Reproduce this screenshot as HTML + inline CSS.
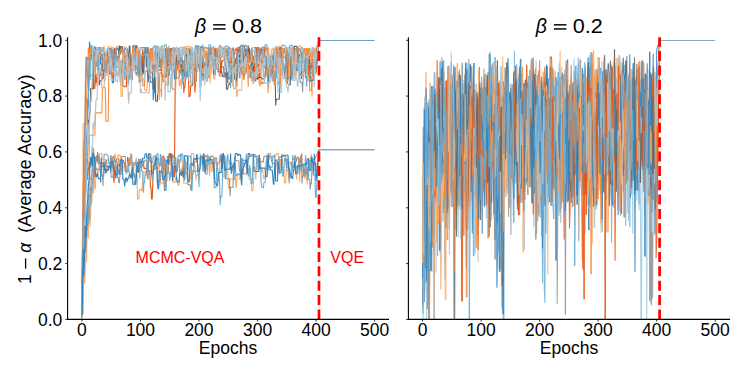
<!DOCTYPE html>
<html><head><meta charset="utf-8"><style>
html,body{margin:0;padding:0;background:#fff;}
svg{display:block;font-family:"Liberation Sans",sans-serif;}
</style></head><body>
<svg width="747" height="376" viewBox="0 0 747 376">
<rect width="747" height="376" fill="#fff"/>
<defs>
<filter id="bl" x="0" y="0" width="1" height="1"><feGaussianBlur stdDeviation="0.4"/></filter>
<clipPath id="cl"><rect x="67.6" y="37.2" width="321.4" height="282.2"/></clipPath>
<clipPath id="cr"><rect x="408.4" y="37.2" width="321.6" height="282.2"/></clipPath>
</defs>
<g clip-path="url(#cl)"><g fill="none" stroke-width="1.1" stroke-linejoin="round" stroke-opacity="1.0" filter="url(#bl)">
<polyline points="81.9,311.9 82.5,276.4 83.1,264.7 83.7,199.0 84.2,180.0 84.8,180.0 85.4,180.0 86.0,180.0 86.6,180.0 87.2,180.0 87.8,167.6 88.3,167.6 88.9,167.6 89.5,176.1 90.1,179.1 90.7,179.1 91.3,179.1 91.9,179.1 92.4,179.1 93.0,179.1 93.6,179.1 94.2,179.1 94.8,156.6 95.4,157.9 96.0,157.9 96.5,157.9 97.1,161.0 97.7,152.6 98.3,162.9 98.9,162.9 99.5,162.9 100.1,162.9 100.6,162.9 101.2,162.9 101.8,162.9 102.4,162.9 103.0,162.9 103.6,173.0 104.1,173.0 104.7,173.0 105.3,173.0 105.9,166.4 106.5,166.4 107.1,166.4 107.7,166.4 108.2,170.6 108.8,167.2 109.4,167.2 110.0,167.2 110.6,160.4 111.2,159.8 111.8,159.8 112.3,159.8 112.9,159.8 113.5,177.0 114.1,182.6 114.7,166.7 115.3,164.0 115.9,164.0 116.4,158.8 117.0,158.8 117.6,158.8 118.2,158.8 118.8,158.8 119.4,173.9 120.0,169.7 120.5,169.7 121.1,160.6 121.7,160.6 122.3,160.6 122.9,160.6 123.5,160.6 124.1,163.3 124.6,163.3 125.2,170.9 125.8,170.9 126.4,170.9 127.0,170.9 127.6,157.3 128.2,159.3 128.7,166.2 129.3,165.3 129.9,157.8 130.5,157.8 131.1,165.0 131.7,165.0 132.3,165.0 132.8,165.0 133.4,165.0 134.0,165.0 134.6,165.0 135.2,165.0 135.8,160.8 136.4,163.7 136.9,163.7 137.5,163.7 138.1,163.7 138.7,172.5 139.3,165.3 139.9,166.5 140.5,166.5 141.0,167.3 141.6,161.1 142.2,161.1 142.8,161.1 143.4,161.3 144.0,168.4 144.5,168.4 145.1,168.4 145.7,168.4 146.3,168.4 146.9,173.0 147.5,161.9 148.1,170.9 148.6,170.9 149.2,170.9 149.8,170.9 150.4,187.3 151.0,187.3 151.6,198.9 152.2,198.9 152.7,186.2 153.3,170.0 153.9,169.3 154.5,169.3 155.1,169.3 155.7,158.8 156.3,158.8 156.8,158.8 157.4,158.8 158.0,158.8 158.6,165.0 159.2,165.0 159.8,165.0 160.4,165.0 160.9,163.0 161.5,158.1 162.1,158.1 162.7,156.2 163.3,156.2 163.9,156.2 164.5,190.5 165.0,190.5 165.6,190.5 166.2,173.5 166.8,173.5 167.4,173.5 168.0,173.5 168.6,163.6 169.1,153.8 169.7,153.8 170.3,153.8 170.9,164.2 171.5,164.2 172.1,164.2 172.7,169.6 173.2,176.7 173.8,176.7 174.4,176.7 175.0,107.3 175.6,56.0 176.2,56.0 176.8,56.0 177.3,56.0 177.9,56.0 178.5,56.0 179.1,72.8 179.7,71.7 180.3,71.6 180.8,65.0 181.4,65.0 182.0,65.0 182.6,68.4 183.2,68.4 183.8,92.7 184.4,87.1 184.9,87.1 185.5,77.0 186.1,77.0 186.7,77.0 187.3,59.7 187.9,76.5 188.5,76.5 189.0,96.7 189.6,96.7 190.2,94.5 190.8,85.4 191.4,85.4 192.0,85.4 192.6,85.4 193.1,63.3 193.7,63.3 194.3,73.2 194.9,73.2 195.5,49.5 196.1,48.7 196.7,48.7 197.2,48.7 197.8,48.2 198.4,48.2 199.0,52.2 199.6,52.2 200.2,50.1 200.8,66.2 201.3,47.4 201.9,47.4 202.5,47.4 203.1,50.5 203.7,69.5 204.3,62.7 204.9,62.7 205.4,62.7 206.0,64.0 206.6,64.0 207.2,65.1 207.8,68.6 208.4,68.6 209.0,50.9 209.5,76.0 210.1,57.6 210.7,57.6 211.3,57.6 211.9,57.6 212.5,62.4 213.1,62.4 213.6,62.4 214.2,62.4 214.8,62.4 215.4,56.3 216.0,56.3 216.6,68.6 217.2,56.0 217.7,56.0 218.3,56.0 218.9,59.6 219.5,55.1 220.1,55.1 220.7,74.0 221.2,66.9 221.8,66.9 222.4,66.9 223.0,66.9 223.6,66.9 224.2,77.4 224.8,73.0 225.3,73.0 225.9,73.0 226.5,73.0 227.1,73.0 227.7,83.0 228.3,72.1 228.9,72.1 229.4,72.1 230.0,50.9 230.6,66.8 231.2,67.7 231.8,67.7 232.4,50.3 233.0,50.3 233.5,47.9 234.1,58.6 234.7,58.6 235.3,64.6 235.9,64.6 236.5,64.6 237.1,47.8 237.6,47.8 238.2,47.8 238.8,47.8 239.4,47.8 240.0,47.8 240.6,60.2 241.2,60.2 241.7,60.4 242.3,58.8 242.9,47.4 243.5,58.5 244.1,62.7 244.7,63.6 245.3,63.6 245.8,63.6 246.4,67.0 247.0,73.1 247.6,73.1 248.2,56.9 248.8,56.9 249.4,56.9 249.9,56.9 250.5,56.9 251.1,56.9 251.7,50.1 252.3,66.0 252.9,66.0 253.5,56.3 254.0,56.3 254.6,56.3 255.2,47.5 255.8,47.5 256.4,47.5 257.0,55.4 257.6,55.4 258.1,48.5 258.7,48.1 259.3,48.1 259.9,66.9 260.5,49.4 261.1,49.4 261.6,49.4 262.2,47.3 262.8,47.3 263.4,47.3 264.0,47.3 264.6,67.7 265.2,47.5 265.7,50.8 266.3,48.1 266.9,48.1 267.5,48.1 268.1,48.1 268.7,53.7 269.3,58.5 269.8,58.5 270.4,58.5 271.0,58.5 271.6,58.5 272.2,58.7 272.8,58.7 273.4,76.4 273.9,80.0 274.5,80.0 275.1,80.0 275.7,70.5 276.3,60.4 276.9,47.8 277.5,47.8 278.0,66.0 278.6,72.6 279.2,49.5 279.8,49.5 280.4,49.5 281.0,47.4 281.6,57.3 282.1,57.3 282.7,57.3 283.3,57.3 283.9,49.3 284.5,52.2 285.1,52.2 285.7,52.2 286.2,52.2 286.8,54.0 287.4,83.5 288.0,58.4 288.6,58.4 289.2,58.4 289.8,58.4 290.3,62.4 290.9,62.4 291.5,58.5 292.1,58.5 292.7,56.7 293.3,56.5 293.9,48.4 294.4,48.4 295.0,50.3 295.6,50.3 296.2,50.3 296.8,47.4 297.4,48.6 297.9,48.6 298.5,54.2 299.1,54.2 299.7,54.2 300.3,55.3 300.9,58.0 301.5,58.0 302.0,62.9 302.6,62.9 303.2,62.0 303.8,59.7 304.4,48.7 305.0,48.7 305.6,48.7 306.1,66.2 306.7,66.2 307.3,72.8 307.9,49.4 308.5,76.4 309.1,76.4 309.7,76.4 310.2,76.4 310.8,78.1 311.4,78.1 312.0,80.3 312.6,80.3 313.2,51.6 313.8,51.6 314.3,51.6 314.9,50.4 315.5,50.4 316.1,73.2 319.0,40.3" stroke="#e6550d"/>
<polyline points="81.9,305.4 82.5,305.4 83.1,124.0 83.7,124.0 84.2,124.0 84.8,124.0 85.4,124.0 86.0,124.0 86.6,124.0 87.2,101.7 87.8,101.7 88.3,101.7 88.9,101.7 89.5,101.7 90.1,101.7 90.7,101.7 91.3,101.7 91.9,85.0 92.4,85.0 93.0,85.0 93.6,85.0 94.2,85.0 94.8,85.0 95.4,85.0 96.0,85.0 96.5,85.0 97.1,85.0 97.7,85.0 98.3,85.0 98.9,85.0 99.5,73.8 100.1,73.8 100.6,73.8 101.2,73.8 101.8,73.8 102.4,73.8 103.0,73.8 103.6,73.8 104.1,46.1 104.7,72.1 105.3,74.5 105.9,74.5 106.5,60.5 107.1,60.5 107.7,57.1 108.2,46.9 108.8,46.9 109.4,46.9 110.0,46.9 110.6,46.9 111.2,47.3 111.8,47.3 112.3,47.3 112.9,47.3 113.5,47.3 114.1,62.1 114.7,62.1 115.3,66.3 115.9,62.4 116.4,46.7 117.0,46.7 117.6,46.7 118.2,46.7 118.8,45.8 119.4,57.2 120.0,81.8 120.5,81.8 121.1,96.4 121.7,96.4 122.3,96.4 122.9,59.8 123.5,59.8 124.1,59.8 124.6,59.8 125.2,59.8 125.8,59.8 126.4,59.8 127.0,58.5 127.6,58.5 128.2,58.5 128.7,58.5 129.3,58.5 129.9,58.5 130.5,58.5 131.1,61.7 131.7,61.7 132.3,58.3 132.8,66.1 133.4,66.1 134.0,51.8 134.6,49.9 135.2,45.8 135.8,50.0 136.4,64.1 136.9,58.5 137.5,63.3 138.1,63.3 138.7,63.3 139.3,63.3 139.9,69.7 140.5,69.7 141.0,69.7 141.6,69.7 142.2,69.7 142.8,66.8 143.4,66.8 144.0,60.2 144.5,89.6 145.1,89.6 145.7,90.9 146.3,90.9 146.9,90.9 147.5,77.2 148.1,59.2 148.6,59.2 149.2,59.2 149.8,59.2 150.4,78.6 151.0,78.6 151.6,77.3 152.2,77.3 152.7,77.3 153.3,68.3 153.9,68.0 154.5,65.2 155.1,65.2 155.7,65.2 156.3,70.5 156.8,70.5 157.4,70.5 158.0,61.2 158.6,61.2 159.2,67.0 159.8,49.8 160.4,49.8 160.9,49.8 161.5,51.9 162.1,51.9 162.7,61.4 163.3,61.4 163.9,61.4 164.5,50.1 165.0,55.0 165.6,56.8 166.2,56.8 166.8,56.8 167.4,56.8 168.0,61.0 168.6,46.1 169.1,46.1 169.7,51.6 170.3,51.6 170.9,54.4 171.5,71.1 172.1,71.1 172.7,71.1 173.2,71.1 173.8,72.9 174.4,60.6 175.0,56.4 175.6,56.4 176.2,56.4 176.8,68.3 177.3,68.3 177.9,68.3 178.5,68.6 179.1,85.6 179.7,85.6 180.3,79.4 180.8,79.4 181.4,88.6 182.0,74.3 182.6,74.3 183.2,80.8 183.8,82.0 184.4,82.0 184.9,46.5 185.5,46.6 186.1,46.5 186.7,46.5 187.3,46.5 187.9,46.5 188.5,46.5 189.0,46.5 189.6,46.9 190.2,46.9 190.8,46.9 191.4,59.7 192.0,59.7 192.6,72.8 193.1,72.8 193.7,72.8 194.3,72.8 194.9,72.8 195.5,72.8 196.1,55.0 196.7,55.0 197.2,55.0 197.8,53.4 198.4,53.4 199.0,53.4 199.6,53.4 200.2,73.2 200.8,73.2 201.3,52.8 201.9,52.8 202.5,51.5 203.1,51.5 203.7,51.5 204.3,54.0 204.9,54.0 205.4,54.0 206.0,54.0 206.6,57.9 207.2,57.9 207.8,50.0 208.4,50.0 209.0,50.0 209.5,73.5 210.1,83.1 210.7,57.4 211.3,57.4 211.9,57.4 212.5,65.7 213.1,62.5 213.6,79.0 214.2,79.0 214.8,79.0 215.4,67.2 216.0,50.8 216.6,56.3 217.2,56.3 217.7,59.0 218.3,72.7 218.9,46.8 219.5,54.6 220.1,53.4 220.7,46.5 221.2,46.5 221.8,46.5 222.4,50.9 223.0,50.9 223.6,50.9 224.2,50.9 224.8,50.9 225.3,50.9 225.9,53.9 226.5,53.9 227.1,53.9 227.7,58.5 228.3,58.5 228.9,54.7 229.4,55.8 230.0,61.6 230.6,73.5 231.2,73.5 231.8,56.1 232.4,85.8 233.0,61.0 233.5,61.0 234.1,64.7 234.7,64.7 235.3,58.0 235.9,76.5 236.5,96.2 237.1,96.2 237.6,90.1 238.2,90.1 238.8,90.1 239.4,90.1 240.0,90.1 240.6,90.1 241.2,90.1 241.7,90.1 242.3,66.0 242.9,66.0 243.5,73.0 244.1,73.0 244.7,72.7 245.3,72.7 245.8,72.7 246.4,72.7 247.0,72.7 247.6,72.7 248.2,53.5 248.8,49.5 249.4,49.5 249.9,49.5 250.5,49.5 251.1,56.8 251.7,56.8 252.3,68.1 252.9,67.1 253.5,62.0 254.0,62.0 254.6,62.0 255.2,60.9 255.8,60.9 256.4,76.2 257.0,76.2 257.6,60.0 258.1,60.0 258.7,60.0 259.3,68.3 259.9,86.6 260.5,80.4 261.1,84.4 261.6,53.1 262.2,57.8 262.8,63.4 263.4,68.0 264.0,60.7 264.6,64.5 265.2,64.5 265.7,64.5 266.3,64.5 266.9,60.1 267.5,60.1 268.1,48.0 268.7,48.0 269.3,60.2 269.8,60.2 270.4,55.3 271.0,55.3 271.6,49.0 272.2,49.0 272.8,47.9 273.4,52.8 273.9,65.2 274.5,67.7 275.1,67.7 275.7,73.1 276.3,73.1 276.9,73.1 277.5,73.1 278.0,73.1 278.6,45.7 279.2,46.6 279.8,46.9 280.4,46.4 281.0,50.1 281.6,50.1 282.1,48.2 282.7,48.2 283.3,50.2 283.9,50.2 284.5,50.2 285.1,50.2 285.7,50.2 286.2,54.5 286.8,57.7 287.4,58.1 288.0,58.1 288.6,54.8 289.2,54.6 289.8,54.6 290.3,54.6 290.9,54.6 291.5,54.6 292.1,54.6 292.7,57.1 293.3,55.7 293.9,56.6 294.4,66.4 295.0,77.4 295.6,77.4 296.2,77.4 296.8,58.3 297.4,58.3 297.9,54.4 298.5,46.1 299.1,46.1 299.7,46.1 300.3,46.1 300.9,46.9 301.5,46.9 302.0,51.3 302.6,51.3 303.2,49.0 303.8,53.8 304.4,53.8 305.0,53.8 305.6,48.9 306.1,48.9 306.7,48.9 307.3,80.9 307.9,80.9 308.5,80.9 309.1,74.4 309.7,74.4 310.2,69.1 310.8,67.7 311.4,77.1 312.0,96.6 312.6,76.9 313.2,76.9 313.8,59.3 314.3,59.3 314.9,55.1 315.5,50.3 316.1,50.3 319.0,40.3" stroke="#fdae6b"/>
<polyline points="81.9,313.8 82.5,313.8 83.1,313.8 83.7,235.7 84.2,235.7 84.8,235.7 85.4,165.9 86.0,165.9 86.6,165.9 87.2,165.9 87.8,165.9 88.3,165.9 88.9,165.9 89.5,135.2 90.1,135.2 90.7,135.2 91.3,135.2 91.9,135.2 92.4,135.2 93.0,135.2 93.6,135.2 94.2,135.2 94.8,135.2 95.4,112.9 96.0,112.9 96.5,112.9 97.1,112.9 97.7,112.9 98.3,112.9 98.9,112.9 99.5,112.9 100.1,112.9 100.6,112.9 101.2,112.9 101.8,112.9 102.4,87.7 103.0,87.7 103.6,87.7 104.1,87.7 104.7,87.7 105.3,87.7 105.9,121.2 106.5,121.2 107.1,121.2 107.7,121.2 108.2,121.2 108.8,73.8 109.4,73.8 110.0,73.8 110.6,73.8 111.2,49.3 111.8,49.3 112.3,50.7 112.9,52.6 113.5,52.6 114.1,52.6 114.7,64.7 115.3,64.7 115.9,64.7 116.4,57.1 117.0,57.1 117.6,57.1 118.2,57.1 118.8,57.1 119.4,57.1 120.0,76.0 120.5,76.0 121.1,62.2 121.7,62.2 122.3,62.2 122.9,58.6 123.5,58.6 124.1,58.6 124.6,48.9 125.2,48.9 125.8,48.9 126.4,48.9 127.0,48.9 127.6,66.7 128.2,66.7 128.7,66.7 129.3,66.7 129.9,67.4 130.5,67.4 131.1,67.4 131.7,67.4 132.3,67.4 132.8,49.3 133.4,49.3 134.0,49.3 134.6,49.3 135.2,58.1 135.8,66.5 136.4,64.7 136.9,64.7 137.5,73.6 138.1,73.6 138.7,65.0 139.3,65.0 139.9,55.8 140.5,55.8 141.0,55.8 141.6,57.7 142.2,52.9 142.8,52.9 143.4,52.9 144.0,52.9 144.5,52.9 145.1,52.9 145.7,52.9 146.3,52.9 146.9,52.9 147.5,74.3 148.1,74.3 148.6,75.4 149.2,75.4 149.8,63.5 150.4,50.0 151.0,50.0 151.6,63.5 152.2,63.6 152.7,60.6 153.3,60.6 153.9,60.6 154.5,61.1 155.1,61.1 155.7,61.1 156.3,61.1 156.8,61.1 157.4,61.1 158.0,61.1 158.6,84.1 159.2,99.4 159.8,72.9 160.4,72.9 160.9,72.9 161.5,72.9 162.1,72.9 162.7,81.6 163.3,81.6 163.9,81.6 164.5,57.5 165.0,57.5 165.6,57.5 166.2,57.5 166.8,61.8 167.4,61.8 168.0,81.6 168.6,85.4 169.1,69.6 169.7,63.5 170.3,63.5 170.9,60.5 171.5,48.9 172.1,48.9 172.7,48.5 173.2,48.5 173.8,48.5 174.4,65.8 175.0,65.8 175.6,70.4 176.2,70.4 176.8,70.4 177.3,70.4 177.9,68.7 178.5,51.6 179.1,49.9 179.7,65.0 180.3,65.0 180.8,65.0 181.4,65.0 182.0,65.0 182.6,66.7 183.2,66.7 183.8,66.7 184.4,66.7 184.9,66.7 185.5,66.7 186.1,66.7 186.7,66.7 187.3,48.9 187.9,62.7 188.5,79.9 189.0,63.8 189.6,50.1 190.2,50.1 190.8,50.1 191.4,50.1 192.0,52.1 192.6,52.1 193.1,52.1 193.7,61.4 194.3,61.4 194.9,48.4 195.5,52.8 196.1,52.8 196.7,52.8 197.2,52.8 197.8,52.8 198.4,52.8 199.0,52.8 199.6,48.5 200.2,48.5 200.8,48.5 201.3,48.5 201.9,55.6 202.5,74.4 203.1,74.4 203.7,74.4 204.3,74.4 204.9,74.4 205.4,74.4 206.0,68.5 206.6,61.7 207.2,61.7 207.8,76.5 208.4,55.2 209.0,58.4 209.5,48.0 210.1,48.0 210.7,48.0 211.3,48.0 211.9,48.0 212.5,48.0 213.1,48.0 213.6,48.0 214.2,54.4 214.8,54.4 215.4,58.4 216.0,58.4 216.6,61.0 217.2,68.0 217.7,68.0 218.3,68.0 218.9,53.1 219.5,49.2 220.1,49.2 220.7,49.2 221.2,49.2 221.8,49.2 222.4,49.2 223.0,49.2 223.6,54.8 224.2,52.1 224.8,49.4 225.3,49.4 225.9,49.4 226.5,49.6 227.1,55.5 227.7,55.5 228.3,68.2 228.9,66.8 229.4,66.8 230.0,57.1 230.6,65.4 231.2,65.4 231.8,69.9 232.4,68.4 233.0,68.4 233.5,62.7 234.1,71.3 234.7,71.3 235.3,72.8 235.9,72.8 236.5,85.9 237.1,85.9 237.6,71.0 238.2,66.0 238.8,66.0 239.4,66.0 240.0,66.0 240.6,66.0 241.2,70.7 241.7,72.9 242.3,58.1 242.9,72.2 243.5,79.4 244.1,79.4 244.7,55.7 245.3,60.9 245.8,60.9 246.4,60.9 247.0,60.9 247.6,61.4 248.2,61.4 248.8,61.4 249.4,61.4 249.9,61.4 250.5,61.4 251.1,70.8 251.7,80.7 252.3,80.7 252.9,80.7 253.5,80.7 254.0,80.7 254.6,80.7 255.2,69.2 255.8,69.2 256.4,70.1 257.0,67.9 257.6,67.9 258.1,79.0 258.7,74.1 259.3,84.3 259.9,84.3 260.5,84.3 261.1,84.3 261.6,81.8 262.2,81.8 262.8,83.5 263.4,83.5 264.0,83.5 264.6,73.0 265.2,73.0 265.7,66.8 266.3,66.4 266.9,66.4 267.5,74.1 268.1,92.5 268.7,79.5 269.3,65.7 269.8,65.7 270.4,65.7 271.0,65.7 271.6,65.7 272.2,65.7 272.8,80.0 273.4,71.3 273.9,72.6 274.5,72.6 275.1,72.6 275.7,64.5 276.3,64.5 276.9,64.5 277.5,68.7 278.0,68.7 278.6,48.0 279.2,48.0 279.8,48.0 280.4,48.0 281.0,64.6 281.6,64.6 282.1,48.5 282.7,48.5 283.3,48.5 283.9,48.5 284.5,48.5 285.1,49.1 285.7,49.1 286.2,48.6 286.8,80.6 287.4,80.6 288.0,80.6 288.6,74.5 289.2,74.5 289.8,74.5 290.3,58.1 290.9,75.0 291.5,74.9 292.1,74.9 292.7,74.9 293.3,52.2 293.9,62.4 294.4,59.5 295.0,52.1 295.6,53.3 296.2,53.1 296.8,48.1 297.4,52.8 297.9,50.0 298.5,60.7 299.1,62.0 299.7,62.0 300.3,60.3 300.9,48.4 301.5,48.4 302.0,48.8 302.6,48.8 303.2,48.8 303.8,48.8 304.4,49.8 305.0,49.8 305.6,49.1 306.1,49.1 306.7,48.5 307.3,60.6 307.9,67.1 308.5,59.7 309.1,59.7 309.7,90.5 310.2,90.5 310.8,90.5 311.4,90.5 312.0,76.6 312.6,76.6 313.2,76.6 313.8,72.8 314.3,70.0 314.9,70.0 315.5,70.0 316.1,70.0 319.0,40.3" stroke="#fd8d3c"/>
<polyline points="81.9,312.9 82.5,288.8 83.1,275.9 83.7,215.1 84.2,229.4 84.8,205.6 85.4,152.7 86.0,155.8 86.6,138.3 87.2,132.7 87.8,98.8 88.3,106.8 88.9,67.5 89.5,41.9 90.1,54.9 90.7,54.9 91.3,54.9 91.9,56.7 92.4,61.3 93.0,48.4 93.6,48.4 94.2,48.4 94.8,48.4 95.4,48.0 96.0,50.0 96.5,50.0 97.1,50.0 97.7,49.0 98.3,49.0 98.9,49.1 99.5,48.6 100.1,48.6 100.6,64.0 101.2,64.0 101.8,64.0 102.4,70.2 103.0,70.2 103.6,70.2 104.1,78.8 104.7,67.3 105.3,52.7 105.9,52.7 106.5,57.0 107.1,57.0 107.7,57.0 108.2,57.0 108.8,57.0 109.4,56.2 110.0,56.2 110.6,56.2 111.2,56.2 111.8,56.2 112.3,82.6 112.9,82.6 113.5,82.6 114.1,49.8 114.7,48.6 115.3,50.2 115.9,50.2 116.4,49.4 117.0,49.2 117.6,48.2 118.2,48.2 118.8,54.1 119.4,54.1 120.0,54.1 120.5,54.1 121.1,49.3 121.7,49.4 122.3,52.7 122.9,52.7 123.5,52.7 124.1,49.0 124.6,49.0 125.2,49.0 125.8,49.0 126.4,49.0 127.0,49.0 127.6,49.0 128.2,55.4 128.7,55.4 129.3,63.2 129.9,63.2 130.5,66.8 131.1,66.8 131.7,79.8 132.3,79.8 132.8,58.9 133.4,58.9 134.0,58.9 134.6,58.9 135.2,58.9 135.8,72.7 136.4,72.7 136.9,75.3 137.5,75.3 138.1,75.3 138.7,75.3 139.3,75.3 139.9,75.3 140.5,67.0 141.0,67.0 141.6,67.0 142.2,67.0 142.8,55.5 143.4,55.2 144.0,56.3 144.5,50.9 145.1,50.9 145.7,50.9 146.3,66.7 146.9,48.9 147.5,48.9 148.1,48.9 148.6,48.1 149.2,76.6 149.8,67.4 150.4,82.2 151.0,82.2 151.6,82.2 152.2,82.2 152.7,78.3 153.3,99.7 153.9,92.2 154.5,92.2 155.1,57.3 155.7,57.3 156.3,56.0 156.8,56.0 157.4,56.0 158.0,56.0 158.6,56.0 159.2,66.7 159.8,66.7 160.4,66.7 160.9,66.7 161.5,66.7 162.1,49.3 162.7,55.0 163.3,55.0 163.9,55.0 164.5,48.9 165.0,48.9 165.6,48.9 166.2,67.4 166.8,77.1 167.4,50.8 168.0,48.3 168.6,49.1 169.1,49.1 169.7,51.3 170.3,51.3 170.9,48.8 171.5,48.8 172.1,48.8 172.7,54.5 173.2,54.5 173.8,54.5 174.4,78.7 175.0,78.7 175.6,78.7 176.2,78.7 176.8,68.5 177.3,68.5 177.9,60.7 178.5,53.9 179.1,53.9 179.7,53.9 180.3,60.4 180.8,60.4 181.4,60.4 182.0,50.6 182.6,63.1 183.2,63.1 183.8,69.0 184.4,75.7 184.9,53.1 185.5,62.7 186.1,48.3 186.7,72.2 187.3,74.1 187.9,74.1 188.5,74.1 189.0,74.1 189.6,74.1 190.2,74.1 190.8,57.8 191.4,68.7 192.0,68.7 192.6,68.7 193.1,70.7 193.7,70.7 194.3,70.7 194.9,70.7 195.5,70.7 196.1,63.2 196.7,54.4 197.2,55.0 197.8,55.0 198.4,55.0 199.0,55.0 199.6,55.0 200.2,65.5 200.8,76.1 201.3,64.1 201.9,49.9 202.5,55.3 203.1,80.3 203.7,64.8 204.3,64.8 204.9,64.8 205.4,64.8 206.0,59.5 206.6,58.4 207.2,58.4 207.8,58.4 208.4,66.9 209.0,66.9 209.5,66.9 210.1,56.5 210.7,56.5 211.3,48.6 211.9,48.6 212.5,51.7 213.1,51.7 213.6,74.1 214.2,62.6 214.8,62.6 215.4,58.6 216.0,48.5 216.6,48.5 217.2,55.6 217.7,55.6 218.3,48.5 218.9,48.1 219.5,48.1 220.1,48.1 220.7,48.1 221.2,48.1 221.8,48.1 222.4,48.1 223.0,48.1 223.6,48.1 224.2,49.3 224.8,50.3 225.3,64.8 225.9,66.1 226.5,66.1 227.1,78.7 227.7,78.7 228.3,78.7 228.9,78.7 229.4,78.7 230.0,78.7 230.6,69.4 231.2,69.4 231.8,66.9 232.4,66.9 233.0,66.9 233.5,66.9 234.1,66.9 234.7,66.9 235.3,61.5 235.9,58.9 236.5,58.9 237.1,58.9 237.6,54.3 238.2,49.4 238.8,49.4 239.4,58.3 240.0,52.2 240.6,52.2 241.2,52.2 241.7,48.6 242.3,56.3 242.9,61.4 243.5,56.8 244.1,56.7 244.7,56.7 245.3,56.7 245.8,49.1 246.4,49.1 247.0,54.0 247.6,56.6 248.2,56.6 248.8,56.6 249.4,56.6 249.9,58.1 250.5,58.1 251.1,65.8 251.7,65.8 252.3,56.7 252.9,56.7 253.5,69.4 254.0,69.8 254.6,73.7 255.2,73.7 255.8,81.3 256.4,55.6 257.0,55.6 257.6,48.0 258.1,48.0 258.7,48.0 259.3,48.3 259.9,48.5 260.5,57.3 261.1,49.6 261.6,49.6 262.2,49.6 262.8,59.1 263.4,59.1 264.0,55.7 264.6,55.7 265.2,55.7 265.7,58.9 266.3,58.9 266.9,65.0 267.5,65.0 268.1,68.0 268.7,68.0 269.3,68.0 269.8,68.0 270.4,56.5 271.0,70.6 271.6,58.4 272.2,58.4 272.8,58.4 273.4,52.0 273.9,64.1 274.5,64.1 275.1,64.1 275.7,64.1 276.3,64.1 276.9,66.6 277.5,66.6 278.0,66.6 278.6,59.1 279.2,54.8 279.8,57.8 280.4,66.5 281.0,56.4 281.6,58.7 282.1,58.7 282.7,58.7 283.3,63.8 283.9,66.8 284.5,66.8 285.1,66.8 285.7,66.8 286.2,66.8 286.8,66.8 287.4,63.9 288.0,63.9 288.6,60.3 289.2,70.3 289.8,85.0 290.3,85.0 290.9,63.6 291.5,71.0 292.1,79.9 292.7,54.4 293.3,48.0 293.9,48.0 294.4,52.6 295.0,61.2 295.6,61.2 296.2,70.1 296.8,70.1 297.4,70.1 297.9,70.1 298.5,55.2 299.1,55.2 299.7,55.2 300.3,59.6 300.9,59.6 301.5,52.6 302.0,52.6 302.6,62.1 303.2,62.1 303.8,62.1 304.4,62.1 305.0,65.8 305.6,65.8 306.1,66.5 306.7,56.7 307.3,56.7 307.9,56.7 308.5,56.7 309.1,56.7 309.7,59.5 310.2,81.1 310.8,81.1 311.4,81.1 312.0,80.1 312.6,80.1 313.2,80.1 313.8,80.1 314.3,68.4 314.9,68.4 315.5,68.4 316.1,68.4 319.0,40.3" stroke="#3182bd"/>
<polyline points="81.9,293.0 82.5,239.1 83.1,216.1 83.7,159.5 84.2,147.2 84.8,130.5 85.4,117.7 86.0,73.1 86.6,65.1 87.2,57.7 87.8,57.7 88.3,57.7 88.9,58.7 89.5,58.7 90.1,58.7 90.7,48.5 91.3,48.5 91.9,48.5 92.4,65.3 93.0,87.8 93.6,87.8 94.2,88.3 94.8,88.3 95.4,74.8 96.0,82.7 96.5,82.7 97.1,73.5 97.7,76.7 98.3,69.6 98.9,69.6 99.5,69.6 100.1,69.6 100.6,75.4 101.2,75.6 101.8,78.8 102.4,78.8 103.0,78.8 103.6,73.1 104.1,73.1 104.7,73.1 105.3,73.1 105.9,72.3 106.5,72.3 107.1,72.3 107.7,53.9 108.2,56.1 108.8,56.1 109.4,73.7 110.0,73.7 110.6,73.7 111.2,71.6 111.8,76.6 112.3,76.6 112.9,60.2 113.5,60.5 114.1,60.5 114.7,48.9 115.3,49.2 115.9,73.4 116.4,73.4 117.0,73.4 117.6,73.4 118.2,73.4 118.8,68.7 119.4,68.7 120.0,68.7 120.5,67.1 121.1,67.1 121.7,67.1 122.3,85.2 122.9,85.2 123.5,85.2 124.1,86.7 124.6,86.7 125.2,86.7 125.8,86.7 126.4,86.7 127.0,65.2 127.6,65.2 128.2,65.2 128.7,65.2 129.3,60.4 129.9,60.4 130.5,60.4 131.1,76.5 131.7,60.4 132.3,60.4 132.8,60.4 133.4,60.4 134.0,60.4 134.6,60.4 135.2,67.9 135.8,67.9 136.4,67.9 136.9,67.9 137.5,67.9 138.1,67.9 138.7,67.9 139.3,82.0 139.9,82.0 140.5,80.4 141.0,80.4 141.6,59.7 142.2,65.9 142.8,49.1 143.4,72.3 144.0,72.3 144.5,52.1 145.1,52.1 145.7,48.0 146.3,48.0 146.9,48.0 147.5,60.7 148.1,48.6 148.6,48.6 149.2,57.6 149.8,57.6 150.4,57.6 151.0,48.7 151.6,48.7 152.2,48.7 152.7,62.3 153.3,62.3 153.9,62.3 154.5,52.3 155.1,52.3 155.7,54.0 156.3,54.0 156.8,54.0 157.4,48.3 158.0,68.5 158.6,68.5 159.2,54.3 159.8,48.3 160.4,63.5 160.9,65.7 161.5,73.4 162.1,76.0 162.7,76.0 163.3,76.0 163.9,76.0 164.5,76.0 165.0,76.0 165.6,76.0 166.2,76.0 166.8,76.0 167.4,76.0 168.0,76.0 168.6,64.2 169.1,64.2 169.7,64.2 170.3,48.9 170.9,48.9 171.5,48.9 172.1,48.9 172.7,48.1 173.2,59.0 173.8,57.9 174.4,48.0 175.0,48.2 175.6,64.6 176.2,61.2 176.8,57.4 177.3,57.4 177.9,62.2 178.5,62.2 179.1,62.2 179.7,57.4 180.3,57.4 180.8,57.4 181.4,57.4 182.0,57.4 182.6,48.0 183.2,48.0 183.8,48.0 184.4,48.0 184.9,48.0 185.5,48.0 186.1,48.0 186.7,51.4 187.3,51.4 187.9,48.0 188.5,63.1 189.0,57.5 189.6,57.5 190.2,57.5 190.8,57.5 191.4,63.7 192.0,65.2 192.6,64.7 193.1,64.7 193.7,64.7 194.3,64.3 194.9,92.1 195.5,81.6 196.1,81.6 196.7,69.2 197.2,69.2 197.8,69.2 198.4,64.4 199.0,64.4 199.6,66.6 200.2,86.8 200.8,86.8 201.3,74.4 201.9,74.4 202.5,65.3 203.1,62.2 203.7,67.9 204.3,67.9 204.9,67.9 205.4,71.3 206.0,78.8 206.6,54.1 207.2,54.1 207.8,54.1 208.4,54.1 209.0,48.3 209.5,57.1 210.1,57.1 210.7,64.4 211.3,64.4 211.9,64.4 212.5,64.4 213.1,64.7 213.6,59.0 214.2,59.0 214.8,48.3 215.4,48.3 216.0,48.3 216.6,48.3 217.2,57.0 217.7,57.0 218.3,57.0 218.9,57.0 219.5,63.6 220.1,54.1 220.7,54.1 221.2,72.3 221.8,61.7 222.4,61.7 223.0,60.3 223.6,60.3 224.2,60.3 224.8,52.1 225.3,51.4 225.9,51.4 226.5,51.4 227.1,51.4 227.7,51.4 228.3,62.7 228.9,62.7 229.4,62.7 230.0,62.7 230.6,62.7 231.2,62.7 231.8,62.7 232.4,48.3 233.0,53.5 233.5,53.5 234.1,53.5 234.7,53.5 235.3,49.1 235.9,49.1 236.5,49.1 237.1,48.6 237.6,50.6 238.2,50.6 238.8,50.6 239.4,50.6 240.0,70.0 240.6,70.0 241.2,66.0 241.7,72.2 242.3,60.3 242.9,60.3 243.5,60.3 244.1,67.6 244.7,67.6 245.3,67.6 245.8,67.6 246.4,67.6 247.0,66.2 247.6,62.7 248.2,49.0 248.8,48.4 249.4,48.4 249.9,63.7 250.5,63.7 251.1,63.7 251.7,48.1 252.3,48.1 252.9,79.8 253.5,79.8 254.0,79.8 254.6,63.2 255.2,66.8 255.8,66.8 256.4,66.8 257.0,66.8 257.6,65.7 258.1,65.7 258.7,64.2 259.3,77.2 259.9,77.2 260.5,61.3 261.1,61.3 261.6,61.3 262.2,61.3 262.8,61.3 263.4,66.0 264.0,66.0 264.6,61.3 265.2,61.3 265.7,61.3 266.3,61.3 266.9,62.0 267.5,62.0 268.1,69.9 268.7,69.9 269.3,69.9 269.8,69.9 270.4,69.9 271.0,69.9 271.6,69.9 272.2,69.9 272.8,69.9 273.4,69.9 273.9,53.6 274.5,53.6 275.1,53.6 275.7,53.6 276.3,67.9 276.9,67.9 277.5,67.9 278.0,67.9 278.6,67.9 279.2,69.9 279.8,47.9 280.4,47.9 281.0,47.9 281.6,57.2 282.1,57.2 282.7,57.2 283.3,57.2 283.9,57.2 284.5,57.2 285.1,57.2 285.7,60.3 286.2,51.1 286.8,66.1 287.4,66.1 288.0,66.9 288.6,72.0 289.2,54.4 289.8,47.9 290.3,47.9 290.9,47.9 291.5,48.8 292.1,48.8 292.7,48.8 293.3,48.2 293.9,48.2 294.4,48.7 295.0,49.0 295.6,49.0 296.2,48.6 296.8,48.6 297.4,48.6 297.9,48.9 298.5,48.9 299.1,48.9 299.7,49.2 300.3,52.7 300.9,52.7 301.5,78.4 302.0,69.9 302.6,71.5 303.2,69.2 303.8,70.9 304.4,70.9 305.0,69.2 305.6,77.9 306.1,67.8 306.7,67.8 307.3,67.8 307.9,67.8 308.5,67.8 309.1,48.5 309.7,48.5 310.2,63.4 310.8,70.8 311.4,55.1 312.0,55.1 312.6,48.2 313.2,50.0 313.8,53.3 314.3,53.3 314.9,53.3 315.5,53.3 316.1,53.3 319.0,40.3" stroke="#e6550d"/>
<polyline points="81.9,318.3 82.5,269.4 83.1,272.9 83.7,235.1 84.2,213.8 84.8,231.3 85.4,199.7 86.0,182.6 86.6,159.1 87.2,164.9 87.8,144.0 88.3,120.4 88.9,122.2 89.5,115.6 90.1,109.3 90.7,88.6 91.3,88.6 91.9,88.6 92.4,88.6 93.0,88.6 93.6,88.6 94.2,46.7 94.8,46.7 95.4,57.9 96.0,57.9 96.5,65.6 97.1,65.6 97.7,49.9 98.3,60.9 98.9,60.9 99.5,84.6 100.1,80.6 100.6,80.6 101.2,80.6 101.8,80.6 102.4,54.0 103.0,54.0 103.6,54.0 104.1,54.0 104.7,56.3 105.3,56.3 105.9,56.3 106.5,56.2 107.1,56.2 107.7,56.2 108.2,48.9 108.8,48.9 109.4,48.9 110.0,48.9 110.6,48.9 111.2,52.0 111.8,54.8 112.3,64.2 112.9,64.2 113.5,64.2 114.1,64.2 114.7,64.2 115.3,64.2 115.9,64.2 116.4,57.3 117.0,57.4 117.6,57.4 118.2,57.4 118.8,57.4 119.4,46.0 120.0,46.0 120.5,51.7 121.1,46.5 121.7,46.5 122.3,46.5 122.9,49.6 123.5,49.6 124.1,58.3 124.6,58.3 125.2,56.9 125.8,56.9 126.4,57.5 127.0,57.5 127.6,57.5 128.2,57.5 128.7,57.5 129.3,46.1 129.9,46.1 130.5,59.9 131.1,55.8 131.7,67.5 132.3,67.5 132.8,45.9 133.4,45.9 134.0,45.9 134.6,45.9 135.2,45.9 135.8,56.9 136.4,45.8 136.9,45.8 137.5,54.8 138.1,68.7 138.7,76.8 139.3,76.8 139.9,76.8 140.5,56.4 141.0,56.4 141.6,64.4 142.2,64.4 142.8,74.5 143.4,71.3 144.0,71.3 144.5,56.2 145.1,55.3 145.7,55.3 146.3,55.3 146.9,66.5 147.5,66.5 148.1,82.1 148.6,77.3 149.2,70.7 149.8,70.7 150.4,70.7 151.0,72.8 151.6,72.8 152.2,72.8 152.7,72.8 153.3,89.7 153.9,89.7 154.5,78.0 155.1,77.5 155.7,101.1 156.3,101.1 156.8,101.1 157.4,101.1 158.0,70.1 158.6,70.1 159.2,70.1 159.8,70.1 160.4,70.1 160.9,70.1 161.5,70.1 162.1,45.8 162.7,61.4 163.3,61.4 163.9,58.5 164.5,68.1 165.0,68.1 165.6,70.3 166.2,70.3 166.8,70.3 167.4,72.0 168.0,72.0 168.6,74.8 169.1,74.8 169.7,69.0 170.3,69.0 170.9,69.0 171.5,64.1 172.1,64.1 172.7,64.1 173.2,64.1 173.8,64.1 174.4,64.1 175.0,66.5 175.6,66.5 176.2,66.5 176.8,54.4 177.3,60.7 177.9,60.7 178.5,60.7 179.1,60.7 179.7,64.3 180.3,64.3 180.8,64.3 181.4,64.3 182.0,75.2 182.6,75.2 183.2,61.0 183.8,61.0 184.4,61.0 184.9,61.0 185.5,55.1 186.1,64.3 186.7,48.6 187.3,55.9 187.9,55.9 188.5,72.8 189.0,48.4 189.6,55.0 190.2,55.0 190.8,55.0 191.4,47.9 192.0,58.0 192.6,54.9 193.1,54.9 193.7,54.9 194.3,54.9 194.9,55.2 195.5,46.0 196.1,46.5 196.7,46.5 197.2,50.9 197.8,46.3 198.4,46.3 199.0,46.7 199.6,46.7 200.2,46.7 200.8,47.4 201.3,47.4 201.9,47.4 202.5,47.4 203.1,66.1 203.7,66.1 204.3,64.4 204.9,64.4 205.4,64.4 206.0,64.4 206.6,65.2 207.2,65.2 207.8,65.2 208.4,65.2 209.0,62.1 209.5,68.5 210.1,55.5 210.7,55.5 211.3,49.4 211.9,49.4 212.5,49.4 213.1,49.4 213.6,49.4 214.2,49.4 214.8,49.4 215.4,49.9 216.0,66.3 216.6,66.3 217.2,55.2 217.7,55.2 218.3,71.8 218.9,71.8 219.5,71.8 220.1,71.8 220.7,71.8 221.2,71.8 221.8,71.8 222.4,76.4 223.0,76.4 223.6,76.4 224.2,76.4 224.8,76.4 225.3,72.9 225.9,72.9 226.5,89.2 227.1,89.2 227.7,89.2 228.3,84.5 228.9,84.5 229.4,84.5 230.0,82.3 230.6,82.3 231.2,82.3 231.8,66.0 232.4,66.0 233.0,66.0 233.5,66.0 234.1,66.0 234.7,79.1 235.3,79.1 235.9,79.1 236.5,80.3 237.1,73.4 237.6,61.8 238.2,61.8 238.8,61.8 239.4,61.8 240.0,46.4 240.6,46.4 241.2,46.4 241.7,46.1 242.3,46.2 242.9,46.2 243.5,46.2 244.1,46.2 244.7,46.2 245.3,57.5 245.8,57.5 246.4,52.5 247.0,52.5 247.6,52.5 248.2,45.8 248.8,51.9 249.4,51.9 249.9,58.6 250.5,58.6 251.1,58.6 251.7,72.2 252.3,72.2 252.9,72.2 253.5,64.5 254.0,64.5 254.6,64.5 255.2,64.5 255.8,63.6 256.4,63.6 257.0,79.2 257.6,79.2 258.1,77.5 258.7,77.5 259.3,77.5 259.9,77.5 260.5,77.5 261.1,77.5 261.6,77.5 262.2,79.0 262.8,79.0 263.4,79.0 264.0,79.0 264.6,79.0 265.2,75.8 265.7,75.8 266.3,64.1 266.9,67.2 267.5,67.2 268.1,81.6 268.7,81.6 269.3,70.4 269.8,71.7 270.4,71.7 271.0,67.8 271.6,68.1 272.2,72.2 272.8,72.2 273.4,72.2 273.9,72.2 274.5,72.2 275.1,72.2 275.7,105.3 276.3,99.3 276.9,99.3 277.5,99.3 278.0,99.3 278.6,99.3 279.2,99.3 279.8,89.0 280.4,74.9 281.0,74.9 281.6,74.9 282.1,68.4 282.7,68.4 283.3,69.3 283.9,69.3 284.5,69.3 285.1,78.2 285.7,78.2 286.2,78.2 286.8,78.2 287.4,78.2 288.0,78.2 288.6,78.2 289.2,78.2 289.8,78.2 290.3,56.7 290.9,56.7 291.5,56.7 292.1,56.7 292.7,56.7 293.3,56.7 293.9,56.7 294.4,46.4 295.0,46.4 295.6,46.4 296.2,46.4 296.8,46.5 297.4,51.7 297.9,62.5 298.5,62.5 299.1,62.5 299.7,62.5 300.3,62.5 300.9,62.5 301.5,65.1 302.0,47.9 302.6,56.0 303.2,56.0 303.8,61.0 304.4,61.0 305.0,61.0 305.6,61.0 306.1,61.0 306.7,61.0 307.3,54.6 307.9,54.6 308.5,54.6 309.1,54.6 309.7,69.0 310.2,69.0 310.8,69.0 311.4,64.1 312.0,66.4 312.6,59.6 313.2,59.6 313.8,58.6 314.3,58.6 314.9,58.6 315.5,58.6 316.1,58.6 319.0,40.3" stroke="#636363"/>
<polyline points="81.9,291.7 82.5,263.3 83.1,221.5 83.7,216.2 84.2,207.2 84.8,161.2 85.4,179.7 86.0,148.4 86.6,149.6 87.2,133.3 87.8,117.1 88.3,94.8 88.9,89.3 89.5,62.0 90.1,79.5 90.7,44.9 91.3,53.8 91.9,45.2 92.4,49.6 93.0,60.0 93.6,60.0 94.2,60.0 94.8,60.0 95.4,60.0 96.0,64.9 96.5,55.5 97.1,55.5 97.7,83.3 98.3,62.1 98.9,62.1 99.5,47.9 100.1,47.9 100.6,56.0 101.2,56.0 101.8,56.0 102.4,56.0 103.0,56.0 103.6,56.0 104.1,56.0 104.7,56.0 105.3,56.0 105.9,56.0 106.5,56.0 107.1,56.0 107.7,67.9 108.2,56.4 108.8,56.4 109.4,56.4 110.0,49.5 110.6,49.5 111.2,49.5 111.8,49.5 112.3,49.5 112.9,54.8 113.5,54.8 114.1,53.9 114.7,72.1 115.3,72.1 115.9,48.9 116.4,61.3 117.0,61.3 117.6,57.8 118.2,57.8 118.8,68.9 119.4,70.7 120.0,70.7 120.5,70.5 121.1,70.5 121.7,65.4 122.3,65.4 122.9,57.3 123.5,57.3 124.1,57.3 124.6,79.5 125.2,79.5 125.8,57.8 126.4,57.8 127.0,57.8 127.6,56.0 128.2,84.3 128.7,84.3 129.3,71.0 129.9,71.0 130.5,77.2 131.1,77.2 131.7,74.8 132.3,54.9 132.8,63.4 133.4,56.8 134.0,45.4 134.6,45.4 135.2,51.7 135.8,60.3 136.4,60.3 136.9,68.3 137.5,68.3 138.1,66.2 138.7,70.4 139.3,56.0 139.9,55.6 140.5,55.6 141.0,55.6 141.6,55.6 142.2,55.6 142.8,55.6 143.4,55.6 144.0,55.6 144.5,47.3 145.1,47.3 145.7,47.9 146.3,47.9 146.9,47.9 147.5,69.3 148.1,69.3 148.6,69.3 149.2,69.3 149.8,61.2 150.4,58.1 151.0,53.5 151.6,53.5 152.2,53.5 152.7,47.8 153.3,47.8 153.9,46.8 154.5,45.6 155.1,45.6 155.7,64.5 156.3,47.6 156.8,46.1 157.4,46.1 158.0,46.1 158.6,51.7 159.2,56.3 159.8,56.3 160.4,52.6 160.9,58.9 161.5,58.9 162.1,58.9 162.7,58.9 163.3,58.9 163.9,58.9 164.5,44.8 165.0,44.8 165.6,44.8 166.2,44.8 166.8,49.9 167.4,53.0 168.0,59.2 168.6,59.2 169.1,73.6 169.7,59.5 170.3,68.8 170.9,68.8 171.5,68.8 172.1,60.6 172.7,48.2 173.2,48.2 173.8,48.2 174.4,48.2 175.0,48.2 175.6,48.2 176.2,48.2 176.8,48.2 177.3,48.2 177.9,48.2 178.5,48.2 179.1,55.4 179.7,61.9 180.3,61.9 180.8,72.1 181.4,72.1 182.0,72.1 182.6,83.4 183.2,73.6 183.8,73.6 184.4,69.2 184.9,63.0 185.5,78.9 186.1,78.9 186.7,63.3 187.3,63.3 187.9,63.3 188.5,78.1 189.0,66.0 189.6,64.5 190.2,64.5 190.8,55.9 191.4,55.9 192.0,55.9 192.6,82.5 193.1,63.4 193.7,63.4 194.3,61.6 194.9,61.6 195.5,61.6 196.1,45.3 196.7,46.3 197.2,45.5 197.8,52.8 198.4,52.8 199.0,52.8 199.6,51.1 200.2,51.1 200.8,51.1 201.3,51.1 201.9,51.1 202.5,45.0 203.1,46.0 203.7,69.1 204.3,69.1 204.9,69.1 205.4,60.7 206.0,60.7 206.6,60.7 207.2,60.7 207.8,60.7 208.4,52.3 209.0,44.8 209.5,44.8 210.1,44.8 210.7,44.8 211.3,58.2 211.9,60.2 212.5,59.7 213.1,52.1 213.6,46.3 214.2,72.0 214.8,72.0 215.4,75.1 216.0,50.9 216.6,50.9 217.2,50.9 217.7,50.9 218.3,50.9 218.9,50.9 219.5,45.2 220.1,45.2 220.7,56.9 221.2,50.8 221.8,51.5 222.4,47.6 223.0,56.9 223.6,56.9 224.2,56.9 224.8,49.6 225.3,49.6 225.9,45.6 226.5,46.2 227.1,46.2 227.7,46.2 228.3,46.2 228.9,77.4 229.4,77.4 230.0,77.4 230.6,87.4 231.2,65.3 231.8,65.3 232.4,68.5 233.0,68.5 233.5,68.5 234.1,68.5 234.7,68.5 235.3,80.0 235.9,69.1 236.5,68.8 237.1,68.8 237.6,68.8 238.2,54.6 238.8,54.6 239.4,54.6 240.0,50.0 240.6,50.0 241.2,44.9 241.7,45.0 242.3,45.2 242.9,45.2 243.5,45.2 244.1,45.2 244.7,45.2 245.3,45.2 245.8,45.6 246.4,45.6 247.0,45.5 247.6,60.7 248.2,59.8 248.8,69.3 249.4,69.3 249.9,69.3 250.5,69.3 251.1,69.3 251.7,69.3 252.3,65.1 252.9,65.1 253.5,65.1 254.0,56.1 254.6,56.1 255.2,56.1 255.8,56.1 256.4,56.1 257.0,56.1 257.6,56.1 258.1,56.1 258.7,55.9 259.3,62.8 259.9,67.7 260.5,67.7 261.1,58.7 261.6,58.7 262.2,58.7 262.8,48.7 263.4,48.7 264.0,46.8 264.6,46.8 265.2,44.9 265.7,44.9 266.3,44.9 266.9,44.9 267.5,59.6 268.1,82.6 268.7,82.6 269.3,82.6 269.8,82.6 270.4,69.2 271.0,69.2 271.6,69.2 272.2,81.0 272.8,81.0 273.4,81.0 273.9,77.3 274.5,71.0 275.1,77.2 275.7,77.2 276.3,77.2 276.9,68.0 277.5,85.2 278.0,85.2 278.6,81.9 279.2,81.9 279.8,50.9 280.4,50.9 281.0,50.9 281.6,50.9 282.1,45.3 282.7,45.1 283.3,45.2 283.9,45.5 284.5,45.5 285.1,45.5 285.7,81.5 286.2,65.8 286.8,65.8 287.4,51.7 288.0,51.7 288.6,59.3 289.2,59.3 289.8,45.6 290.3,45.6 290.9,45.6 291.5,45.6 292.1,45.6 292.7,45.6 293.3,50.0 293.9,55.9 294.4,70.7 295.0,57.9 295.6,51.1 296.2,51.1 296.8,51.1 297.4,48.5 297.9,48.5 298.5,71.3 299.1,71.3 299.7,72.6 300.3,72.6 300.9,75.5 301.5,75.5 302.0,75.5 302.6,75.5 303.2,75.5 303.8,48.8 304.4,48.8 305.0,71.7 305.6,71.7 306.1,71.7 306.7,86.4 307.3,51.8 307.9,48.5 308.5,48.5 309.1,48.5 309.7,48.5 310.2,57.0 310.8,56.6 311.4,53.2 312.0,53.2 312.6,53.2 313.2,54.8 313.8,58.9 314.3,54.3 314.9,54.3 315.5,54.3 316.1,66.5 319.0,40.3" stroke="#6baed6"/>
<polyline points="81.9,306.1 82.5,270.4 83.1,233.1 83.7,215.7 84.2,188.9 84.8,180.9 85.4,136.5 86.0,112.1 86.6,97.8 87.2,87.0 87.8,70.4 88.3,48.3 88.9,48.3 89.5,57.5 90.1,57.5 90.7,49.0 91.3,49.0 91.9,49.0 92.4,53.6 93.0,53.6 93.6,57.4 94.2,57.4 94.8,57.4 95.4,74.5 96.0,52.0 96.5,52.0 97.1,52.0 97.7,60.6 98.3,57.1 98.9,52.2 99.5,52.2 100.1,52.2 100.6,52.2 101.2,52.2 101.8,60.8 102.4,60.6 103.0,60.6 103.6,60.6 104.1,60.6 104.7,58.7 105.3,67.7 105.9,51.6 106.5,61.4 107.1,72.0 107.7,72.0 108.2,53.9 108.8,54.8 109.4,54.8 110.0,52.0 110.6,52.0 111.2,52.0 111.8,70.5 112.3,67.5 112.9,75.3 113.5,75.3 114.1,75.3 114.7,74.6 115.3,76.8 115.9,66.5 116.4,66.5 117.0,75.3 117.6,75.3 118.2,75.3 118.8,62.1 119.4,52.2 120.0,52.2 120.5,49.9 121.1,49.9 121.7,49.9 122.3,49.9 122.9,56.2 123.5,63.8 124.1,64.0 124.6,58.3 125.2,58.3 125.8,54.4 126.4,48.3 127.0,48.3 127.6,71.6 128.2,71.6 128.7,68.2 129.3,68.2 129.9,53.8 130.5,53.8 131.1,53.8 131.7,53.8 132.3,64.0 132.8,48.5 133.4,48.5 134.0,59.5 134.6,65.6 135.2,64.5 135.8,64.5 136.4,48.1 136.9,64.1 137.5,64.1 138.1,47.8 138.7,47.8 139.3,63.0 139.9,72.4 140.5,72.4 141.0,72.4 141.6,72.4 142.2,78.0 142.8,85.7 143.4,85.7 144.0,85.7 144.5,85.7 145.1,71.5 145.7,71.5 146.3,71.5 146.9,71.5 147.5,67.2 148.1,67.2 148.6,67.2 149.2,65.1 149.8,68.3 150.4,53.3 151.0,48.3 151.6,56.0 152.2,50.6 152.7,71.7 153.3,71.7 153.9,71.2 154.5,71.3 155.1,71.3 155.7,71.3 156.3,71.3 156.8,59.5 157.4,59.5 158.0,59.5 158.6,75.6 159.2,75.6 159.8,89.8 160.4,89.8 160.9,89.8 161.5,96.7 162.1,62.1 162.7,59.5 163.3,53.8 163.9,53.8 164.5,53.8 165.0,64.9 165.6,77.9 166.2,68.7 166.8,48.0 167.4,48.0 168.0,48.0 168.6,49.0 169.1,58.4 169.7,58.4 170.3,58.4 170.9,58.4 171.5,68.4 172.1,89.1 172.7,89.1 173.2,89.1 173.8,89.1 174.4,89.1 175.0,89.4 175.6,89.4 176.2,70.1 176.8,70.1 177.3,63.0 177.9,50.7 178.5,56.8 179.1,56.8 179.7,64.1 180.3,68.6 180.8,68.6 181.4,68.6 182.0,68.6 182.6,68.6 183.2,68.6 183.8,61.0 184.4,61.0 184.9,68.7 185.5,48.6 186.1,48.6 186.7,53.6 187.3,48.3 187.9,61.5 188.5,49.6 189.0,66.0 189.6,70.4 190.2,72.3 190.8,72.3 191.4,72.3 192.0,72.3 192.6,72.3 193.1,57.2 193.7,67.4 194.3,67.4 194.9,67.4 195.5,60.2 196.1,60.2 196.7,54.9 197.2,54.9 197.8,54.9 198.4,54.9 199.0,54.9 199.6,48.0 200.2,54.4 200.8,54.4 201.3,54.4 201.9,54.4 202.5,58.9 203.1,58.9 203.7,58.9 204.3,48.4 204.9,57.6 205.4,57.6 206.0,50.2 206.6,53.2 207.2,81.5 207.8,74.4 208.4,77.8 209.0,75.6 209.5,50.7 210.1,50.7 210.7,50.7 211.3,48.4 211.9,50.7 212.5,48.8 213.1,48.8 213.6,48.8 214.2,48.7 214.8,48.7 215.4,48.7 216.0,48.7 216.6,48.7 217.2,58.4 217.7,62.6 218.3,62.6 218.9,62.6 219.5,62.6 220.1,56.7 220.7,56.7 221.2,56.7 221.8,56.7 222.4,56.7 223.0,50.1 223.6,52.5 224.2,51.4 224.8,51.4 225.3,58.2 225.9,58.2 226.5,58.2 227.1,48.6 227.7,48.4 228.3,48.4 228.9,48.4 229.4,48.4 230.0,48.4 230.6,48.4 231.2,54.1 231.8,54.1 232.4,55.3 233.0,52.5 233.5,52.5 234.1,52.5 234.7,52.5 235.3,53.6 235.9,53.6 236.5,53.6 237.1,52.4 237.6,53.2 238.2,53.2 238.8,53.2 239.4,53.2 240.0,53.2 240.6,53.2 241.2,53.2 241.7,74.3 242.3,74.3 242.9,74.3 243.5,74.3 244.1,74.3 244.7,74.3 245.3,74.3 245.8,67.4 246.4,67.4 247.0,67.4 247.6,67.4 248.2,86.5 248.8,56.3 249.4,56.3 249.9,56.3 250.5,56.3 251.1,56.3 251.7,61.1 252.3,61.1 252.9,61.1 253.5,61.1 254.0,61.1 254.6,61.1 255.2,57.6 255.8,79.0 256.4,69.2 257.0,64.6 257.6,51.4 258.1,48.0 258.7,48.6 259.3,48.6 259.9,50.6 260.5,60.2 261.1,60.2 261.6,60.2 262.2,60.2 262.8,60.2 263.4,47.9 264.0,48.5 264.6,48.5 265.2,48.5 265.7,49.8 266.3,49.8 266.9,49.8 267.5,49.8 268.1,72.4 268.7,61.9 269.3,64.6 269.8,64.6 270.4,64.6 271.0,62.6 271.6,62.6 272.2,59.1 272.8,67.5 273.4,67.5 273.9,82.6 274.5,85.2 275.1,85.2 275.7,54.3 276.3,54.3 276.9,54.3 277.5,64.9 278.0,67.9 278.6,67.9 279.2,50.2 279.8,54.1 280.4,82.8 281.0,58.9 281.6,58.9 282.1,58.9 282.7,52.9 283.3,49.1 283.9,49.1 284.5,49.1 285.1,49.0 285.7,47.9 286.2,47.9 286.8,47.9 287.4,58.8 288.0,58.8 288.6,74.9 289.2,74.9 289.8,74.9 290.3,74.9 290.9,74.9 291.5,64.0 292.1,64.0 292.7,64.0 293.3,48.5 293.9,48.5 294.4,63.1 295.0,63.1 295.6,63.1 296.2,63.1 296.8,63.1 297.4,63.1 297.9,63.1 298.5,73.9 299.1,62.2 299.7,66.0 300.3,55.5 300.9,55.5 301.5,64.4 302.0,58.8 302.6,58.8 303.2,58.8 303.8,58.8 304.4,48.5 305.0,58.7 305.6,56.1 306.1,56.1 306.7,56.1 307.3,56.1 307.9,63.1 308.5,48.8 309.1,48.6 309.7,54.8 310.2,50.7 310.8,64.6 311.4,65.1 312.0,65.1 312.6,65.1 313.2,48.5 313.8,62.7 314.3,62.7 314.9,48.1 315.5,55.4 316.1,58.3 319.0,40.3" stroke="#fd8d3c"/>
<polyline points="81.9,297.3 82.5,254.9 83.1,213.4 83.7,164.1 84.2,142.3 84.8,127.3 85.4,83.1 86.0,57.0 86.6,57.0 87.2,77.3 87.8,77.3 88.3,77.3 88.9,77.3 89.5,77.3 90.1,75.2 90.7,75.2 91.3,75.2 91.9,75.2 92.4,75.2 93.0,63.5 93.6,51.9 94.2,47.9 94.8,47.9 95.4,47.9 96.0,47.9 96.5,47.9 97.1,47.9 97.7,47.9 98.3,47.6 98.9,47.6 99.5,47.6 100.1,47.6 100.6,47.6 101.2,47.6 101.8,51.4 102.4,51.4 103.0,47.5 103.6,47.5 104.1,64.3 104.7,80.9 105.3,69.2 105.9,69.2 106.5,69.2 107.1,60.5 107.7,60.5 108.2,62.2 108.8,62.2 109.4,54.2 110.0,54.2 110.6,54.2 111.2,54.2 111.8,48.0 112.3,61.5 112.9,61.5 113.5,61.5 114.1,55.3 114.7,55.3 115.3,55.3 115.9,55.3 116.4,47.2 117.0,67.1 117.6,67.1 118.2,67.1 118.8,67.1 119.4,67.1 120.0,67.1 120.5,63.0 121.1,60.7 121.7,60.9 122.3,60.9 122.9,60.9 123.5,63.1 124.1,63.1 124.6,63.1 125.2,63.1 125.8,63.1 126.4,63.1 127.0,63.1 127.6,63.1 128.2,60.7 128.7,60.7 129.3,79.0 129.9,79.0 130.5,79.0 131.1,79.0 131.7,79.0 132.3,79.0 132.8,55.6 133.4,55.6 134.0,55.6 134.6,55.6 135.2,63.1 135.8,60.5 136.4,60.5 136.9,60.5 137.5,60.5 138.1,60.5 138.7,75.1 139.3,50.9 139.9,50.9 140.5,50.9 141.0,47.6 141.6,47.6 142.2,47.6 142.8,47.6 143.4,47.6 144.0,47.6 144.5,47.6 145.1,47.6 145.7,47.6 146.3,47.6 146.9,47.6 147.5,47.6 148.1,47.6 148.6,64.8 149.2,64.8 149.8,64.8 150.4,64.8 151.0,64.8 151.6,64.8 152.2,64.8 152.7,69.5 153.3,69.5 153.9,63.1 154.5,63.1 155.1,60.4 155.7,60.4 156.3,47.4 156.8,47.4 157.4,49.9 158.0,49.9 158.6,59.5 159.2,59.5 159.8,59.5 160.4,65.3 160.9,65.3 161.5,68.3 162.1,54.3 162.7,60.0 163.3,56.4 163.9,56.4 164.5,63.5 165.0,55.9 165.6,62.9 166.2,62.9 166.8,49.0 167.4,58.0 168.0,60.7 168.6,62.5 169.1,48.9 169.7,48.9 170.3,55.1 170.9,55.1 171.5,55.1 172.1,55.1 172.7,55.1 173.2,55.1 173.8,55.1 174.4,55.1 175.0,55.1 175.6,77.9 176.2,77.9 176.8,77.9 177.3,77.9 177.9,77.9 178.5,77.9 179.1,77.9 179.7,74.0 180.3,74.0 180.8,61.7 181.4,61.7 182.0,61.7 182.6,47.4 183.2,47.4 183.8,47.4 184.4,53.3 184.9,72.3 185.5,66.6 186.1,60.6 186.7,56.6 187.3,56.6 187.9,56.6 188.5,56.6 189.0,56.6 189.6,56.6 190.2,59.0 190.8,83.3 191.4,83.3 192.0,83.3 192.6,83.3 193.1,83.3 193.7,83.3 194.3,83.3 194.9,83.3 195.5,83.3 196.1,74.6 196.7,49.9 197.2,52.5 197.8,66.7 198.4,66.7 199.0,66.7 199.6,47.2 200.2,47.2 200.8,61.2 201.3,61.2 201.9,63.3 202.5,49.8 203.1,49.8 203.7,47.8 204.3,47.8 204.9,47.8 205.4,47.2 206.0,47.2 206.6,48.7 207.2,48.7 207.8,47.7 208.4,47.7 209.0,47.7 209.5,55.4 210.1,56.9 210.7,60.9 211.3,47.4 211.9,60.9 212.5,60.9 213.1,60.9 213.6,69.8 214.2,69.8 214.8,69.8 215.4,69.8 216.0,69.3 216.6,69.3 217.2,68.0 217.7,68.0 218.3,68.0 218.9,66.5 219.5,76.0 220.1,76.0 220.7,76.0 221.2,76.0 221.8,76.0 222.4,76.0 223.0,76.0 223.6,76.0 224.2,76.0 224.8,76.7 225.3,48.3 225.9,48.3 226.5,53.9 227.1,53.9 227.7,53.9 228.3,48.5 228.9,47.7 229.4,47.7 230.0,47.7 230.6,52.9 231.2,52.9 231.8,52.9 232.4,48.2 233.0,48.2 233.5,48.2 234.1,53.7 234.7,75.0 235.3,75.0 235.9,75.0 236.5,75.0 237.1,50.4 237.6,55.8 238.2,64.6 238.8,64.6 239.4,77.7 240.0,77.7 240.6,59.0 241.2,59.0 241.7,49.6 242.3,59.2 242.9,65.5 243.5,65.5 244.1,77.4 244.7,58.2 245.3,51.8 245.8,51.8 246.4,51.8 247.0,57.9 247.6,65.5 248.2,65.5 248.8,65.5 249.4,65.5 249.9,77.8 250.5,77.8 251.1,50.3 251.7,50.3 252.3,51.2 252.9,51.2 253.5,51.2 254.0,51.2 254.6,51.2 255.2,59.5 255.8,59.5 256.4,59.5 257.0,59.5 257.6,47.2 258.1,47.2 258.7,47.2 259.3,59.3 259.9,59.3 260.5,61.9 261.1,61.9 261.6,61.9 262.2,61.9 262.8,61.9 263.4,76.5 264.0,76.5 264.6,76.5 265.2,76.5 265.7,76.5 266.3,58.6 266.9,55.8 267.5,57.6 268.1,57.6 268.7,63.0 269.3,66.6 269.8,66.6 270.4,67.7 271.0,76.6 271.6,71.9 272.2,64.7 272.8,55.2 273.4,55.2 273.9,49.5 274.5,59.1 275.1,47.5 275.7,47.0 276.3,47.0 276.9,47.6 277.5,55.1 278.0,52.3 278.6,52.3 279.2,56.4 279.8,57.0 280.4,57.0 281.0,57.0 281.6,57.0 282.1,57.0 282.7,75.9 283.3,64.1 283.9,64.1 284.5,70.9 285.1,70.9 285.7,66.7 286.2,66.7 286.8,55.3 287.4,55.3 288.0,47.7 288.6,47.7 289.2,47.7 289.8,47.7 290.3,47.7 290.9,49.4 291.5,56.3 292.1,66.3 292.7,66.3 293.3,66.3 293.9,70.1 294.4,70.1 295.0,75.3 295.6,75.3 296.2,49.1 296.8,47.4 297.4,47.4 297.9,47.4 298.5,72.8 299.1,72.8 299.7,75.3 300.3,82.5 300.9,82.5 301.5,82.5 302.0,82.5 302.6,91.8 303.2,76.9 303.8,65.4 304.4,65.4 305.0,68.7 305.6,63.7 306.1,63.7 306.7,63.7 307.3,58.2 307.9,58.2 308.5,64.7 309.1,64.7 309.7,64.7 310.2,64.7 310.8,72.9 311.4,72.9 312.0,72.9 312.6,72.9 313.2,72.9 313.8,60.5 314.3,74.6 314.9,55.8 315.5,55.8 316.1,67.7 319.0,40.3" stroke="#969696"/>
<polyline points="81.9,313.1 82.5,295.7 83.1,261.9 83.7,268.8 84.2,232.7 84.8,220.1 85.4,213.2 86.0,182.6 86.6,178.7 87.2,149.7 87.8,122.7 88.3,130.1 88.9,139.2 89.5,131.2 90.1,103.7 90.7,102.1 91.3,96.3 91.9,87.9 92.4,63.3 93.0,47.5 93.6,49.6 94.2,49.6 94.8,49.6 95.4,61.0 96.0,61.0 96.5,61.0 97.1,47.9 97.7,55.4 98.3,50.3 98.9,50.3 99.5,50.3 100.1,50.3 100.6,50.3 101.2,48.6 101.8,48.6 102.4,48.6 103.0,48.6 103.6,58.3 104.1,58.3 104.7,58.3 105.3,58.3 105.9,50.8 106.5,49.1 107.1,49.1 107.7,47.2 108.2,47.2 108.8,55.4 109.4,55.4 110.0,53.7 110.6,71.2 111.2,79.9 111.8,79.9 112.3,79.9 112.9,79.9 113.5,79.9 114.1,79.9 114.7,79.9 115.3,79.9 115.9,59.2 116.4,76.0 117.0,76.0 117.6,74.0 118.2,74.0 118.8,66.6 119.4,64.7 120.0,63.7 120.5,75.4 121.1,75.4 121.7,75.4 122.3,75.4 122.9,75.4 123.5,70.5 124.1,70.5 124.6,70.5 125.2,70.5 125.8,70.5 126.4,74.6 127.0,74.6 127.6,74.6 128.2,74.6 128.7,74.6 129.3,67.0 129.9,67.0 130.5,67.0 131.1,67.1 131.7,67.1 132.3,67.1 132.8,53.5 133.4,60.6 134.0,60.6 134.6,64.2 135.2,64.2 135.8,64.2 136.4,56.4 136.9,66.2 137.5,48.3 138.1,49.6 138.7,49.6 139.3,47.8 139.9,47.8 140.5,47.8 141.0,78.1 141.6,78.1 142.2,83.8 142.8,83.8 143.4,79.1 144.0,79.1 144.5,79.1 145.1,60.9 145.7,54.6 146.3,54.6 146.9,54.6 147.5,54.6 148.1,54.6 148.6,68.7 149.2,75.1 149.8,75.1 150.4,75.1 151.0,75.1 151.6,62.3 152.2,62.3 152.7,62.3 153.3,62.3 153.9,62.3 154.5,62.3 155.1,62.3 155.7,61.3 156.3,61.3 156.8,61.3 157.4,94.0 158.0,73.9 158.6,49.9 159.2,49.9 159.8,47.8 160.4,59.0 160.9,47.1 161.5,48.0 162.1,48.0 162.7,48.3 163.3,48.3 163.9,55.2 164.5,47.7 165.0,63.5 165.6,72.3 166.2,72.3 166.8,72.3 167.4,72.3 168.0,91.6 168.6,91.6 169.1,91.6 169.7,91.6 170.3,91.6 170.9,74.7 171.5,73.8 172.1,87.7 172.7,65.1 173.2,68.3 173.8,68.3 174.4,68.3 175.0,52.5 175.6,52.5 176.2,52.5 176.8,48.8 177.3,47.9 177.9,60.0 178.5,60.0 179.1,60.0 179.7,57.3 180.3,57.3 180.8,47.6 181.4,50.8 182.0,60.2 182.6,53.6 183.2,53.6 183.8,47.4 184.4,47.4 184.9,47.4 185.5,47.4 186.1,52.9 186.7,52.9 187.3,52.9 187.9,48.1 188.5,72.4 189.0,77.3 189.6,74.8 190.2,74.8 190.8,74.8 191.4,47.6 192.0,47.6 192.6,47.5 193.1,63.5 193.7,53.6 194.3,48.2 194.9,52.7 195.5,52.7 196.1,47.2 196.7,64.1 197.2,71.5 197.8,71.5 198.4,71.5 199.0,71.5 199.6,71.5 200.2,100.6 200.8,65.9 201.3,65.9 201.9,48.2 202.5,55.6 203.1,51.8 203.7,51.8 204.3,59.1 204.9,59.1 205.4,59.1 206.0,59.1 206.6,81.1 207.2,75.6 207.8,75.6 208.4,71.7 209.0,66.6 209.5,66.6 210.1,66.6 210.7,55.7 211.3,55.7 211.9,55.7 212.5,55.7 213.1,55.7 213.6,55.7 214.2,57.9 214.8,57.9 215.4,57.9 216.0,57.9 216.6,57.9 217.2,61.1 217.7,70.7 218.3,55.4 218.9,47.6 219.5,47.6 220.1,47.6 220.7,47.6 221.2,47.6 221.8,47.1 222.4,47.7 223.0,57.8 223.6,57.8 224.2,50.3 224.8,53.3 225.3,53.2 225.9,53.2 226.5,67.2 227.1,67.2 227.7,67.2 228.3,67.2 228.9,68.4 229.4,68.4 230.0,75.0 230.6,75.0 231.2,70.0 231.8,70.0 232.4,70.0 233.0,70.0 233.5,88.6 234.1,88.6 234.7,88.6 235.3,88.6 235.9,64.7 236.5,64.7 237.1,64.7 237.6,64.7 238.2,64.7 238.8,58.4 239.4,58.4 240.0,58.4 240.6,58.4 241.2,58.4 241.7,48.9 242.3,60.8 242.9,60.8 243.5,65.0 244.1,65.0 244.7,65.0 245.3,63.5 245.8,63.5 246.4,63.5 247.0,63.5 247.6,63.5 248.2,63.5 248.8,63.5 249.4,63.5 249.9,63.5 250.5,63.5 251.1,60.3 251.7,60.3 252.3,47.5 252.9,47.5 253.5,47.5 254.0,47.5 254.6,47.9 255.2,61.4 255.8,61.4 256.4,76.8 257.0,76.8 257.6,68.1 258.1,68.1 258.7,68.1 259.3,68.1 259.9,63.3 260.5,68.3 261.1,63.5 261.6,63.5 262.2,64.5 262.8,64.5 263.4,64.4 264.0,57.6 264.6,66.3 265.2,52.0 265.7,52.0 266.3,50.0 266.9,53.9 267.5,57.1 268.1,67.4 268.7,67.4 269.3,57.1 269.8,57.1 270.4,57.1 271.0,60.2 271.6,60.2 272.2,60.2 272.8,64.6 273.4,64.6 273.9,64.6 274.5,57.7 275.1,48.6 275.7,56.5 276.3,60.5 276.9,60.5 277.5,76.1 278.0,92.5 278.6,92.5 279.2,92.5 279.8,92.5 280.4,92.5 281.0,92.5 281.6,92.5 282.1,77.1 282.7,77.1 283.3,53.4 283.9,53.4 284.5,53.4 285.1,53.4 285.7,53.4 286.2,47.3 286.8,47.5 287.4,47.5 288.0,47.8 288.6,49.6 289.2,49.6 289.8,48.1 290.3,48.1 290.9,56.0 291.5,56.0 292.1,56.0 292.7,62.5 293.3,62.5 293.9,62.5 294.4,72.8 295.0,70.0 295.6,78.3 296.2,78.3 296.8,78.3 297.4,86.2 297.9,86.2 298.5,76.2 299.1,65.3 299.7,72.2 300.3,72.2 300.9,50.9 301.5,50.9 302.0,47.5 302.6,47.5 303.2,74.1 303.8,75.2 304.4,75.2 305.0,75.2 305.6,75.2 306.1,75.6 306.7,75.6 307.3,55.8 307.9,55.8 308.5,55.8 309.1,55.8 309.7,50.8 310.2,50.8 310.8,50.8 311.4,51.6 312.0,51.6 312.6,47.6 313.2,48.3 313.8,48.3 314.3,87.0 314.9,72.5 315.5,54.3 316.1,58.7 319.0,40.3" stroke="#9ecae1"/>
<polyline points="81.9,294.9 82.5,281.4 83.1,265.7 83.7,251.0 84.2,241.8 84.8,226.0 85.4,227.7 86.0,214.5 86.6,226.3 87.2,218.3 87.8,208.6 88.3,182.9 88.9,181.6 89.5,190.5 90.1,165.0 90.7,167.3 91.3,163.0 91.9,146.5 92.4,156.4 93.0,122.7 93.6,129.1 94.2,126.6 94.8,120.2 95.4,113.3 96.0,100.2 96.5,98.9 97.1,99.4 97.7,70.1 98.3,71.5 98.9,80.9 99.5,66.9 100.1,66.9 100.6,72.7 101.2,72.7 101.8,87.2 102.4,87.2 103.0,87.2 103.6,87.2 104.1,87.2 104.7,73.2 105.3,72.1 105.9,75.6 106.5,75.1 107.1,75.1 107.7,75.1 108.2,64.9 108.8,64.9 109.4,65.4 110.0,65.4 110.6,65.4 111.2,65.4 111.8,59.9 112.3,70.0 112.9,71.7 113.5,71.7 114.1,68.7 114.7,68.7 115.3,68.7 115.9,81.8 116.4,81.8 117.0,81.8 117.6,81.8 118.2,76.6 118.8,63.1 119.4,63.1 120.0,58.2 120.5,78.1 121.1,85.2 121.7,85.2 122.3,85.2 122.9,85.2 123.5,64.8 124.1,47.1 124.6,47.1 125.2,47.1 125.8,47.1 126.4,47.8 127.0,66.5 127.6,56.9 128.2,95.1 128.7,103.1 129.3,93.1 129.9,93.1 130.5,93.1 131.1,93.1 131.7,79.9 132.3,60.0 132.8,60.0 133.4,70.3 134.0,70.3 134.6,63.5 135.2,74.2 135.8,74.2 136.4,74.2 136.9,74.2 137.5,74.2 138.1,75.7 138.7,75.7 139.3,75.7 139.9,75.7 140.5,92.7 141.0,89.2 141.6,92.7 142.2,92.7 142.8,92.7 143.4,92.7 144.0,92.7 144.5,92.7 145.1,92.7 145.7,92.7 146.3,92.7 146.9,92.7 147.5,92.7 148.1,92.7 148.6,92.7 149.2,92.7 149.8,79.3 150.4,69.9 151.0,61.9 151.6,61.9 152.2,61.9 152.7,61.9 153.3,61.9 153.9,48.3 154.5,63.8 155.1,63.8 155.7,63.8 156.3,48.4 156.8,52.6 157.4,50.7 158.0,47.1 158.6,47.0 159.2,47.0 159.8,47.0 160.4,47.0 160.9,57.6 161.5,57.2 162.1,47.6 162.7,47.6 163.3,61.5 163.9,58.1 164.5,58.8 165.0,99.9 165.6,79.8 166.2,85.1 166.8,85.1 167.4,85.1 168.0,67.1 168.6,67.1 169.1,67.1 169.7,67.1 170.3,67.1 170.9,67.4 171.5,74.3 172.1,79.8 172.7,66.7 173.2,47.4 173.8,47.4 174.4,63.4 175.0,57.8 175.6,57.8 176.2,48.3 176.8,47.1 177.3,54.5 177.9,54.5 178.5,54.5 179.1,54.5 179.7,47.2 180.3,47.2 180.8,47.2 181.4,47.2 182.0,47.2 182.6,48.5 183.2,55.0 183.8,55.0 184.4,48.7 184.9,58.6 185.5,58.6 186.1,70.5 186.7,70.5 187.3,64.0 187.9,53.4 188.5,53.4 189.0,53.4 189.6,61.2 190.2,61.2 190.8,61.2 191.4,61.2 192.0,66.6 192.6,66.6 193.1,79.9 193.7,79.9 194.3,54.6 194.9,54.6 195.5,54.6 196.1,54.6 196.7,54.6 197.2,54.6 197.8,54.6 198.4,62.1 199.0,46.9 199.6,47.0 200.2,69.1 200.8,69.1 201.3,69.1 201.9,69.1 202.5,69.1 203.1,73.4 203.7,73.4 204.3,67.0 204.9,85.3 205.4,67.5 206.0,69.6 206.6,69.6 207.2,69.6 207.8,69.6 208.4,69.6 209.0,69.6 209.5,62.6 210.1,62.6 210.7,65.1 211.3,65.1 211.9,73.0 212.5,49.0 213.1,49.0 213.6,49.0 214.2,68.6 214.8,68.6 215.4,68.6 216.0,70.0 216.6,58.9 217.2,58.9 217.7,62.4 218.3,63.3 218.9,63.3 219.5,64.0 220.1,55.5 220.7,47.3 221.2,47.3 221.8,53.1 222.4,47.7 223.0,47.7 223.6,47.7 224.2,46.9 224.8,46.9 225.3,61.7 225.9,57.3 226.5,57.3 227.1,57.3 227.7,57.3 228.3,57.3 228.9,57.3 229.4,57.3 230.0,57.3 230.6,50.7 231.2,50.7 231.8,50.7 232.4,50.7 233.0,83.5 233.5,70.5 234.1,67.5 234.7,72.2 235.3,72.2 235.9,72.2 236.5,72.2 237.1,72.2 237.6,72.2 238.2,72.2 238.8,72.2 239.4,71.6 240.0,64.5 240.6,66.1 241.2,66.1 241.7,62.9 242.3,62.9 242.9,70.5 243.5,70.5 244.1,73.1 244.7,59.0 245.3,56.4 245.8,63.1 246.4,63.1 247.0,63.1 247.6,74.5 248.2,74.5 248.8,74.5 249.4,69.8 249.9,69.8 250.5,69.8 251.1,69.8 251.7,71.3 252.3,71.3 252.9,84.2 253.5,82.0 254.0,82.0 254.6,72.3 255.2,72.3 255.8,77.3 256.4,73.8 257.0,73.8 257.6,73.8 258.1,73.8 258.7,72.4 259.3,72.4 259.9,72.4 260.5,58.0 261.1,54.9 261.6,54.9 262.2,56.5 262.8,56.5 263.4,59.8 264.0,72.3 264.6,83.2 265.2,83.2 265.7,83.2 266.3,83.2 266.9,83.2 267.5,83.2 268.1,83.2 268.7,83.2 269.3,83.2 269.8,68.2 270.4,68.2 271.0,68.2 271.6,53.9 272.2,53.9 272.8,53.9 273.4,53.9 273.9,53.9 274.5,48.7 275.1,49.1 275.7,47.0 276.3,47.0 276.9,47.0 277.5,48.0 278.0,48.0 278.6,60.6 279.2,78.8 279.8,57.7 280.4,57.7 281.0,66.5 281.6,75.1 282.1,75.1 282.7,75.1 283.3,78.7 283.9,78.7 284.5,78.7 285.1,78.7 285.7,73.3 286.2,83.3 286.8,86.8 287.4,86.8 288.0,92.1 288.6,84.0 289.2,84.0 289.8,58.8 290.3,47.6 290.9,53.2 291.5,47.7 292.1,54.7 292.7,54.7 293.3,80.4 293.9,80.4 294.4,80.4 295.0,80.4 295.6,49.6 296.2,63.6 296.8,63.6 297.4,63.6 297.9,63.6 298.5,63.6 299.1,63.6 299.7,70.1 300.3,70.1 300.9,70.1 301.5,70.1 302.0,70.1 302.6,70.1 303.2,70.1 303.8,61.2 304.4,53.2 305.0,56.8 305.6,56.8 306.1,56.8 306.7,56.8 307.3,57.7 307.9,57.7 308.5,57.7 309.1,57.7 309.7,57.7 310.2,57.7 310.8,62.7 311.4,55.5 312.0,47.3 312.6,47.3 313.2,47.3 313.8,60.1 314.3,60.7 314.9,60.7 315.5,48.0 316.1,48.0 319.0,40.3" stroke="#bdbdbd"/>
<polyline points="81.9,296.4 82.5,292.0 83.1,271.9 83.7,258.0 84.2,282.6 84.8,282.9 85.4,267.5 86.0,241.5 86.6,261.5 87.2,221.6 87.8,229.6 88.3,238.1 88.9,216.0 89.5,205.9 90.1,226.3 90.7,210.7 91.3,191.4 91.9,202.7 92.4,187.2 93.0,171.9 93.6,192.7 94.2,177.2 94.8,185.1 95.4,189.0 96.0,168.3 96.5,168.3 97.1,168.3 97.7,173.3 98.3,172.1 98.9,172.1 99.5,153.5 100.1,153.5 100.6,153.5 101.2,153.5 101.8,153.5 102.4,159.9 103.0,159.9 103.6,159.9 104.1,159.9 104.7,159.9 105.3,159.9 105.9,159.9 106.5,159.9 107.1,159.9 107.7,159.9 108.2,160.0 108.8,163.1 109.4,163.1 110.0,163.1 110.6,172.6 111.2,172.6 111.8,165.4 112.3,158.9 112.9,158.9 113.5,158.9 114.1,158.9 114.7,154.5 115.3,154.2 115.9,158.6 116.4,158.6 117.0,158.6 117.6,158.6 118.2,154.7 118.8,154.7 119.4,155.9 120.0,155.9 120.5,155.9 121.1,168.2 121.7,166.8 122.3,166.8 122.9,166.8 123.5,166.8 124.1,166.0 124.6,166.0 125.2,166.0 125.8,166.0 126.4,166.0 127.0,171.7 127.6,162.3 128.2,162.3 128.7,162.3 129.3,162.3 129.9,162.3 130.5,153.9 131.1,153.9 131.7,163.3 132.3,161.4 132.8,168.1 133.4,175.7 134.0,164.0 134.6,164.0 135.2,164.0 135.8,159.8 136.4,158.1 136.9,162.8 137.5,199.0 138.1,199.0 138.7,199.0 139.3,190.0 139.9,190.0 140.5,190.0 141.0,188.7 141.6,190.7 142.2,190.7 142.8,172.0 143.4,172.0 144.0,172.0 144.5,172.0 145.1,172.0 145.7,172.0 146.3,175.8 146.9,175.8 147.5,175.8 148.1,154.1 148.6,153.9 149.2,153.9 149.8,153.9 150.4,153.9 151.0,153.9 151.6,176.8 152.2,165.0 152.7,172.1 153.3,172.1 153.9,163.4 154.5,163.4 155.1,167.8 155.7,167.8 156.3,167.8 156.8,167.8 157.4,168.9 158.0,168.9 158.6,163.5 159.2,163.5 159.8,185.8 160.4,180.1 160.9,182.9 161.5,182.9 162.1,182.9 162.7,182.9 163.3,182.9 163.9,182.9 164.5,171.0 165.0,171.0 165.6,171.0 166.2,171.0 166.8,171.0 167.4,171.0 168.0,166.3 168.6,164.4 169.1,164.4 169.7,164.4 170.3,164.4 170.9,158.4 171.5,176.2 172.1,176.2 172.7,176.2 173.2,182.5 173.8,182.5 174.4,182.5 175.0,182.5 175.6,177.2 176.2,177.2 176.8,177.2 177.3,182.3 177.9,185.1 178.5,185.0 179.1,185.0 179.7,171.8 180.3,171.8 180.8,169.6 181.4,175.2 182.0,175.2 182.6,159.4 183.2,159.4 183.8,183.2 184.4,183.2 184.9,183.2 185.5,183.2 186.1,183.2 186.7,183.2 187.3,181.6 187.9,181.6 188.5,181.6 189.0,181.6 189.6,181.6 190.2,179.7 190.8,175.6 191.4,153.5 192.0,153.5 192.6,153.5 193.1,153.5 193.7,153.5 194.3,165.1 194.9,165.1 195.5,172.6 196.1,179.9 196.7,175.2 197.2,175.2 197.8,175.2 198.4,165.3 199.0,165.3 199.6,165.3 200.2,153.6 200.8,161.4 201.3,161.4 201.9,161.4 202.5,161.4 203.1,153.5 203.7,163.6 204.3,163.6 204.9,163.6 205.4,163.6 206.0,169.5 206.6,169.5 207.2,156.6 207.8,156.6 208.4,156.6 209.0,167.5 209.5,175.3 210.1,158.7 210.7,163.1 211.3,171.4 211.9,171.4 212.5,163.9 213.1,163.9 213.6,159.1 214.2,159.1 214.8,159.1 215.4,158.1 216.0,164.2 216.6,164.2 217.2,180.6 217.7,180.6 218.3,180.6 218.9,179.2 219.5,171.0 220.1,154.5 220.7,161.8 221.2,153.7 221.8,159.2 222.4,159.2 223.0,176.7 223.6,176.7 224.2,176.7 224.8,176.7 225.3,161.9 225.9,161.9 226.5,160.8 227.1,160.8 227.7,160.8 228.3,188.3 228.9,186.3 229.4,186.3 230.0,179.5 230.6,179.5 231.2,179.0 231.8,179.0 232.4,179.0 233.0,179.0 233.5,179.0 234.1,179.0 234.7,179.0 235.3,171.4 235.9,187.1 236.5,187.1 237.1,173.5 237.6,173.5 238.2,173.5 238.8,173.5 239.4,179.5 240.0,179.5 240.6,177.5 241.2,178.1 241.7,178.1 242.3,163.5 242.9,163.5 243.5,163.5 244.1,163.5 244.7,163.5 245.3,163.5 245.8,163.5 246.4,168.4 247.0,168.4 247.6,168.4 248.2,168.4 248.8,168.4 249.4,179.4 249.9,179.4 250.5,179.4 251.1,179.4 251.7,190.6 252.3,190.6 252.9,190.6 253.5,184.0 254.0,166.5 254.6,167.8 255.2,167.8 255.8,178.9 256.4,162.3 257.0,163.4 257.6,163.4 258.1,163.4 258.7,158.4 259.3,158.4 259.9,158.4 260.5,158.4 261.1,172.2 261.6,172.2 262.2,169.3 262.8,169.3 263.4,178.5 264.0,178.5 264.6,178.5 265.2,174.8 265.7,161.4 266.3,161.4 266.9,158.5 267.5,174.7 268.1,161.0 268.7,161.0 269.3,153.2 269.8,153.2 270.4,153.2 271.0,157.3 271.6,157.3 272.2,157.3 272.8,157.3 273.4,157.3 273.9,157.3 274.5,157.3 275.1,157.3 275.7,157.3 276.3,153.6 276.9,153.6 277.5,153.6 278.0,153.6 278.6,153.6 279.2,174.3 279.8,160.0 280.4,160.0 281.0,170.5 281.6,153.9 282.1,164.7 282.7,167.2 283.3,167.2 283.9,167.2 284.5,182.9 285.1,182.9 285.7,182.9 286.2,170.1 286.8,170.6 287.4,170.6 288.0,170.6 288.6,178.3 289.2,162.0 289.8,162.0 290.3,162.0 290.9,165.1 291.5,165.1 292.1,165.1 292.7,165.1 293.3,165.1 293.9,165.1 294.4,165.1 295.0,165.1 295.6,165.1 296.2,175.2 296.8,179.3 297.4,167.2 297.9,167.2 298.5,159.0 299.1,158.8 299.7,181.5 300.3,163.2 300.9,156.9 301.5,154.1 302.0,154.1 302.6,172.0 303.2,172.0 303.8,172.0 304.4,172.0 305.0,178.8 305.6,178.8 306.1,178.8 306.7,180.1 307.3,184.0 307.9,164.5 308.5,158.9 309.1,165.2 309.7,165.2 310.2,157.7 310.8,157.7 311.4,154.0 312.0,169.8 312.6,169.8 313.2,169.8 313.8,169.8 314.3,169.8 314.9,169.8 315.5,169.8 316.1,170.5 319.0,149.7" stroke="#fdae6b"/>
<polyline points="81.9,294.6 82.5,279.0 83.1,268.3 83.7,246.2 84.2,261.2 84.8,238.9 85.4,250.0 86.0,246.8 86.6,228.5 87.2,223.5 87.8,214.2 88.3,224.1 88.9,205.5 89.5,220.1 90.1,188.5 90.7,205.6 91.3,187.3 91.9,192.8 92.4,178.7 93.0,183.5 93.6,148.6 94.2,166.1 94.8,156.9 95.4,162.4 96.0,169.4 96.5,169.4 97.1,169.4 97.7,169.4 98.3,169.4 98.9,169.4 99.5,169.4 100.1,165.2 100.6,176.3 101.2,176.0 101.8,176.0 102.4,176.0 103.0,176.0 103.6,176.0 104.1,154.2 104.7,154.2 105.3,154.2 105.9,154.1 106.5,154.1 107.1,155.2 107.7,155.2 108.2,155.9 108.8,163.2 109.4,163.2 110.0,163.2 110.6,168.7 111.2,177.1 111.8,177.1 112.3,177.1 112.9,177.1 113.5,171.4 114.1,160.0 114.7,160.0 115.3,160.0 115.9,174.1 116.4,166.3 117.0,169.6 117.6,169.6 118.2,169.6 118.8,174.5 119.4,174.5 120.0,174.5 120.5,174.5 121.1,174.5 121.7,166.2 122.3,166.2 122.9,166.2 123.5,166.2 124.1,166.2 124.6,166.2 125.2,166.2 125.8,166.2 126.4,174.0 127.0,169.9 127.6,169.9 128.2,170.9 128.7,170.9 129.3,158.3 129.9,158.3 130.5,158.3 131.1,158.3 131.7,154.1 132.3,173.3 132.8,173.3 133.4,162.5 134.0,162.5 134.6,162.5 135.2,162.5 135.8,162.5 136.4,162.5 136.9,162.5 137.5,162.5 138.1,162.5 138.7,162.5 139.3,165.1 139.9,178.1 140.5,159.0 141.0,159.0 141.6,171.0 142.2,171.0 142.8,171.0 143.4,192.1 144.0,182.7 144.5,182.7 145.1,173.7 145.7,173.7 146.3,171.4 146.9,162.3 147.5,162.3 148.1,170.8 148.6,170.8 149.2,170.8 149.8,170.8 150.4,170.8 151.0,170.8 151.6,170.8 152.2,180.3 152.7,174.6 153.3,174.6 153.9,166.4 154.5,166.4 155.1,157.5 155.7,158.3 156.3,158.3 156.8,153.9 157.4,153.9 158.0,153.9 158.6,163.2 159.2,163.2 159.8,166.1 160.4,154.5 160.9,154.5 161.5,167.3 162.1,167.3 162.7,167.3 163.3,160.5 163.9,180.2 164.5,190.3 165.0,186.4 165.6,190.2 166.2,190.2 166.8,172.0 167.4,172.0 168.0,172.0 168.6,172.0 169.1,173.4 169.7,180.6 170.3,171.4 170.9,177.2 171.5,158.1 172.1,158.1 172.7,154.4 173.2,163.7 173.8,163.7 174.4,163.7 175.0,163.7 175.6,163.7 176.2,171.8 176.8,170.4 177.3,158.7 177.9,158.7 178.5,155.6 179.1,155.6 179.7,155.6 180.3,154.0 180.8,162.2 181.4,154.0 182.0,154.0 182.6,154.0 183.2,158.2 183.8,158.2 184.4,158.2 184.9,158.2 185.5,163.3 186.1,163.3 186.7,163.3 187.3,170.5 187.9,170.5 188.5,156.0 189.0,156.0 189.6,156.0 190.2,156.0 190.8,158.5 191.4,163.6 192.0,190.8 192.6,174.1 193.1,174.1 193.7,171.3 194.3,171.3 194.9,171.3 195.5,171.3 196.1,171.3 196.7,171.3 197.2,171.3 197.8,168.4 198.4,175.0 199.0,186.8 199.6,168.6 200.2,168.6 200.8,164.1 201.3,163.0 201.9,163.0 202.5,163.0 203.1,155.7 203.7,153.9 204.3,153.9 204.9,158.7 205.4,174.0 206.0,174.0 206.6,174.0 207.2,174.0 207.8,154.5 208.4,164.5 209.0,164.5 209.5,157.9 210.1,157.9 210.7,157.9 211.3,163.7 211.9,163.7 212.5,163.7 213.1,163.7 213.6,163.7 214.2,187.7 214.8,187.7 215.4,187.7 216.0,187.7 216.6,168.3 217.2,168.3 217.7,168.3 218.3,177.0 218.9,177.0 219.5,177.0 220.1,204.6 220.7,196.6 221.2,196.6 221.8,196.6 222.4,181.0 223.0,159.7 223.6,159.7 224.2,156.1 224.8,157.1 225.3,178.7 225.9,178.7 226.5,170.5 227.1,157.6 227.7,154.0 228.3,160.2 228.9,160.2 229.4,163.4 230.0,163.4 230.6,163.4 231.2,163.4 231.8,163.4 232.4,166.0 233.0,172.0 233.5,172.0 234.1,179.8 234.7,163.5 235.3,163.5 235.9,175.4 236.5,175.4 237.1,175.4 237.6,174.4 238.2,174.4 238.8,174.4 239.4,174.6 240.0,173.9 240.6,173.9 241.2,173.9 241.7,173.9 242.3,160.4 242.9,160.4 243.5,160.4 244.1,160.4 244.7,160.4 245.3,160.4 245.8,160.4 246.4,154.0 247.0,159.7 247.6,167.5 248.2,176.0 248.8,176.0 249.4,171.5 249.9,165.5 250.5,172.3 251.1,183.6 251.7,183.6 252.3,183.6 252.9,161.8 253.5,154.5 254.0,154.5 254.6,154.5 255.2,154.5 255.8,156.5 256.4,156.5 257.0,169.4 257.6,158.5 258.1,158.6 258.7,158.6 259.3,163.9 259.9,166.6 260.5,166.6 261.1,182.8 261.6,185.3 262.2,187.8 262.8,187.8 263.4,187.8 264.0,182.3 264.6,182.3 265.2,182.3 265.7,169.5 266.3,169.5 266.9,155.6 267.5,155.6 268.1,155.6 268.7,170.4 269.3,167.3 269.8,167.3 270.4,167.3 271.0,167.3 271.6,167.3 272.2,167.3 272.8,156.2 273.4,156.2 273.9,155.0 274.5,155.0 275.1,160.3 275.7,161.3 276.3,161.3 276.9,161.3 277.5,161.3 278.0,170.2 278.6,169.2 279.2,159.7 279.8,159.7 280.4,159.7 281.0,159.7 281.6,159.7 282.1,159.7 282.7,176.2 283.3,176.2 283.9,168.5 284.5,158.3 285.1,160.4 285.7,160.4 286.2,159.0 286.8,170.4 287.4,159.1 288.0,159.1 288.6,167.4 289.2,167.8 289.8,177.7 290.3,177.7 290.9,177.7 291.5,162.2 292.1,168.1 292.7,155.2 293.3,159.5 293.9,159.5 294.4,158.3 295.0,158.3 295.6,168.1 296.2,166.3 296.8,166.3 297.4,168.2 297.9,168.2 298.5,164.6 299.1,174.0 299.7,170.0 300.3,170.0 300.9,170.0 301.5,154.1 302.0,166.5 302.6,166.5 303.2,169.5 303.8,173.2 304.4,173.2 305.0,166.5 305.6,155.4 306.1,169.3 306.7,169.3 307.3,166.9 307.9,166.9 308.5,178.0 309.1,167.1 309.7,167.1 310.2,160.3 310.8,160.3 311.4,161.0 312.0,161.0 312.6,161.0 313.2,175.1 313.8,175.1 314.3,174.2 314.9,174.2 315.5,197.4 316.1,197.4 319.0,149.7" stroke="#6baed6"/>
<polyline points="81.9,302.0 82.5,268.3 83.1,274.6 83.7,277.4 84.2,260.3 84.8,226.0 85.4,252.1 86.0,242.1 86.6,225.4 87.2,230.2 87.8,207.8 88.3,215.5 88.9,194.7 89.5,195.6 90.1,197.0 90.7,193.3 91.3,176.8 91.9,174.4 92.4,153.0 93.0,169.9 93.6,177.2 94.2,173.2 94.8,162.8 95.4,162.8 96.0,162.8 96.5,155.8 97.1,155.8 97.7,155.8 98.3,164.3 98.9,156.1 99.5,163.8 100.1,163.8 100.6,163.8 101.2,163.8 101.8,174.7 102.4,174.7 103.0,185.6 103.6,167.4 104.1,166.3 104.7,166.3 105.3,166.3 105.9,160.3 106.5,160.3 107.1,166.2 107.7,166.2 108.2,166.2 108.8,166.2 109.4,166.2 110.0,166.2 110.6,155.9 111.2,155.8 111.8,167.6 112.3,167.6 112.9,156.6 113.5,156.6 114.1,156.6 114.7,161.4 115.3,161.4 115.9,161.4 116.4,161.4 117.0,161.4 117.6,177.4 118.2,177.4 118.8,182.8 119.4,182.8 120.0,173.8 120.5,173.8 121.1,168.1 121.7,156.5 122.3,156.5 122.9,156.5 123.5,156.5 124.1,156.5 124.6,156.5 125.2,156.5 125.8,171.6 126.4,171.6 127.0,171.6 127.6,171.6 128.2,171.6 128.7,171.6 129.3,172.5 129.9,172.5 130.5,178.2 131.1,178.2 131.7,178.2 132.3,167.1 132.8,167.1 133.4,172.3 134.0,177.1 134.6,173.7 135.2,181.2 135.8,181.2 136.4,163.1 136.9,163.1 137.5,163.1 138.1,163.1 138.7,159.2 139.3,159.2 139.9,166.9 140.5,166.9 141.0,167.0 141.6,167.0 142.2,167.0 142.8,163.9 143.4,162.2 144.0,162.2 144.5,162.2 145.1,160.2 145.7,160.2 146.3,160.2 146.9,159.5 147.5,178.8 148.1,178.8 148.6,156.9 149.2,156.9 149.8,161.4 150.4,161.4 151.0,162.7 151.6,162.7 152.2,162.7 152.7,162.7 153.3,156.0 153.9,156.0 154.5,156.0 155.1,156.0 155.7,156.0 156.3,167.6 156.8,167.6 157.4,182.4 158.0,182.4 158.6,180.5 159.2,180.5 159.8,180.5 160.4,180.5 160.9,170.6 161.5,170.6 162.1,158.3 162.7,173.9 163.3,173.9 163.9,158.4 164.5,158.4 165.0,158.4 165.6,181.2 166.2,181.1 166.8,181.1 167.4,156.4 168.0,156.4 168.6,164.6 169.1,160.5 169.7,160.5 170.3,160.5 170.9,160.5 171.5,159.0 172.1,155.7 172.7,155.7 173.2,155.7 173.8,157.3 174.4,157.3 175.0,169.8 175.6,157.4 176.2,171.7 176.8,171.7 177.3,171.7 177.9,164.6 178.5,159.4 179.1,159.4 179.7,174.3 180.3,174.3 180.8,174.3 181.4,169.4 182.0,169.4 182.6,169.4 183.2,167.4 183.8,167.4 184.4,180.0 184.9,180.0 185.5,161.0 186.1,172.9 186.7,172.9 187.3,178.2 187.9,184.6 188.5,184.6 189.0,184.6 189.6,184.6 190.2,184.6 190.8,190.1 191.4,190.1 192.0,170.9 192.6,170.9 193.1,170.9 193.7,170.9 194.3,161.9 194.9,161.9 195.5,161.9 196.1,161.9 196.7,161.9 197.2,158.7 197.8,158.7 198.4,158.7 199.0,158.7 199.6,157.7 200.2,157.7 200.8,157.7 201.3,159.0 201.9,159.0 202.5,159.0 203.1,159.0 203.7,156.6 204.3,156.6 204.9,156.6 205.4,155.6 206.0,155.6 206.6,156.8 207.2,156.8 207.8,156.8 208.4,156.8 209.0,156.8 209.5,158.1 210.1,158.1 210.7,156.1 211.3,156.1 211.9,156.1 212.5,156.1 213.1,156.1 213.6,172.8 214.2,172.8 214.8,157.7 215.4,157.7 216.0,157.7 216.6,157.7 217.2,170.2 217.7,162.7 218.3,162.7 218.9,162.7 219.5,162.7 220.1,155.8 220.7,155.8 221.2,161.2 221.8,160.8 222.4,160.8 223.0,160.8 223.6,157.6 224.2,157.6 224.8,155.9 225.3,176.3 225.9,178.7 226.5,178.7 227.1,178.7 227.7,178.7 228.3,178.7 228.9,178.7 229.4,178.7 230.0,195.6 230.6,187.1 231.2,187.5 231.8,187.5 232.4,187.5 233.0,187.5 233.5,162.8 234.1,169.2 234.7,156.8 235.3,160.8 235.9,160.8 236.5,160.8 237.1,160.8 237.6,160.8 238.2,160.8 238.8,160.8 239.4,170.7 240.0,170.7 240.6,177.2 241.2,158.9 241.7,158.9 242.3,158.9 242.9,158.9 243.5,174.0 244.1,174.0 244.7,174.0 245.3,174.0 245.8,174.0 246.4,174.0 247.0,174.0 247.6,161.3 248.2,158.3 248.8,158.3 249.4,156.6 249.9,155.6 250.5,156.4 251.1,156.3 251.7,156.3 252.3,156.3 252.9,155.8 253.5,155.8 254.0,155.8 254.6,156.9 255.2,156.9 255.8,156.9 256.4,156.4 257.0,156.5 257.6,156.5 258.1,156.0 258.7,156.0 259.3,169.5 259.9,161.6 260.5,161.6 261.1,161.6 261.6,161.6 262.2,161.6 262.8,161.6 263.4,161.6 264.0,156.3 264.6,156.3 265.2,156.3 265.7,156.3 266.3,155.8 266.9,155.8 267.5,163.7 268.1,163.7 268.7,160.4 269.3,156.2 269.8,156.2 270.4,156.2 271.0,156.2 271.6,161.8 272.2,161.8 272.8,163.4 273.4,163.4 273.9,163.4 274.5,164.1 275.1,164.1 275.7,169.3 276.3,160.0 276.9,160.0 277.5,160.0 278.0,160.0 278.6,160.0 279.2,157.1 279.8,157.1 280.4,157.1 281.0,157.1 281.6,156.1 282.1,156.1 282.7,156.1 283.3,156.1 283.9,156.1 284.5,156.1 285.1,156.1 285.7,156.1 286.2,167.2 286.8,167.2 287.4,167.2 288.0,167.2 288.6,167.2 289.2,182.9 289.8,174.5 290.3,174.5 290.9,174.5 291.5,174.5 292.1,169.8 292.7,167.0 293.3,167.5 293.9,167.5 294.4,159.7 295.0,155.6 295.6,155.7 296.2,162.0 296.8,158.3 297.4,158.3 297.9,156.7 298.5,160.2 299.1,159.6 299.7,169.2 300.3,156.3 300.9,156.3 301.5,163.8 302.0,183.1 302.6,176.3 303.2,176.3 303.8,163.9 304.4,176.3 305.0,169.2 305.6,170.9 306.1,177.5 306.7,168.8 307.3,168.8 307.9,179.5 308.5,179.3 309.1,179.3 309.7,179.3 310.2,189.3 310.8,183.5 311.4,183.5 312.0,166.5 312.6,159.5 313.2,159.5 313.8,159.5 314.3,159.5 314.9,159.5 315.5,156.6 316.1,156.6 319.0,149.7" stroke="#969696"/>
<polyline points="81.9,315.0 82.5,301.1 83.1,249.3 83.7,275.4 84.2,262.1 84.8,249.5 85.4,226.3 86.0,237.3 86.6,218.5 87.2,203.2 87.8,199.0 88.3,186.4 88.9,182.9 89.5,162.3 90.1,166.7 90.7,157.3 91.3,157.3 91.9,165.0 92.4,165.0 93.0,153.5 93.6,153.5 94.2,158.1 94.8,158.1 95.4,173.3 96.0,176.9 96.5,176.9 97.1,173.6 97.7,173.6 98.3,178.8 98.9,178.8 99.5,178.8 100.1,178.3 100.6,182.0 101.2,157.9 101.8,166.5 102.4,166.5 103.0,166.5 103.6,166.5 104.1,162.3 104.7,170.7 105.3,168.8 105.9,168.8 106.5,172.4 107.1,169.5 107.7,169.5 108.2,169.5 108.8,166.1 109.4,166.1 110.0,166.1 110.6,170.4 111.2,161.9 111.8,161.9 112.3,161.9 112.9,161.9 113.5,171.1 114.1,171.1 114.7,171.1 115.3,171.1 115.9,178.3 116.4,174.4 117.0,174.4 117.6,164.7 118.2,164.7 118.8,164.7 119.4,164.7 120.0,166.8 120.5,159.7 121.1,160.2 121.7,160.2 122.3,159.5 122.9,179.5 123.5,179.5 124.1,179.5 124.6,186.1 125.2,181.9 125.8,177.8 126.4,177.8 127.0,182.0 127.6,178.7 128.2,178.7 128.7,178.7 129.3,174.4 129.9,174.4 130.5,176.5 131.1,176.5 131.7,176.5 132.3,167.7 132.8,184.3 133.4,184.3 134.0,184.3 134.6,184.3 135.2,180.4 135.8,184.8 136.4,176.4 136.9,164.5 137.5,171.6 138.1,171.6 138.7,162.5 139.3,162.5 139.9,162.8 140.5,162.8 141.0,162.8 141.6,162.8 142.2,161.3 142.8,158.2 143.4,158.2 144.0,158.2 144.5,158.2 145.1,153.8 145.7,153.8 146.3,153.8 146.9,158.3 147.5,158.3 148.1,158.3 148.6,153.7 149.2,153.7 149.8,153.7 150.4,158.0 151.0,158.0 151.6,174.5 152.2,172.7 152.7,172.7 153.3,172.7 153.9,164.2 154.5,164.2 155.1,164.2 155.7,157.6 156.3,157.6 156.8,157.6 157.4,183.1 158.0,188.6 158.6,188.6 159.2,171.0 159.8,171.6 160.4,171.6 160.9,171.6 161.5,172.1 162.1,172.1 162.7,179.8 163.3,179.8 163.9,179.8 164.5,176.3 165.0,176.3 165.6,176.3 166.2,160.3 166.8,160.3 167.4,160.3 168.0,163.7 168.6,163.7 169.1,156.8 169.7,153.7 170.3,153.7 170.9,153.9 171.5,154.3 172.1,169.0 172.7,180.6 173.2,166.2 173.8,166.2 174.4,166.2 175.0,166.2 175.6,166.2 176.2,175.5 176.8,181.0 177.3,181.9 177.9,181.9 178.5,181.9 179.1,181.9 179.7,173.4 180.3,173.4 180.8,173.4 181.4,175.7 182.0,171.3 182.6,171.3 183.2,177.1 183.8,177.1 184.4,155.8 184.9,155.8 185.5,155.9 186.1,155.9 186.7,155.9 187.3,155.9 187.9,180.2 188.5,180.2 189.0,182.2 189.6,173.9 190.2,164.5 190.8,163.7 191.4,163.7 192.0,163.7 192.6,163.7 193.1,166.2 193.7,158.9 194.3,158.9 194.9,158.9 195.5,158.9 196.1,160.1 196.7,154.5 197.2,154.5 197.8,170.9 198.4,170.9 199.0,170.9 199.6,171.2 200.2,163.5 200.8,156.0 201.3,156.0 201.9,157.1 202.5,157.1 203.1,171.1 203.7,154.9 204.3,157.9 204.9,172.2 205.4,172.2 206.0,160.1 206.6,160.1 207.2,160.1 207.8,160.1 208.4,160.1 209.0,160.1 209.5,160.1 210.1,159.5 210.7,159.5 211.3,159.5 211.9,159.5 212.5,163.4 213.1,163.4 213.6,168.0 214.2,168.0 214.8,182.7 215.4,182.7 216.0,182.7 216.6,185.7 217.2,185.7 217.7,185.7 218.3,175.6 218.9,172.4 219.5,172.4 220.1,172.4 220.7,172.4 221.2,172.4 221.8,154.9 222.4,168.5 223.0,153.5 223.6,153.5 224.2,163.0 224.8,170.3 225.3,169.2 225.9,169.2 226.5,169.2 227.1,169.2 227.7,169.2 228.3,169.2 228.9,169.2 229.4,169.2 230.0,169.2 230.6,153.8 231.2,173.4 231.8,167.0 232.4,167.0 233.0,167.0 233.5,165.5 234.1,165.5 234.7,170.2 235.3,153.6 235.9,153.6 236.5,153.6 237.1,153.6 237.6,155.4 238.2,155.4 238.8,154.1 239.4,154.8 240.0,154.8 240.6,154.8 241.2,181.8 241.7,184.9 242.3,169.6 242.9,169.6 243.5,166.4 244.1,166.4 244.7,163.0 245.3,163.0 245.8,160.4 246.4,160.4 247.0,172.9 247.6,172.9 248.2,153.5 248.8,153.5 249.4,153.5 249.9,155.0 250.5,155.0 251.1,155.0 251.7,155.0 252.3,155.0 252.9,154.3 253.5,154.3 254.0,171.0 254.6,171.0 255.2,171.0 255.8,171.0 256.4,171.9 257.0,171.4 257.6,171.4 258.1,171.4 258.7,171.4 259.3,155.0 259.9,168.1 260.5,168.1 261.1,168.1 261.6,168.1 262.2,168.1 262.8,168.1 263.4,168.1 264.0,168.1 264.6,168.1 265.2,168.1 265.7,176.7 266.3,176.7 266.9,176.7 267.5,166.7 268.1,153.7 268.7,165.9 269.3,165.9 269.8,165.9 270.4,170.0 271.0,170.0 271.6,170.0 272.2,170.0 272.8,176.4 273.4,184.3 273.9,184.3 274.5,169.7 275.1,159.6 275.7,181.0 276.3,181.0 276.9,181.0 277.5,181.0 278.0,162.4 278.6,162.4 279.2,172.6 279.8,172.6 280.4,172.6 281.0,172.6 281.6,163.1 282.1,155.2 282.7,155.2 283.3,155.2 283.9,155.2 284.5,155.2 285.1,155.2 285.7,155.2 286.2,155.2 286.8,155.2 287.4,155.2 288.0,155.2 288.6,169.1 289.2,169.1 289.8,172.2 290.3,176.0 290.9,176.0 291.5,176.0 292.1,178.5 292.7,178.5 293.3,170.4 293.9,170.4 294.4,161.6 295.0,161.6 295.6,173.5 296.2,173.5 296.8,173.5 297.4,166.1 297.9,166.1 298.5,166.1 299.1,166.1 299.7,166.1 300.3,166.1 300.9,166.1 301.5,165.0 302.0,165.0 302.6,165.0 303.2,165.0 303.8,165.0 304.4,165.0 305.0,165.0 305.6,163.4 306.1,163.4 306.7,164.8 307.3,158.7 307.9,158.7 308.5,158.7 309.1,170.1 309.7,170.1 310.2,170.1 310.8,170.1 311.4,157.4 312.0,157.4 312.6,162.1 313.2,162.1 313.8,173.1 314.3,154.4 314.9,163.9 315.5,163.3 316.1,180.6 319.0,149.7" stroke="#3182bd"/>
<polyline points="319.0,40.3 374.6,40.3" stroke="#6f9fc8" stroke-width="1.5"/>
<polyline points="319.0,149.7 374.6,149.7" stroke="#8fa9bf" stroke-width="1.5"/>
</g></g>
<g clip-path="url(#cr)"><g fill="none" stroke-width="1.1" stroke-linejoin="round" stroke-opacity="0.85" filter="url(#bl)">
<polyline points="452.9,87.2 453.5,87.2 454.1,154.9 454.7,187.5 455.3,187.5" stroke="#9ecae1"/>
<polyline points="593.5,138.0 594.1,132.5 594.6,102.3 595.2,192.9 595.8,125.2" stroke="#6baed6"/>
<polyline points="460.0,128.3 460.6,98.9 461.1,173.7 461.7,116.8 462.3,127.6" stroke="#fd8d3c"/>
<polyline points="567.7,202.4 568.3,118.1 568.9,195.5 569.5,105.7 570.0,121.6" stroke="#6baed6"/>
<polyline points="534.9,136.0 535.5,106.7 536.1,61.1 536.7,130.0 537.3,98.3" stroke="#bdbdbd"/>
<polyline points="572.4,207.2 573.0,146.7 573.6,146.7 574.1,181.0 574.7,165.4" stroke="#969696"/>
<polyline points="623.9,105.0 624.5,136.8 625.1,124.0 625.7,129.6 626.3,129.6" stroke="#969696"/>
<polyline points="530.2,108.8 530.8,95.8 531.4,95.8 532.0,79.9 532.6,77.6" stroke="#bdbdbd"/>
<polyline points="476.4,247.8 477.0,99.1 477.5,234.2 478.1,197.2 478.7,146.0" stroke="#fd8d3c"/>
<polyline points="448.3,207.5 448.8,66.1 449.4,116.2 450.0,164.6 450.6,128.8" stroke="#969696"/>
<polyline points="520.9,115.8 521.4,85.6 522.0,85.6 522.6,67.4 523.2,115.3" stroke="#fd8d3c"/>
<polyline points="520.9,132.2 521.4,132.2 522.0,147.1 522.6,147.1 523.2,88.9" stroke="#6baed6"/>
<polyline points="464.7,129.3 465.2,68.2 465.8,85.8 466.4,85.8 467.0,157.4" stroke="#bdbdbd"/>
<polyline points="572.4,180.1 573.0,103.6 573.6,108.4 574.1,58.7 574.7,225.0" stroke="#9ecae1"/>
<polyline points="527.9,87.8 528.5,87.8 529.1,170.3 529.6,138.6 530.2,128.8" stroke="#9ecae1"/>
<polyline points="511.5,103.4 512.1,119.7 512.7,96.6 513.3,84.2 513.8,103.4" stroke="#bdbdbd"/>
<polyline points="523.2,107.7 523.8,107.7 524.4,136.2 525.0,188.1 525.5,110.3" stroke="#636363"/>
<polyline points="626.3,131.9 626.8,172.3 627.4,161.5 628.0,117.6 628.6,142.2" stroke="#e6550d"/>
<polyline points="633.3,153.4 633.9,143.3 634.5,124.0 635.0,158.1 635.6,164.1" stroke="#bdbdbd"/>
<polyline points="520.9,98.2 521.4,145.5 522.0,187.2 522.6,187.2 523.2,135.2" stroke="#9ecae1"/>
<polyline points="532.6,87.3 533.2,122.3 533.7,226.7 534.3,122.2 534.9,71.1" stroke="#fdae6b"/>
<polyline points="600.5,68.0 601.1,68.0 601.7,150.9 602.2,150.9 602.8,181.0" stroke="#6baed6"/>
<polyline points="488.1,123.4 488.7,143.9 489.2,190.9 489.8,168.8 490.4,219.9" stroke="#3182bd"/>
<polyline points="623.9,75.2 624.5,75.2 625.1,138.5 625.7,100.4 626.3,128.3" stroke="#9ecae1"/>
<polyline points="513.8,167.4 514.4,100.0 515.0,117.0 515.6,147.6 516.2,150.8" stroke="#969696"/>
<polyline points="438.9,219.2 439.5,118.7 440.1,113.3 440.7,289.3 441.2,266.0" stroke="#fdae6b"/>
<polyline points="478.7,180.9 479.3,80.7 479.9,104.7 480.5,204.4 481.1,175.4" stroke="#969696"/>
<polyline points="509.2,149.0 509.7,149.0 510.3,145.0 510.9,128.7 511.5,134.4" stroke="#e6550d"/>
<polyline points="488.1,177.8 488.7,97.5 489.2,126.7 489.8,126.7 490.4,126.7" stroke="#fdae6b"/>
<polyline points="467.0,157.4 467.6,62.7 468.2,184.2 468.8,128.7 469.3,127.7" stroke="#bdbdbd"/>
<polyline points="645.0,174.8 645.6,174.8 646.2,198.2 646.7,106.3 647.3,63.6" stroke="#6baed6"/>
<polyline points="591.1,111.4 591.7,97.2 592.3,98.8 592.9,108.0 593.5,113.8" stroke="#969696"/>
<polyline points="640.3,170.7 640.9,111.3 641.5,157.3 642.1,121.1 642.6,169.7" stroke="#3182bd"/>
<polyline points="436.6,94.0 437.1,94.0 437.7,210.8 438.3,127.8 438.9,77.9" stroke="#969696"/>
<polyline points="532.6,190.8 533.2,83.5 533.7,126.2 534.3,146.2 534.9,148.4" stroke="#9ecae1"/>
<polyline points="619.2,57.1 619.8,57.1 620.4,138.5 621.0,123.8 621.6,70.3" stroke="#6baed6"/>
<polyline points="516.2,128.7 516.8,131.7 517.4,184.0 517.9,169.7 518.5,85.9" stroke="#6baed6"/>
<polyline points="546.6,172.0 547.2,93.1 547.8,93.1 548.4,93.1 549.0,138.0" stroke="#fd8d3c"/>
<polyline points="586.4,151.6 587.0,84.2 587.6,162.2 588.2,139.5 588.8,124.3" stroke="#969696"/>
<polyline points="656.7,202.2 659.6,40.3" stroke="#969696"/>
<polyline points="642.6,106.3 643.2,110.1 643.8,135.7 644.4,176.0 645.0,74.0" stroke="#636363"/>
<polyline points="516.2,135.8 516.8,64.2 517.4,138.1 517.9,101.5 518.5,138.9" stroke="#969696"/>
<polyline points="525.5,151.0 526.1,97.7 526.7,66.0 527.3,148.0 527.9,134.4" stroke="#6baed6"/>
<polyline points="455.3,142.4 455.9,185.0 456.5,130.4 457.0,100.9 457.6,167.3" stroke="#3182bd"/>
<polyline points="652.0,139.4 652.6,112.1 653.2,121.9 653.8,127.6 654.4,127.6" stroke="#969696"/>
<polyline points="586.4,149.8 587.0,86.2 587.6,149.2 588.2,88.2 588.8,187.3" stroke="#bdbdbd"/>
<polyline points="563.0,179.2 563.6,74.9 564.2,88.2 564.8,70.1 565.4,140.7" stroke="#969696"/>
<polyline points="572.4,142.0 573.0,159.6 573.6,130.1 574.1,108.0 574.7,93.9" stroke="#fdae6b"/>
<polyline points="427.2,189.1 427.8,238.3 428.4,152.9 428.9,183.0 429.5,177.0" stroke="#969696"/>
<polyline points="530.2,86.1 530.8,176.2 531.4,122.1 532.0,123.1 532.6,123.1" stroke="#3182bd"/>
<polyline points="628.6,100.0 629.2,100.0 629.8,226.9 630.4,134.3 630.9,80.7" stroke="#6baed6"/>
<polyline points="546.6,64.7 547.2,125.5 547.8,201.8 548.4,201.8 549.0,201.8" stroke="#3182bd"/>
<polyline points="516.2,164.9 516.8,162.5 517.4,203.1 517.9,203.1 518.5,151.6" stroke="#636363"/>
<polyline points="574.7,265.9 575.3,102.3 575.9,102.3 576.5,193.0 577.1,193.0" stroke="#6baed6"/>
<polyline points="537.3,155.8 537.8,131.2 538.4,216.1 539.0,216.1 539.6,216.1" stroke="#9ecae1"/>
<polyline points="584.1,106.9 584.7,127.9 585.3,233.3 585.9,102.7 586.4,77.4" stroke="#fdae6b"/>
<polyline points="516.2,101.0 516.8,101.0 517.4,91.5 517.9,130.5 518.5,215.3" stroke="#e6550d"/>
<polyline points="630.9,100.8 631.5,189.4 632.1,189.4 632.7,85.3 633.3,163.6" stroke="#fd8d3c"/>
<polyline points="523.2,88.9 523.8,88.9 524.4,183.7 525.0,181.9 525.5,94.3" stroke="#6baed6"/>
<polyline points="464.7,191.5 465.2,191.5 465.8,137.2 466.4,142.6 467.0,110.0" stroke="#6baed6"/>
<polyline points="434.2,164.5 434.8,152.6 435.4,150.8 436.0,150.8 436.6,186.7" stroke="#3182bd"/>
<polyline points="642.6,106.7 643.2,164.8 643.8,148.1 644.4,132.7 645.0,178.0" stroke="#6baed6"/>
<polyline points="537.3,107.8 537.8,75.4 538.4,75.4 539.0,70.6 539.6,156.8" stroke="#e6550d"/>
<polyline points="642.6,154.1 643.2,191.1 643.8,77.3 644.4,215.2 645.0,99.1" stroke="#bdbdbd"/>
<polyline points="577.1,79.4 577.7,88.5 578.2,111.5 578.8,111.5 579.4,182.3" stroke="#969696"/>
<polyline points="511.5,155.7 512.1,161.6 512.7,153.4 513.3,99.5 513.8,74.8" stroke="#636363"/>
<polyline points="647.3,195.6 647.9,153.9 648.5,153.9 649.1,135.4 649.7,132.6" stroke="#6baed6"/>
<polyline points="640.3,158.2 640.9,158.2 641.5,153.7 642.1,106.7 642.6,106.7" stroke="#6baed6"/>
<polyline points="591.1,207.2 591.7,147.3 592.3,173.9 592.9,135.4 593.5,83.7" stroke="#9ecae1"/>
<polyline points="605.2,124.6 605.8,124.6 606.3,124.6 606.9,96.3 607.5,83.3" stroke="#bdbdbd"/>
<polyline points="513.8,130.9 514.4,171.6 515.0,108.1 515.6,87.7 516.2,93.3" stroke="#fdae6b"/>
<polyline points="478.7,128.8 479.3,101.3 479.9,148.4 480.5,169.6 481.1,211.7" stroke="#bdbdbd"/>
<polyline points="422.5,190.3 423.1,203.6 423.7,203.6 424.3,203.6 424.8,136.2" stroke="#6baed6"/>
<polyline points="656.7,154.4 659.6,40.3" stroke="#969696"/>
<polyline points="518.5,118.7 519.1,132.3 519.7,84.4 520.3,84.4 520.9,115.8" stroke="#fd8d3c"/>
<polyline points="541.9,178.5 542.5,282.8 543.1,166.6 543.7,206.2 544.3,288.0" stroke="#6baed6"/>
<polyline points="455.3,117.8 455.9,229.6 456.5,206.1 457.0,80.0 457.6,175.5" stroke="#fd8d3c"/>
<polyline points="488.1,72.1 488.7,113.6 489.2,175.1 489.8,53.0 490.4,121.9" stroke="#969696"/>
<polyline points="654.4,152.9 654.9,128.6 655.5,77.4 656.1,122.7 656.7,134.8" stroke="#6baed6"/>
<polyline points="518.5,85.9 519.1,85.9 519.7,117.9 520.3,117.9 520.9,121.9" stroke="#6baed6"/>
<polyline points="635.6,134.5 636.2,181.9 636.8,132.9 637.4,124.9 638.0,174.1" stroke="#6baed6"/>
<polyline points="495.1,126.7 495.7,107.3 496.3,107.3 496.9,145.0 497.4,222.9" stroke="#3182bd"/>
<polyline points="497.4,197.7 498.0,248.6 498.6,234.5 499.2,270.1 499.8,235.7" stroke="#6baed6"/>
<polyline points="558.3,132.3 558.9,132.3 559.5,78.5 560.1,89.1 560.7,129.7" stroke="#e6550d"/>
<polyline points="549.0,150.3 549.6,150.3 550.1,100.1 550.7,100.1 551.3,155.8" stroke="#bdbdbd"/>
<polyline points="441.2,183.8 441.8,176.6 442.4,176.6 443.0,122.7 443.6,190.9" stroke="#bdbdbd"/>
<polyline points="612.2,205.2 612.8,122.3 613.4,122.3 614.0,144.3 614.5,127.3" stroke="#3182bd"/>
<polyline points="656.7,167.7 659.6,40.3" stroke="#3182bd"/>
<polyline points="537.3,167.0 537.8,104.7 538.4,213.9 539.0,213.9 539.6,124.3" stroke="#969696"/>
<polyline points="481.1,149.1 481.6,149.1 482.2,88.3 482.8,132.6 483.4,132.6" stroke="#fdae6b"/>
<polyline points="443.6,172.9 444.2,156.7 444.7,180.2 445.3,98.8 445.9,228.0" stroke="#969696"/>
<polyline points="574.7,107.7 575.3,126.9 575.9,124.6 576.5,119.1 577.1,85.7" stroke="#636363"/>
<polyline points="499.8,90.6 500.4,115.8 501.0,183.6 501.5,99.9 502.1,99.9" stroke="#3182bd"/>
<polyline points="509.2,169.0 509.7,176.0 510.3,176.0 510.9,84.4 511.5,84.4" stroke="#969696"/>
<polyline points="462.3,127.6 462.9,127.6 463.5,235.5 464.1,235.5 464.7,160.7" stroke="#fd8d3c"/>
<polyline points="429.5,174.2 430.1,177.2 430.7,193.4 431.3,212.4 431.9,142.6" stroke="#fdae6b"/>
<polyline points="570.0,129.3 570.6,153.5 571.2,111.9 571.8,164.1 572.4,180.1" stroke="#9ecae1"/>
<polyline points="654.4,138.1 654.9,233.9 655.5,119.2 656.1,119.2 656.7,167.7" stroke="#3182bd"/>
<polyline points="577.1,132.3 577.7,108.3 578.2,69.9 578.8,62.7 579.4,192.2" stroke="#9ecae1"/>
<polyline points="520.9,152.8 521.4,178.9 522.0,126.3 522.6,158.0 523.2,174.7" stroke="#bdbdbd"/>
<polyline points="649.7,121.6 650.3,121.6 650.8,302.9 651.4,139.0 652.0,212.3" stroke="#6baed6"/>
<polyline points="574.7,138.1 575.3,118.2 575.9,81.2 576.5,126.6 577.1,92.1" stroke="#e6550d"/>
<polyline points="467.0,133.5 467.6,170.4 468.2,190.7 468.8,107.6 469.3,108.5" stroke="#3182bd"/>
<polyline points="467.0,110.0 467.6,206.5 468.2,135.0 468.8,108.6 469.3,319.4" stroke="#6baed6"/>
<polyline points="469.3,167.0 469.9,122.6 470.5,138.1 471.1,135.0 471.7,179.2" stroke="#6baed6"/>
<polyline points="567.7,100.5 568.3,146.7 568.9,149.7 569.5,186.2 570.0,156.6" stroke="#bdbdbd"/>
<polyline points="621.6,87.7 622.2,89.1 622.7,66.4 623.3,58.0 623.9,90.0" stroke="#636363"/>
<polyline points="630.9,171.4 631.5,142.1 632.1,125.4 632.7,159.2 633.3,79.0" stroke="#6baed6"/>
<polyline points="565.4,78.5 565.9,111.5 566.5,111.5 567.1,145.9 567.7,131.6" stroke="#fd8d3c"/>
<polyline points="553.7,145.0 554.2,192.6 554.8,71.2 555.4,71.2 556.0,130.7" stroke="#fdae6b"/>
<polyline points="638.0,174.1 638.5,189.2 639.1,189.1 639.7,61.4 640.3,86.4" stroke="#6baed6"/>
<polyline points="457.6,105.6 458.2,237.0 458.8,127.4 459.4,176.3 460.0,176.3" stroke="#9ecae1"/>
<polyline points="560.7,129.7 561.3,156.2 561.8,161.2 562.4,161.2 563.0,97.8" stroke="#e6550d"/>
<polyline points="462.3,137.2 462.9,80.1 463.5,179.7 464.1,136.3 464.7,137.4" stroke="#969696"/>
<polyline points="431.9,179.2 432.5,145.5 433.0,200.1 433.6,120.1 434.2,104.8" stroke="#3182bd"/>
<polyline points="525.5,145.8 526.1,145.8 526.7,144.8 527.3,144.8 527.9,125.0" stroke="#969696"/>
<polyline points="595.8,177.6 596.4,204.4 597.0,134.4 597.6,100.1 598.1,106.9" stroke="#969696"/>
<polyline points="652.0,212.3 652.6,98.4 653.2,154.2 653.8,105.4 654.4,102.7" stroke="#6baed6"/>
<polyline points="502.1,285.6 502.7,285.6 503.3,81.8 503.9,91.5 504.5,191.9" stroke="#636363"/>
<polyline points="537.3,116.1 537.8,175.5 538.4,129.5 539.0,126.8 539.6,126.8" stroke="#6baed6"/>
<polyline points="497.4,60.6 498.0,110.5 498.6,90.0 499.2,102.9 499.8,135.9" stroke="#636363"/>
<polyline points="546.6,148.3 547.2,148.3 547.8,164.7 548.4,197.5 549.0,146.2" stroke="#6baed6"/>
<polyline points="495.1,239.9 495.7,158.4 496.3,144.2 496.9,188.7 497.4,60.6" stroke="#636363"/>
<polyline points="595.8,82.7 596.4,150.5 597.0,130.1 597.6,96.4 598.1,142.3" stroke="#6baed6"/>
<polyline points="488.1,106.7 488.7,122.9 489.2,54.3 489.8,131.7 490.4,95.3" stroke="#3182bd"/>
<polyline points="443.6,72.1 444.2,109.0 444.7,130.6 445.3,164.4 445.9,80.9" stroke="#e6550d"/>
<polyline points="598.1,96.8 598.7,96.8 599.3,76.4 599.9,111.1 600.5,68.0" stroke="#6baed6"/>
<polyline points="506.8,180.9 507.4,110.9 508.0,95.4 508.6,154.7 509.2,204.6" stroke="#bdbdbd"/>
<polyline points="499.8,82.7 500.4,268.7 501.0,167.2 501.5,160.2 502.1,162.4" stroke="#969696"/>
<polyline points="422.5,260.3 423.1,173.4 423.7,219.1 424.3,142.4 424.8,268.6" stroke="#fd8d3c"/>
<polyline points="607.5,93.4 608.1,156.9 608.7,156.9 609.3,85.1 609.9,165.1" stroke="#6baed6"/>
<polyline points="434.2,72.6 434.8,72.6 435.4,157.9 436.0,131.6 436.6,131.6" stroke="#6baed6"/>
<polyline points="457.6,167.3 458.2,105.2 458.8,92.1 459.4,103.3 460.0,175.1" stroke="#3182bd"/>
<polyline points="431.9,271.5 432.5,131.5 433.0,180.9 433.6,254.3 434.2,144.8" stroke="#bdbdbd"/>
<polyline points="502.1,98.4 502.7,130.4 503.3,126.1 503.9,86.3 504.5,118.9" stroke="#fd8d3c"/>
<polyline points="534.9,96.7 535.5,165.3 536.1,112.3 536.7,112.8 537.3,107.8" stroke="#e6550d"/>
<polyline points="586.4,109.6 587.0,196.0 587.6,110.7 588.2,162.7 588.8,105.4" stroke="#969696"/>
<polyline points="565.4,174.0 565.9,173.3 566.5,67.2 567.1,62.3 567.7,59.6" stroke="#e6550d"/>
<polyline points="647.3,110.9 647.9,165.9 648.5,165.9 649.1,105.5 649.7,196.0" stroke="#e6550d"/>
<polyline points="476.4,131.2 477.0,131.2 477.5,131.2 478.1,111.3 478.7,195.0" stroke="#3182bd"/>
<polyline points="427.2,237.8 427.8,179.8 428.4,179.8 428.9,151.2 429.5,143.0" stroke="#9ecae1"/>
<polyline points="448.3,124.3 448.8,137.1 449.4,185.8 450.0,141.6 450.6,174.1" stroke="#3182bd"/>
<polyline points="577.1,146.4 577.7,127.4 578.2,72.6 578.8,240.9 579.4,127.8" stroke="#969696"/>
<polyline points="619.2,196.3 619.8,170.8 620.4,121.3 621.0,159.5 621.6,131.8" stroke="#969696"/>
<polyline points="467.0,192.7 467.6,154.2 468.2,89.2 468.8,166.7 469.3,92.6" stroke="#969696"/>
<polyline points="520.9,180.5 521.4,128.8 522.0,128.8 522.6,176.8 523.2,176.8" stroke="#969696"/>
<polyline points="534.9,176.7 535.5,68.5 536.1,110.3 536.7,233.2 537.3,99.4" stroke="#6baed6"/>
<polyline points="619.2,98.5 619.8,98.5 620.4,135.2 621.0,123.0 621.6,107.8" stroke="#9ecae1"/>
<polyline points="567.7,91.8 568.3,95.6 568.9,101.8 569.5,151.6 570.0,103.8" stroke="#3182bd"/>
<polyline points="567.7,192.2 568.3,153.3 568.9,166.9 569.5,135.5 570.0,135.5" stroke="#fdae6b"/>
<polyline points="626.3,128.5 626.8,56.5 627.4,151.1 628.0,151.1 628.6,151.1" stroke="#3182bd"/>
<polyline points="567.7,115.2 568.3,177.5 568.9,177.5 569.5,86.8 570.0,130.1" stroke="#6baed6"/>
<polyline points="607.5,136.6 608.1,163.9 608.7,176.0 609.3,146.4 609.9,146.4" stroke="#e6550d"/>
<polyline points="460.0,76.6 460.6,95.5 461.1,97.8 461.7,137.8 462.3,137.2" stroke="#969696"/>
<polyline points="424.8,268.6 425.4,178.7 426.0,72.6 426.6,132.5 427.2,171.1" stroke="#fd8d3c"/>
<polyline points="509.2,109.4 509.7,164.3 510.3,148.6 510.9,147.4 511.5,115.3" stroke="#9ecae1"/>
<polyline points="595.8,125.2 596.4,208.8 597.0,87.1 597.6,96.8 598.1,96.8" stroke="#6baed6"/>
<polyline points="633.3,137.3 633.9,115.3 634.5,115.3 635.0,125.2 635.6,107.5" stroke="#9ecae1"/>
<polyline points="593.5,83.7 594.1,227.8 594.6,227.8 595.2,188.8 595.8,188.8" stroke="#9ecae1"/>
<polyline points="614.5,115.0 615.1,174.2 615.7,128.2 616.3,140.7 616.9,140.7" stroke="#fd8d3c"/>
<polyline points="455.3,103.6 455.9,108.9 456.5,108.9 457.0,141.9 457.6,157.4" stroke="#e6550d"/>
<polyline points="593.5,103.7 594.1,84.8 594.6,104.7 595.2,204.5 595.8,104.2" stroke="#636363"/>
<polyline points="645.0,99.1 645.6,97.9 646.2,87.9 646.7,113.8 647.3,163.4" stroke="#bdbdbd"/>
<polyline points="424.8,253.3 425.4,225.3 426.0,166.1 426.6,319.4 427.2,237.8" stroke="#9ecae1"/>
<polyline points="450.6,172.2 451.2,172.2 451.8,179.7 452.4,146.5 452.9,146.6" stroke="#fdae6b"/>
<polyline points="523.2,252.3 523.8,138.0 524.4,131.2 525.0,175.5 525.5,175.5" stroke="#fdae6b"/>
<polyline points="581.8,102.3 582.3,102.3 582.9,148.2 583.5,126.7 584.1,126.7" stroke="#636363"/>
<polyline points="492.8,116.6 493.3,117.7 493.9,183.6 494.5,183.6 495.1,175.3" stroke="#969696"/>
<polyline points="642.6,88.7 643.2,113.2 643.8,175.3 644.4,96.6 645.0,179.8" stroke="#fd8d3c"/>
<polyline points="588.8,230.2 589.4,143.9 590.0,117.5 590.5,103.5 591.1,179.5" stroke="#3182bd"/>
<polyline points="628.6,151.1 629.2,79.2 629.8,155.3 630.4,155.3 630.9,150.0" stroke="#3182bd"/>
<polyline points="474.0,96.8 474.6,96.8 475.2,120.0 475.8,120.0 476.4,91.5" stroke="#969696"/>
<polyline points="441.2,182.4 441.8,57.3 442.4,160.5 443.0,186.5 443.6,212.7" stroke="#6baed6"/>
<polyline points="476.4,84.0 477.0,106.0 477.5,150.5 478.1,261.8 478.7,128.8" stroke="#bdbdbd"/>
<polyline points="551.3,56.8 551.9,82.2 552.5,82.2 553.1,114.8 553.7,188.9" stroke="#3182bd"/>
<polyline points="553.7,161.2 554.2,123.2 554.8,96.7 555.4,111.7 556.0,103.3" stroke="#9ecae1"/>
<polyline points="464.7,102.8 465.2,139.9 465.8,79.2 466.4,229.9 467.0,80.4" stroke="#9ecae1"/>
<polyline points="565.4,82.5 565.9,173.5 566.5,144.9 567.1,90.5 567.7,192.2" stroke="#fdae6b"/>
<polyline points="534.9,118.0 535.5,239.1 536.1,239.1 536.7,181.5 537.3,167.0" stroke="#969696"/>
<polyline points="577.1,193.0 577.7,95.3 578.2,57.9 578.8,191.2 579.4,102.9" stroke="#6baed6"/>
<polyline points="549.0,138.0 549.6,159.7 550.1,56.5 550.7,157.7 551.3,84.9" stroke="#fd8d3c"/>
<polyline points="488.1,109.3 488.7,122.5 489.2,210.9 489.8,147.6 490.4,87.9" stroke="#bdbdbd"/>
<polyline points="628.6,95.1 629.2,138.1 629.8,84.7 630.4,103.3 630.9,152.3" stroke="#969696"/>
<polyline points="518.5,158.4 519.1,69.0 519.7,132.3 520.3,100.6 520.9,152.8" stroke="#bdbdbd"/>
<polyline points="560.7,132.5 561.3,107.2 561.8,187.3 562.4,187.3 563.0,105.7" stroke="#3182bd"/>
<polyline points="556.0,143.4 556.6,161.9 557.2,161.9 557.8,101.2 558.3,123.4" stroke="#3182bd"/>
<polyline points="452.9,105.3 453.5,102.8 454.1,120.4 454.7,99.2 455.3,139.1" stroke="#969696"/>
<polyline points="448.3,120.6 448.8,120.6 449.4,93.6 450.0,127.1 450.6,75.2" stroke="#fd8d3c"/>
<polyline points="621.6,213.7 622.2,99.2 622.7,138.5 623.3,151.0 623.9,127.5" stroke="#e6550d"/>
<polyline points="558.3,175.7 558.9,101.6 559.5,97.4 560.1,97.5 560.7,120.4" stroke="#636363"/>
<polyline points="549.0,201.8 549.6,201.8 550.1,157.0 550.7,127.0 551.3,56.8" stroke="#3182bd"/>
<polyline points="581.8,140.2 582.3,93.2 582.9,92.8 583.5,83.7 584.1,145.2" stroke="#bdbdbd"/>
<polyline points="619.2,112.7 619.8,118.3 620.4,90.1 621.0,98.5 621.6,87.7" stroke="#636363"/>
<polyline points="628.6,168.4 629.2,168.4 629.8,165.5 630.4,127.9 630.9,69.1" stroke="#fdae6b"/>
<polyline points="497.4,95.0 498.0,95.0 498.6,170.7 499.2,211.2 499.8,135.3" stroke="#969696"/>
<polyline points="511.5,170.1 512.1,170.1 512.7,170.1 513.3,85.3 513.8,130.9" stroke="#fdae6b"/>
<polyline points="605.2,144.1 605.8,188.3 606.3,118.7 606.9,175.0 607.5,175.0" stroke="#969696"/>
<polyline points="598.1,81.8 598.7,119.5 599.3,175.1 599.9,173.4 600.5,108.1" stroke="#e6550d"/>
<polyline points="443.6,212.7 444.2,141.0 444.7,108.0 445.3,92.9 445.9,154.4" stroke="#6baed6"/>
<polyline points="471.7,125.7 472.3,127.8 472.9,127.8 473.4,138.2 474.0,125.0" stroke="#bdbdbd"/>
<polyline points="445.9,154.4 446.5,172.8 447.1,106.1 447.7,151.4 448.3,151.4" stroke="#6baed6"/>
<polyline points="431.9,142.6 432.5,127.8 433.0,153.0 433.6,153.0 434.2,191.2" stroke="#fdae6b"/>
<polyline points="452.9,146.6 453.5,163.3 454.1,163.3 454.7,188.1 455.3,139.8" stroke="#fdae6b"/>
<polyline points="541.9,198.1 542.5,168.8 543.1,148.5 543.7,148.5 544.3,148.5" stroke="#bdbdbd"/>
<polyline points="483.4,138.7 484.0,156.8 484.6,167.9 485.1,172.1 485.7,142.4" stroke="#e6550d"/>
<polyline points="436.6,153.5 437.1,153.5 437.7,185.3 438.3,165.4 438.9,109.6" stroke="#969696"/>
<polyline points="462.3,152.2 462.9,232.7 463.5,95.5 464.1,95.5 464.7,106.2" stroke="#6baed6"/>
<polyline points="450.6,128.8 451.2,128.8 451.8,102.2 452.4,133.4 452.9,146.6" stroke="#969696"/>
<polyline points="518.5,215.3 519.1,95.5 519.7,66.5 520.3,107.0 520.9,97.8" stroke="#e6550d"/>
<polyline points="656.7,130.8 659.6,40.3" stroke="#9ecae1"/>
<polyline points="621.6,70.3 622.2,95.5 622.7,95.5 623.3,192.0 623.9,179.8" stroke="#6baed6"/>
<polyline points="652.0,156.3 652.6,131.9 653.2,133.2 653.8,178.7 654.4,141.5" stroke="#fd8d3c"/>
<polyline points="469.3,124.9 469.9,132.6 470.5,94.3 471.1,136.8 471.7,121.5" stroke="#9ecae1"/>
<polyline points="586.4,101.4 587.0,138.1 587.6,181.2 588.2,157.0 588.8,230.2" stroke="#3182bd"/>
<polyline points="595.8,125.4 596.4,203.8 597.0,88.3 597.6,92.4 598.1,76.0" stroke="#969696"/>
<polyline points="640.3,80.7 640.9,80.7 641.5,122.3 642.1,127.1 642.6,60.0" stroke="#969696"/>
<polyline points="570.0,121.6 570.6,93.8 571.2,94.3 571.8,196.8 572.4,134.9" stroke="#6baed6"/>
<polyline points="647.3,133.6 647.9,133.6 648.5,119.9 649.1,174.0 649.7,300.4" stroke="#969696"/>
<polyline points="544.3,131.0 544.9,142.8 545.5,142.8 546.0,81.6 546.6,144.5" stroke="#9ecae1"/>
<polyline points="638.0,80.7 638.5,80.7 639.1,80.7 639.7,80.7 640.3,80.7" stroke="#969696"/>
<polyline points="635.6,187.2 636.2,143.8 636.8,143.8 637.4,124.1 638.0,97.9" stroke="#3182bd"/>
<polyline points="427.2,145.3 427.8,138.8 428.4,210.2 428.9,216.2 429.5,207.1" stroke="#e6550d"/>
<polyline points="502.1,143.2 502.7,87.4 503.3,173.7 503.9,173.7 504.5,94.5" stroke="#bdbdbd"/>
<polyline points="520.9,59.2 521.4,188.1 522.0,113.6 522.6,113.6 523.2,107.7" stroke="#3182bd"/>
<polyline points="518.5,151.6 519.1,111.9 519.7,81.7 520.3,102.5 520.9,176.1" stroke="#636363"/>
<polyline points="436.6,131.6 437.1,147.9 437.7,255.4 438.3,152.0 438.9,161.6" stroke="#6baed6"/>
<polyline points="572.4,134.9 573.0,148.5 573.6,130.5 574.1,142.4 574.7,169.2" stroke="#6baed6"/>
<polyline points="607.5,133.2 608.1,134.7 608.7,107.5 609.3,107.5 609.9,112.8" stroke="#fdae6b"/>
<polyline points="586.4,172.6 587.0,204.3 587.6,204.3 588.2,204.3 588.8,207.8" stroke="#6baed6"/>
<polyline points="460.0,173.1 460.6,208.0 461.1,208.0 461.7,95.1 462.3,114.0" stroke="#3182bd"/>
<polyline points="488.1,121.8 488.7,121.8 489.2,190.8 489.8,227.7 490.4,198.7" stroke="#9ecae1"/>
<polyline points="497.4,200.3 498.0,135.1 498.6,152.0 499.2,97.4 499.8,114.2" stroke="#6baed6"/>
<polyline points="504.5,97.7 505.1,111.5 505.6,111.5 506.2,143.3 506.8,137.2" stroke="#3182bd"/>
<polyline points="570.0,160.6 570.6,108.5 571.2,108.5 571.8,108.5 572.4,108.5" stroke="#3182bd"/>
<polyline points="492.8,152.5 493.3,152.5 493.9,146.9 494.5,119.0 495.1,239.9" stroke="#636363"/>
<polyline points="598.1,142.3 598.7,125.3 599.3,157.5 599.9,92.8 600.5,92.8" stroke="#6baed6"/>
<polyline points="462.3,62.8 462.9,138.5 463.5,181.0 464.1,136.7 464.7,74.8" stroke="#969696"/>
<polyline points="623.9,147.5 624.5,128.8 625.1,155.8 625.7,88.9 626.3,88.9" stroke="#6baed6"/>
<polyline points="481.1,115.9 481.6,93.5 482.2,93.5 482.8,93.5 483.4,93.5" stroke="#6baed6"/>
<polyline points="516.2,85.6 516.8,85.6 517.4,179.7 517.9,93.1 518.5,93.1" stroke="#3182bd"/>
<polyline points="605.2,164.6 605.8,112.9 606.3,93.0 606.9,148.1 607.5,137.3" stroke="#6baed6"/>
<polyline points="445.9,107.8 446.5,107.8 447.1,123.2 447.7,167.8 448.3,145.8" stroke="#636363"/>
<polyline points="516.2,93.3 516.8,158.5 517.4,79.6 517.9,141.7 518.5,151.8" stroke="#fdae6b"/>
<polyline points="551.3,185.2 551.9,123.3 552.5,158.1 553.1,68.7 553.7,94.1" stroke="#969696"/>
<polyline points="455.3,142.0 455.9,81.4 456.5,81.4 457.0,206.2 457.6,144.8" stroke="#3182bd"/>
<polyline points="530.2,102.9 530.8,67.9 531.4,58.7 532.0,58.7 532.6,106.5" stroke="#969696"/>
<polyline points="492.8,110.1 493.3,125.8 493.9,218.2 494.5,126.2 495.1,171.2" stroke="#9ecae1"/>
<polyline points="544.3,120.9 544.9,120.9 545.5,229.1 546.0,233.5 546.6,131.7" stroke="#6baed6"/>
<polyline points="626.3,156.1 626.8,156.1 627.4,107.3 628.0,81.5 628.6,168.4" stroke="#fdae6b"/>
<polyline points="443.6,115.3 444.2,113.0 444.7,260.2 445.3,100.0 445.9,107.0" stroke="#3182bd"/>
<polyline points="527.9,129.9 528.5,156.2 529.1,94.6 529.6,186.4 530.2,86.1" stroke="#3182bd"/>
<polyline points="619.2,95.2 619.8,104.5 620.4,215.2 621.0,143.0 621.6,115.8" stroke="#6baed6"/>
<polyline points="506.8,93.8 507.4,136.4 508.0,132.2 508.6,132.2 509.2,165.1" stroke="#6baed6"/>
<polyline points="502.1,103.6 502.7,103.6 503.3,319.4 503.9,319.4 504.5,109.1" stroke="#6baed6"/>
<polyline points="598.1,199.1 598.7,161.9 599.3,140.5 599.9,122.0 600.5,176.0" stroke="#fd8d3c"/>
<polyline points="438.9,161.6 439.5,161.6 440.1,161.6 440.7,135.8 441.2,111.4" stroke="#6baed6"/>
<polyline points="572.4,103.2 573.0,86.5 573.6,123.1 574.1,71.6 574.7,265.9" stroke="#6baed6"/>
<polyline points="581.8,164.4 582.3,93.9 582.9,104.5 583.5,135.2 584.1,105.0" stroke="#fd8d3c"/>
<polyline points="595.8,140.2 596.4,140.2 597.0,140.2 597.6,181.8 598.1,82.9" stroke="#3182bd"/>
<polyline points="553.7,119.0 554.2,129.2 554.8,118.6 555.4,173.4 556.0,148.0" stroke="#636363"/>
<polyline points="445.9,299.5 446.5,120.0 447.1,88.5 447.7,125.2 448.3,194.5" stroke="#fdae6b"/>
<polyline points="591.1,152.7 591.7,159.7 592.3,138.1 592.9,154.9 593.5,185.2" stroke="#3182bd"/>
<polyline points="474.0,173.1 474.6,142.4 475.2,90.4 475.8,128.5 476.4,131.2" stroke="#3182bd"/>
<polyline points="600.5,193.7 601.1,105.9 601.7,89.6 602.2,89.6 602.8,89.6" stroke="#969696"/>
<polyline points="532.6,157.4 533.2,213.9 533.7,143.4 534.3,117.3 534.9,96.7" stroke="#e6550d"/>
<polyline points="476.4,146.1 477.0,153.9 477.5,157.2 478.1,96.5 478.7,151.9" stroke="#6baed6"/>
<polyline points="520.9,89.9 521.4,74.1 522.0,180.5 522.6,93.2 523.2,153.3" stroke="#969696"/>
<polyline points="523.2,174.7 523.8,119.7 524.4,249.3 525.0,131.7 525.5,82.4" stroke="#bdbdbd"/>
<polyline points="530.2,174.5 530.8,74.3 531.4,145.0 532.0,112.0 532.6,72.4" stroke="#6baed6"/>
<polyline points="511.5,115.1 512.1,114.6 512.7,92.0 513.3,92.9 513.8,129.4" stroke="#3182bd"/>
<polyline points="438.9,98.9 439.5,91.2 440.1,252.9 440.7,120.5 441.2,183.8" stroke="#bdbdbd"/>
<polyline points="593.5,165.6 594.1,89.7 594.6,111.0 595.2,140.9 595.8,82.7" stroke="#6baed6"/>
<polyline points="462.3,64.6 462.9,171.3 463.5,118.7 464.1,157.8 464.7,102.8" stroke="#9ecae1"/>
<polyline points="549.0,115.2 549.6,105.8 550.1,185.3 550.7,185.3 551.3,177.0" stroke="#9ecae1"/>
<polyline points="523.2,135.2 523.8,85.1 524.4,148.8 525.0,100.3 525.5,178.6" stroke="#9ecae1"/>
<polyline points="436.6,126.9 437.1,122.2 437.7,132.2 438.3,195.2 438.9,112.4" stroke="#636363"/>
<polyline points="445.9,115.3 446.5,139.1 447.1,138.3 447.7,96.9 448.3,96.9" stroke="#9ecae1"/>
<polyline points="584.1,126.7 584.7,126.7 585.3,194.6 585.9,113.7 586.4,113.7" stroke="#636363"/>
<polyline points="476.4,153.5 477.0,108.9 477.5,169.2 478.1,93.3 478.7,180.9" stroke="#969696"/>
<polyline points="645.0,178.0 645.6,75.7 646.2,105.9 646.7,102.3 647.3,195.6" stroke="#6baed6"/>
<polyline points="499.8,272.1 500.4,117.2 501.0,108.0 501.5,254.9 502.1,265.5" stroke="#3182bd"/>
<polyline points="563.0,97.8 563.6,188.3 564.2,239.1 564.8,122.1 565.4,174.0" stroke="#e6550d"/>
<polyline points="511.5,115.3 512.1,115.3 512.7,120.8 513.3,117.0 513.8,173.9" stroke="#9ecae1"/>
<polyline points="546.6,144.5 547.2,144.5 547.8,83.9 548.4,133.1 549.0,115.2" stroke="#9ecae1"/>
<polyline points="579.4,160.0 580.0,160.0 580.6,110.1 581.2,187.6 581.8,128.8" stroke="#6baed6"/>
<polyline points="518.5,130.7 519.1,134.4 519.7,147.6 520.3,201.9 520.9,89.9" stroke="#969696"/>
<polyline points="652.0,149.1 652.6,149.1 653.2,67.0 653.8,152.8 654.4,183.8" stroke="#bdbdbd"/>
<polyline points="422.5,234.5 423.1,182.2 423.7,219.7 424.3,290.5 424.8,207.3" stroke="#e6550d"/>
<polyline points="455.3,133.5 455.9,133.5 456.5,133.5 457.0,133.5 457.6,112.3" stroke="#bdbdbd"/>
<polyline points="614.5,112.0 615.1,112.0 615.7,112.0 616.3,78.9 616.9,176.5" stroke="#969696"/>
<polyline points="549.0,134.0 549.6,91.1 550.1,101.8 550.7,141.2 551.3,206.1" stroke="#6baed6"/>
<polyline points="450.6,120.5 451.2,120.5 451.8,96.7 452.4,173.9 452.9,107.9" stroke="#e6550d"/>
<polyline points="600.5,101.6 601.1,110.1 601.7,157.6 602.2,157.6 602.8,137.7" stroke="#636363"/>
<polyline points="602.8,71.2 603.4,154.8 604.0,104.0 604.6,92.1 605.2,131.9" stroke="#3182bd"/>
<polyline points="602.8,116.8 603.4,167.6 604.0,131.0 604.6,91.6 605.2,124.6" stroke="#bdbdbd"/>
<polyline points="460.0,120.0 460.6,182.1 461.1,117.5 461.7,103.0 462.3,178.9" stroke="#bdbdbd"/>
<polyline points="506.8,135.0 507.4,135.0 508.0,150.8 508.6,144.6 509.2,149.0" stroke="#e6550d"/>
<polyline points="567.7,131.6 568.3,131.6 568.9,101.8 569.5,123.7 570.0,123.7" stroke="#fd8d3c"/>
<polyline points="438.9,79.4 439.5,250.2 440.1,250.2 440.7,79.0 441.2,152.5" stroke="#3182bd"/>
<polyline points="476.4,182.7 477.0,118.8 477.5,172.9 478.1,101.8 478.7,163.6" stroke="#6baed6"/>
<polyline points="516.2,150.8 516.8,94.4 517.4,180.2 517.9,130.7 518.5,130.7" stroke="#969696"/>
<polyline points="539.6,182.5 540.2,182.5 540.8,217.6 541.4,109.6 541.9,178.5" stroke="#6baed6"/>
<polyline points="431.9,246.9 432.5,172.8 433.0,190.2 433.6,186.7 434.2,151.0" stroke="#636363"/>
<polyline points="570.0,135.5 570.6,93.8 571.2,149.3 571.8,114.8 572.4,142.0" stroke="#fdae6b"/>
<polyline points="518.5,151.8 519.1,97.2 519.7,97.2 520.3,144.5 520.9,144.5" stroke="#fdae6b"/>
<polyline points="537.3,165.8 537.8,220.8 538.4,111.4 539.0,147.3 539.6,60.6" stroke="#fd8d3c"/>
<polyline points="467.0,157.9 467.6,122.6 468.2,115.4 468.8,73.9 469.3,119.1" stroke="#fdae6b"/>
<polyline points="579.4,192.2 580.0,80.8 580.6,177.9 581.2,143.7 581.8,135.5" stroke="#9ecae1"/>
<polyline points="541.9,96.7 542.5,119.1 543.1,71.8 543.7,80.0 544.3,138.7" stroke="#fd8d3c"/>
<polyline points="612.2,133.5 612.8,133.5 613.4,180.9 614.0,180.9 614.5,112.0" stroke="#969696"/>
<polyline points="462.3,209.4 462.9,112.6 463.5,109.0 464.1,109.0 464.7,163.5" stroke="#3182bd"/>
<polyline points="584.1,143.0 584.7,116.2 585.3,68.4 585.9,150.1 586.4,100.9" stroke="#3182bd"/>
<polyline points="598.1,111.0 598.7,155.7 599.3,166.5 599.9,101.6 600.5,101.6" stroke="#636363"/>
<polyline points="656.7,125.4 659.6,40.3" stroke="#6baed6"/>
<polyline points="483.4,130.4 484.0,204.7 484.6,108.9 485.1,108.9 485.7,182.1" stroke="#fd8d3c"/>
<polyline points="511.5,178.4 512.1,108.1 512.7,102.7 513.3,102.7 513.8,175.4" stroke="#fd8d3c"/>
<polyline points="424.8,103.0 425.4,237.9 426.0,88.9 426.6,138.1 427.2,133.2" stroke="#3182bd"/>
<polyline points="525.5,100.9 526.1,113.1 526.7,64.9 527.3,123.7 527.9,123.7" stroke="#e6550d"/>
<polyline points="455.3,147.8 455.9,147.8 456.5,123.2 457.0,154.9 457.6,125.3" stroke="#6baed6"/>
<polyline points="551.3,126.6 551.9,59.3 552.5,127.5 553.1,100.8 553.7,145.0" stroke="#fdae6b"/>
<polyline points="560.7,144.8 561.3,92.5 561.8,93.0 562.4,179.2 563.0,179.2" stroke="#969696"/>
<polyline points="623.9,111.1 624.5,169.7 625.1,88.0 625.7,88.0 626.3,87.6" stroke="#3182bd"/>
<polyline points="619.2,137.3 619.8,116.2 620.4,196.7 621.0,156.3 621.6,147.2" stroke="#fd8d3c"/>
<polyline points="577.1,123.5 577.7,106.9 578.2,116.0 578.8,154.3 579.4,98.0" stroke="#fdae6b"/>
<polyline points="525.5,117.1 526.1,164.9 526.7,115.3 527.3,158.8 527.9,194.8" stroke="#969696"/>
<polyline points="593.5,160.3 594.1,79.0 594.6,79.0 595.2,163.2 595.8,125.4" stroke="#969696"/>
<polyline points="570.0,184.1 570.6,177.3 571.2,202.4 571.8,96.3 572.4,136.4" stroke="#636363"/>
<polyline points="656.7,91.6 659.6,40.3" stroke="#636363"/>
<polyline points="605.2,131.9 605.8,179.6 606.3,122.1 606.9,154.6 607.5,154.6" stroke="#3182bd"/>
<polyline points="633.3,144.9 633.9,127.0 634.5,152.6 635.0,177.7 635.6,158.8" stroke="#e6550d"/>
<polyline points="574.7,142.2 575.3,96.8 575.9,66.6 576.5,122.7 577.1,196.0" stroke="#3182bd"/>
<polyline points="527.9,123.7 528.5,121.2 529.1,121.2 529.6,154.9 530.2,154.9" stroke="#e6550d"/>
<polyline points="556.0,260.6 556.6,86.9 557.2,179.8 557.8,141.3 558.3,72.3" stroke="#3182bd"/>
<polyline points="469.3,122.7 469.9,119.6 470.5,119.6 471.1,170.5 471.7,101.9" stroke="#636363"/>
<polyline points="532.6,129.3 533.2,82.3 533.7,120.2 534.3,127.9 534.9,168.4" stroke="#fd8d3c"/>
<polyline points="616.9,91.6 617.5,185.5 618.1,90.3 618.6,103.4 619.2,85.3" stroke="#3182bd"/>
<polyline points="525.5,82.4 526.1,108.4 526.7,108.4 527.3,99.8 527.9,129.5" stroke="#bdbdbd"/>
<polyline points="581.8,128.8 582.3,73.3 582.9,127.5 583.5,127.5 584.1,142.2" stroke="#6baed6"/>
<polyline points="556.0,100.7 556.6,121.2 557.2,137.3 557.8,132.3 558.3,132.3" stroke="#e6550d"/>
<polyline points="591.1,113.1 591.7,65.5 592.3,65.5 592.9,65.5 593.5,103.7" stroke="#636363"/>
<polyline points="614.5,120.6 615.1,143.0 615.7,129.7 616.3,58.5 616.9,58.5" stroke="#fdae6b"/>
<polyline points="513.8,76.0 514.4,91.8 515.0,124.7 515.6,135.0 516.2,160.5" stroke="#6baed6"/>
<polyline points="527.9,107.4 528.5,155.2 529.1,88.3 529.6,70.3 530.2,141.1" stroke="#fd8d3c"/>
<polyline points="591.1,89.1 591.7,89.3 592.3,171.2 592.9,171.2 593.5,138.0" stroke="#6baed6"/>
<polyline points="551.3,67.3 551.9,195.4 552.5,68.5 553.1,110.5 553.7,103.0" stroke="#969696"/>
<polyline points="630.9,138.4 631.5,111.5 632.1,111.5 632.7,99.8 633.3,99.8" stroke="#3182bd"/>
<polyline points="541.9,210.6 542.5,210.6 543.1,82.3 543.7,98.8 544.3,156.1" stroke="#969696"/>
<polyline points="553.7,117.6 554.2,127.1 554.8,100.8 555.4,139.9 556.0,143.4" stroke="#3182bd"/>
<polyline points="586.4,83.6 587.0,125.4 587.6,123.4 588.2,112.1 588.8,109.3" stroke="#fd8d3c"/>
<polyline points="645.0,179.8 645.6,80.9 646.2,95.3 646.7,95.3 647.3,140.0" stroke="#fd8d3c"/>
<polyline points="467.0,69.0 467.6,202.5 468.2,155.3 468.8,97.3 469.3,151.7" stroke="#3182bd"/>
<polyline points="549.0,155.8 549.6,106.2 550.1,67.1 550.7,142.1 551.3,142.1" stroke="#e6550d"/>
<polyline points="638.0,114.5 638.5,139.3 639.1,139.3 639.7,139.3 640.3,151.6" stroke="#969696"/>
<polyline points="502.1,162.4 502.7,197.6 503.3,142.5 503.9,105.4 504.5,88.1" stroke="#969696"/>
<polyline points="551.3,177.0 551.9,177.0 552.5,177.0 553.1,177.0 553.7,161.2" stroke="#9ecae1"/>
<polyline points="588.8,62.7 589.4,98.3 590.0,98.3 590.5,142.5 591.1,113.1" stroke="#636363"/>
<polyline points="516.2,104.6 516.8,104.6 517.4,135.4 517.9,147.3 518.5,147.3" stroke="#9ecae1"/>
<polyline points="581.8,110.1 582.3,110.1 582.9,109.0 583.5,147.1 584.1,106.9" stroke="#fdae6b"/>
<polyline points="481.1,140.6 481.6,81.8 482.2,233.3 482.8,88.1 483.4,156.3" stroke="#3182bd"/>
<polyline points="460.0,136.9 460.6,96.3 461.1,96.3 461.7,162.0 462.3,152.2" stroke="#6baed6"/>
<polyline points="427.2,103.0 427.8,103.0 428.4,186.0 428.9,99.8 429.5,207.4" stroke="#6baed6"/>
<polyline points="591.1,52.6 591.7,52.6 592.3,139.7 592.9,160.3 593.5,160.3" stroke="#969696"/>
<polyline points="495.1,126.9 495.7,128.5 496.3,175.7 496.9,158.9 497.4,109.6" stroke="#e6550d"/>
<polyline points="537.3,115.1 537.8,115.1 538.4,159.6 539.0,143.7 539.6,141.2" stroke="#3182bd"/>
<polyline points="588.8,101.9 589.4,95.2 590.0,125.4 590.5,146.0 591.1,173.2" stroke="#fdae6b"/>
<polyline points="523.2,153.3 523.8,99.3 524.4,173.6 525.0,117.1 525.5,117.1" stroke="#969696"/>
<polyline points="532.6,72.4 533.2,130.0 533.7,120.1 534.3,152.5 534.9,186.0" stroke="#6baed6"/>
<polyline points="427.2,171.1 427.8,205.9 428.4,198.4 428.9,276.0 429.5,319.4" stroke="#fd8d3c"/>
<polyline points="530.2,128.8 530.8,128.8 531.4,110.2 532.0,110.2 532.6,190.8" stroke="#9ecae1"/>
<polyline points="523.2,166.6 523.8,83.6 524.4,83.6 525.0,108.1 525.5,151.0" stroke="#6baed6"/>
<polyline points="445.9,80.8 446.5,155.4 447.1,239.4 447.7,239.4 448.3,120.6" stroke="#fd8d3c"/>
<polyline points="443.6,185.6 444.2,116.3 444.7,278.4 445.3,278.4 445.9,115.3" stroke="#9ecae1"/>
<polyline points="605.2,158.9 605.8,103.6 606.3,141.8 606.9,231.8 607.5,231.8" stroke="#fd8d3c"/>
<polyline points="633.3,140.3 633.9,97.1 634.5,175.4 635.0,120.2 635.6,129.6" stroke="#6baed6"/>
<polyline points="579.4,153.0 580.0,153.0 580.6,118.2 581.2,106.6 581.8,115.3" stroke="#3182bd"/>
<polyline points="539.6,124.3 540.2,144.3 540.8,128.4 541.4,93.8 541.9,125.2" stroke="#969696"/>
<polyline points="609.9,165.1 610.4,164.1 611.0,100.8 611.6,242.8 612.2,125.5" stroke="#6baed6"/>
<polyline points="504.5,109.1 505.1,109.1 505.6,109.1 506.2,109.1 506.8,93.8" stroke="#6baed6"/>
<polyline points="504.5,103.3 505.1,91.4 505.6,159.8 506.2,153.5 506.8,116.2" stroke="#9ecae1"/>
<polyline points="539.6,83.4 540.2,92.4 540.8,156.9 541.4,198.1 541.9,198.1" stroke="#bdbdbd"/>
<polyline points="464.7,137.4 465.2,110.6 465.8,123.6 466.4,215.7 467.0,215.7" stroke="#969696"/>
<polyline points="560.7,105.7 561.3,208.5 561.8,116.7 562.4,93.9 563.0,91.0" stroke="#6baed6"/>
<polyline points="525.5,110.3 526.1,151.8 526.7,180.8 527.3,178.8 527.9,131.0" stroke="#636363"/>
<polyline points="460.0,157.6 460.6,91.7 461.1,142.2 461.7,301.1 462.3,301.1" stroke="#e6550d"/>
<polyline points="504.5,91.1 505.1,122.5 505.6,128.7 506.2,105.9 506.8,74.6" stroke="#969696"/>
<polyline points="595.8,69.6 596.4,161.1 597.0,161.1 597.6,154.3 598.1,57.1" stroke="#fdae6b"/>
<polyline points="520.9,176.1 521.4,106.4 522.0,168.9 522.6,137.1 523.2,107.7" stroke="#636363"/>
<polyline points="649.7,134.2 650.3,126.8 650.8,97.3 651.4,97.3 652.0,156.3" stroke="#fd8d3c"/>
<polyline points="586.4,100.9 587.0,170.5 587.6,75.9 588.2,57.5 588.8,107.1" stroke="#3182bd"/>
<polyline points="565.4,126.9 565.9,60.7 566.5,106.2 567.1,80.4 567.7,202.4" stroke="#6baed6"/>
<polyline points="581.8,159.2 582.3,118.9 582.9,92.5 583.5,96.4 584.1,150.5" stroke="#6baed6"/>
<polyline points="616.9,109.5 617.5,127.0 618.1,153.6 618.6,135.5 619.2,112.7" stroke="#636363"/>
<polyline points="485.7,130.7 486.3,144.7 486.9,95.0 487.5,203.5 488.1,109.3" stroke="#bdbdbd"/>
<polyline points="469.3,154.2 469.9,154.2 470.5,66.4 471.1,182.1 471.7,182.1" stroke="#e6550d"/>
<polyline points="612.2,73.6 612.8,79.5 613.4,62.1 614.0,89.3 614.5,152.6" stroke="#bdbdbd"/>
<polyline points="616.9,116.1 617.5,139.1 618.1,214.8 618.6,146.6 619.2,90.7" stroke="#3182bd"/>
<polyline points="602.8,181.0 603.4,113.5 604.0,193.1 604.6,170.0 605.2,170.0" stroke="#6baed6"/>
<polyline points="628.6,82.1 629.2,82.1 629.8,54.9 630.4,197.4 630.9,138.4" stroke="#3182bd"/>
<polyline points="462.3,108.3 462.9,175.3 463.5,148.1 464.1,118.7 464.7,161.1" stroke="#fdae6b"/>
<polyline points="556.0,103.3 556.6,126.5 557.2,167.2 557.8,160.4 558.3,161.3" stroke="#9ecae1"/>
<polyline points="630.9,195.3 631.5,95.9 632.1,137.6 632.7,117.2 633.3,137.2" stroke="#969696"/>
<polyline points="537.3,175.9 537.8,98.1 538.4,155.2 539.0,162.8 539.6,162.8" stroke="#969696"/>
<polyline points="654.4,113.5 654.9,113.5 655.5,113.5 656.1,113.5 656.7,49.6" stroke="#3182bd"/>
<polyline points="598.1,116.9 598.7,106.8 599.3,170.9 599.9,157.3 600.5,117.0" stroke="#3182bd"/>
<polyline points="429.5,120.9 430.1,120.9 430.7,125.5 431.3,125.5 431.9,246.9" stroke="#636363"/>
<polyline points="565.4,314.6 565.9,186.6 566.5,186.6 567.1,115.9 567.7,109.1" stroke="#969696"/>
<polyline points="481.1,211.7 481.6,154.9 482.2,136.6 482.8,155.9 483.4,91.9" stroke="#bdbdbd"/>
<polyline points="633.3,99.8 633.9,155.0 634.5,141.7 635.0,271.7 635.6,85.3" stroke="#3182bd"/>
<polyline points="429.5,142.9 430.1,243.1 430.7,179.4 431.3,196.1 431.9,271.5" stroke="#bdbdbd"/>
<polyline points="539.6,140.3 540.2,81.2 540.8,90.4 541.4,90.4 541.9,134.6" stroke="#fdae6b"/>
<polyline points="509.2,151.6 509.7,151.6 510.3,151.6 510.9,108.1 511.5,115.1" stroke="#3182bd"/>
<polyline points="520.9,121.9 521.4,75.3 522.0,99.9 522.6,136.1 523.2,166.6" stroke="#6baed6"/>
<polyline points="609.9,111.2 610.4,183.5 611.0,183.5 611.6,183.5 612.2,183.5" stroke="#3182bd"/>
<polyline points="626.3,61.1 626.8,176.5 627.4,167.1 628.0,167.1 628.6,125.7" stroke="#636363"/>
<polyline points="546.6,107.8 547.2,83.3 547.8,133.2 548.4,96.9 549.0,131.4" stroke="#969696"/>
<polyline points="649.7,71.5 650.3,108.0 650.8,99.1 651.4,171.6 652.0,139.4" stroke="#969696"/>
<polyline points="584.1,145.2 584.7,172.3 585.3,82.8 585.9,136.6 586.4,149.8" stroke="#bdbdbd"/>
<polyline points="464.7,153.4 465.2,152.3 465.8,159.1 466.4,229.0 467.0,229.0" stroke="#e6550d"/>
<polyline points="469.3,92.6 469.9,127.3 470.5,87.6 471.1,86.8 471.7,66.4" stroke="#969696"/>
<polyline points="499.8,135.3 500.4,87.6 501.0,134.4 501.5,147.2 502.1,95.8" stroke="#969696"/>
<polyline points="483.4,91.9 484.0,100.7 484.6,134.9 485.1,82.7 485.7,130.7" stroke="#bdbdbd"/>
<polyline points="633.3,137.2 633.9,128.6 634.5,128.6 635.0,136.4 635.6,80.8" stroke="#969696"/>
<polyline points="478.7,195.0 479.3,67.4 479.9,99.0 480.5,192.5 481.1,140.6" stroke="#3182bd"/>
<polyline points="546.6,142.5 547.2,95.6 547.8,95.6 548.4,78.9 549.0,108.5" stroke="#3182bd"/>
<polyline points="438.9,77.9 439.5,149.3 440.1,88.9 440.7,136.0 441.2,136.0" stroke="#969696"/>
<polyline points="584.1,74.4 584.7,136.4 585.3,65.1 585.9,138.9 586.4,109.6" stroke="#969696"/>
<polyline points="600.5,117.0 601.1,106.5 601.7,121.8 602.2,135.2 602.8,71.2" stroke="#3182bd"/>
<polyline points="649.7,196.0 650.3,145.7 650.8,153.4 651.4,121.5 652.0,109.0" stroke="#e6550d"/>
<polyline points="495.1,171.2 495.7,126.2 496.3,174.5 496.9,83.5 497.4,112.4" stroke="#9ecae1"/>
<polyline points="567.7,200.4 568.3,148.2 568.9,114.4 569.5,104.7 570.0,129.3" stroke="#9ecae1"/>
<polyline points="469.3,108.5 469.9,64.2 470.5,64.2 471.1,98.4 471.7,120.4" stroke="#3182bd"/>
<polyline points="572.4,136.4 573.0,196.8 573.6,97.4 574.1,175.3 574.7,107.7" stroke="#636363"/>
<polyline points="647.3,170.4 647.9,113.7 648.5,144.6 649.1,144.6 649.7,144.6" stroke="#3182bd"/>
<polyline points="635.6,107.5 636.2,106.4 636.8,200.2 637.4,184.9 638.0,114.5" stroke="#9ecae1"/>
<polyline points="471.7,116.5 472.3,131.0 472.9,130.9 473.4,130.9 474.0,101.8" stroke="#6baed6"/>
<polyline points="509.2,204.6 509.7,204.6 510.3,108.4 510.9,168.1 511.5,103.4" stroke="#bdbdbd"/>
<polyline points="595.8,188.8 596.4,84.7 597.0,111.6 597.6,126.3 598.1,126.3" stroke="#9ecae1"/>
<polyline points="605.2,85.8 605.8,93.4 606.3,94.7 606.9,94.7 607.5,106.7" stroke="#9ecae1"/>
<polyline points="570.0,89.8 570.6,89.8 571.2,65.2 571.8,100.5 572.4,100.5" stroke="#969696"/>
<polyline points="556.0,101.8 556.6,116.9 557.2,303.4 557.8,203.3 558.3,126.2" stroke="#969696"/>
<polyline points="422.5,308.5 423.1,127.4 423.7,240.2 424.3,259.7 424.8,168.4" stroke="#969696"/>
<polyline points="546.6,100.5 547.2,66.5 547.8,143.5 548.4,143.5 549.0,140.3" stroke="#636363"/>
<polyline points="431.9,207.6 432.5,228.8 433.0,170.7 433.6,170.7 434.2,150.1" stroke="#e6550d"/>
<polyline points="478.7,225.2 479.3,124.0 479.9,163.3 480.5,107.3 481.1,171.7" stroke="#9ecae1"/>
<polyline points="450.6,123.0 451.2,123.0 451.8,92.8 452.4,141.0 452.9,91.1" stroke="#3182bd"/>
<polyline points="427.2,133.2 427.8,197.1 428.4,207.9 428.9,161.8 429.5,219.9" stroke="#3182bd"/>
<polyline points="441.2,106.3 441.8,149.1 442.4,129.9 443.0,128.6 443.6,72.1" stroke="#e6550d"/>
<polyline points="600.5,138.7 601.1,138.7 601.7,136.3 602.2,136.3 602.8,136.3" stroke="#9ecae1"/>
<polyline points="647.3,114.4 647.9,170.0 648.5,182.3 649.1,141.9 649.7,73.7" stroke="#636363"/>
<polyline points="509.2,113.5 509.7,207.6 510.3,105.3 510.9,105.3 511.5,178.4" stroke="#fd8d3c"/>
<polyline points="438.9,223.5 439.5,128.1 440.1,128.1 440.7,224.4 441.2,110.3" stroke="#fd8d3c"/>
<polyline points="574.7,169.2 575.3,66.6 575.9,94.6 576.5,94.6 577.1,160.6" stroke="#6baed6"/>
<polyline points="640.3,164.9 640.9,319.4 641.5,319.4 642.1,185.1 642.6,83.5" stroke="#9ecae1"/>
<polyline points="481.1,94.9 481.6,182.4 482.2,152.2 482.8,192.2 483.4,192.2" stroke="#969696"/>
<polyline points="560.7,222.8 561.3,110.5 561.8,67.3 562.4,157.8 563.0,84.9" stroke="#bdbdbd"/>
<polyline points="502.1,99.9 502.7,131.7 503.3,106.7 503.9,146.6 504.5,133.3" stroke="#3182bd"/>
<polyline points="422.5,264.8 423.1,257.5 423.7,176.8 424.3,135.4 424.8,283.8" stroke="#969696"/>
<polyline points="441.2,111.4 441.8,97.8 442.4,126.1 443.0,221.2 443.6,59.9" stroke="#6baed6"/>
<polyline points="532.6,114.8 533.2,155.0 533.7,176.7 534.3,176.7 534.9,176.7" stroke="#6baed6"/>
<polyline points="577.1,160.6 577.7,166.2 578.2,83.8 578.8,94.2 579.4,160.0" stroke="#6baed6"/>
<polyline points="422.5,195.8 423.1,313.6 423.7,219.8 424.3,301.4 424.8,103.0" stroke="#3182bd"/>
<polyline points="534.9,71.1 535.5,101.3 536.1,108.1 536.7,81.7 537.3,180.5" stroke="#fdae6b"/>
<polyline points="640.3,146.1 640.9,179.8 641.5,102.6 642.1,102.6 642.6,154.1" stroke="#bdbdbd"/>
<polyline points="645.0,256.6 645.6,96.8 646.2,90.2 646.7,162.1 647.3,167.7" stroke="#3182bd"/>
<polyline points="544.3,156.1 544.9,156.1 545.5,147.6 546.0,133.1 546.6,120.2" stroke="#969696"/>
<polyline points="455.3,67.0 455.9,125.5 456.5,140.1 457.0,162.8 457.6,202.5" stroke="#6baed6"/>
<polyline points="544.3,132.8 544.9,107.9 545.5,153.9 546.0,113.2 546.6,64.7" stroke="#3182bd"/>
<polyline points="551.3,155.8 551.9,155.8 552.5,90.2 553.1,100.5 553.7,102.0" stroke="#bdbdbd"/>
<polyline points="602.8,97.9 603.4,97.9 604.0,72.8 604.6,74.0 605.2,97.9" stroke="#3182bd"/>
<polyline points="443.6,132.5 444.2,212.8 444.7,107.8 445.3,107.8 445.9,107.8" stroke="#636363"/>
<polyline points="600.5,121.4 601.1,232.5 601.7,103.4 602.2,91.8 602.8,133.5" stroke="#fdae6b"/>
<polyline points="532.6,77.6 533.2,164.9 533.7,82.8 534.3,177.0 534.9,136.0" stroke="#bdbdbd"/>
<polyline points="513.8,103.4 514.4,138.2 515.0,138.2 515.6,129.3 516.2,129.3" stroke="#bdbdbd"/>
<polyline points="490.4,107.3 491.0,202.5 491.6,202.5 492.2,152.5 492.8,152.5" stroke="#636363"/>
<polyline points="595.8,98.0 596.4,139.7 597.0,106.3 597.6,106.3 598.1,112.8" stroke="#bdbdbd"/>
<polyline points="434.2,319.4 434.8,145.5 435.4,168.7 436.0,272.3 436.6,91.1" stroke="#9ecae1"/>
<polyline points="570.0,156.6 570.6,90.1 571.2,123.8 571.8,126.4 572.4,104.8" stroke="#bdbdbd"/>
<polyline points="579.4,127.8 580.0,165.1 580.6,164.3 581.2,144.7 581.8,128.3" stroke="#969696"/>
<polyline points="602.8,160.5 603.4,99.3 604.0,80.9 604.6,160.4 605.2,319.4" stroke="#e6550d"/>
<polyline points="635.6,100.6 636.2,76.8 636.8,76.8 637.4,69.3 638.0,87.3" stroke="#fd8d3c"/>
<polyline points="640.3,141.1 640.9,141.1 641.5,61.7 642.1,61.7 642.6,165.3" stroke="#e6550d"/>
<polyline points="532.6,106.5 533.2,154.4 533.7,191.1 534.3,191.1 534.9,118.0" stroke="#969696"/>
<polyline points="609.9,155.3 610.4,120.5 611.0,74.6 611.6,110.1 612.2,67.8" stroke="#fd8d3c"/>
<polyline points="640.3,95.0 640.9,136.3 641.5,95.6 642.1,146.4 642.6,88.7" stroke="#fd8d3c"/>
<polyline points="502.1,137.3 502.7,175.2 503.3,97.7 503.9,97.7 504.5,111.4" stroke="#e6550d"/>
<polyline points="549.0,98.3 549.6,80.2 550.1,130.2 550.7,130.2 551.3,126.6" stroke="#fdae6b"/>
<polyline points="584.1,124.3 584.7,159.1 585.3,109.9 585.9,89.8 586.4,163.2" stroke="#9ecae1"/>
<polyline points="544.3,288.0 544.9,302.6 545.5,139.2 546.0,153.9 546.6,148.3" stroke="#6baed6"/>
<polyline points="457.6,175.5 458.2,72.2 458.8,208.8 459.4,75.1 460.0,128.3" stroke="#fd8d3c"/>
<polyline points="492.8,134.9 493.3,134.9 493.9,134.9 494.5,109.6 495.1,126.7" stroke="#3182bd"/>
<polyline points="497.4,130.7 498.0,126.9 498.6,121.3 499.2,119.2 499.8,107.3" stroke="#fdae6b"/>
<polyline points="572.4,94.0 573.0,107.1 573.6,102.4 574.1,206.0 574.7,138.1" stroke="#e6550d"/>
<polyline points="436.6,171.9 437.1,190.4 437.7,136.3 438.3,223.5 438.9,223.5" stroke="#fd8d3c"/>
<polyline points="607.5,231.8 608.1,231.8 608.7,95.9 609.3,152.0 609.9,155.3" stroke="#fd8d3c"/>
<polyline points="478.7,110.5 479.3,86.3 479.9,153.7 480.5,88.6 481.1,94.9" stroke="#969696"/>
<polyline points="645.0,74.0 645.6,74.0 646.2,122.8 646.7,93.3 647.3,114.4" stroke="#636363"/>
<polyline points="424.8,207.3 425.4,207.3 426.0,146.6 426.6,131.3 427.2,145.3" stroke="#e6550d"/>
<polyline points="577.1,92.1 577.7,136.7 578.2,136.7 578.8,101.7 579.4,101.8" stroke="#e6550d"/>
<polyline points="474.0,113.8 474.6,163.8 475.2,129.2 475.8,247.8 476.4,247.8" stroke="#fd8d3c"/>
<polyline points="567.7,59.6 568.3,198.9 568.9,143.5 569.5,228.1 570.0,210.1" stroke="#e6550d"/>
<polyline points="431.9,86.0 432.5,115.7 433.0,162.2 433.6,147.8 434.2,164.5" stroke="#3182bd"/>
<polyline points="654.4,131.9 654.9,103.0 655.5,103.0 656.1,257.7 656.7,239.5" stroke="#e6550d"/>
<polyline points="490.4,131.1 491.0,102.9 491.6,108.0 492.2,64.0 492.8,168.9" stroke="#e6550d"/>
<polyline points="513.8,175.4 514.4,175.4 515.0,136.5 515.6,183.1 516.2,115.7" stroke="#fd8d3c"/>
<polyline points="450.6,174.1 451.2,62.6 451.8,144.3 452.4,144.3 452.9,136.2" stroke="#3182bd"/>
<polyline points="450.6,94.2 451.2,107.6 451.8,135.6 452.4,199.4 452.9,87.2" stroke="#9ecae1"/>
<polyline points="457.6,135.6 458.2,75.9 458.8,99.8 459.4,70.2 460.0,205.7" stroke="#969696"/>
<polyline points="616.9,128.0 617.5,65.9 618.1,209.8 618.6,75.4 619.2,95.2" stroke="#6baed6"/>
<polyline points="598.1,76.0 598.7,83.2 599.3,173.6 599.9,84.6 600.5,193.7" stroke="#969696"/>
<polyline points="457.6,144.8 458.2,91.7 458.8,181.1 459.4,177.7 460.0,173.1" stroke="#3182bd"/>
<polyline points="474.0,90.5 474.6,121.7 475.2,169.1 475.8,207.0 476.4,167.7" stroke="#636363"/>
<polyline points="541.9,114.6 542.5,180.9 543.1,100.4 543.7,100.4 544.3,100.4" stroke="#e6550d"/>
<polyline points="534.9,193.5 535.5,124.7 536.1,143.2 536.7,154.9 537.3,154.9" stroke="#3182bd"/>
<polyline points="518.5,93.1 519.1,93.1 519.7,107.9 520.3,131.8 520.9,132.2" stroke="#6baed6"/>
<polyline points="581.8,128.3 582.3,194.5 582.9,83.0 583.5,189.3 584.1,173.5" stroke="#969696"/>
<polyline points="591.1,116.5 591.7,149.9 592.3,126.7 592.9,119.6 593.5,63.2" stroke="#bdbdbd"/>
<polyline points="635.6,190.4 636.2,171.8 636.8,64.2 637.4,155.9 638.0,144.7" stroke="#636363"/>
<polyline points="647.3,133.8 647.9,203.2 648.5,203.2 649.1,181.7 649.7,126.3" stroke="#fdae6b"/>
<polyline points="478.7,163.6 479.3,91.8 479.9,201.1 480.5,160.1 481.1,115.9" stroke="#6baed6"/>
<polyline points="485.7,182.1 486.3,183.9 486.9,120.7 487.5,159.7 488.1,238.3" stroke="#fd8d3c"/>
<polyline points="483.4,157.1 484.0,104.4 484.6,78.9 485.1,78.9 485.7,138.6" stroke="#3182bd"/>
<polyline points="509.2,92.5 509.7,92.5 510.3,98.4 510.9,117.5 511.5,170.1" stroke="#fdae6b"/>
<polyline points="504.5,191.9 505.1,67.9 505.6,81.4 506.2,125.9 506.8,62.6" stroke="#636363"/>
<polyline points="424.8,268.2 425.4,251.0 426.0,251.0 426.6,143.7 427.2,254.8" stroke="#636363"/>
<polyline points="471.7,101.9 472.3,96.2 472.9,173.9 473.4,173.9 474.0,90.5" stroke="#636363"/>
<polyline points="607.5,154.6 608.1,92.8 608.7,86.1 609.3,132.3 609.9,141.1" stroke="#3182bd"/>
<polyline points="506.8,113.6 507.4,72.5 508.0,58.5 508.6,81.4 509.2,151.6" stroke="#3182bd"/>
<polyline points="434.2,319.4 434.8,89.3 435.4,183.9 436.0,172.4 436.6,171.9" stroke="#fd8d3c"/>
<polyline points="635.6,85.3 636.2,131.2 636.8,104.6 637.4,190.2 638.0,94.3" stroke="#3182bd"/>
<polyline points="553.7,178.3 554.2,134.6 554.8,86.7 555.4,119.1 556.0,141.9" stroke="#6baed6"/>
<polyline points="476.4,91.5 477.0,92.8 477.5,174.6 478.1,175.2 478.7,110.5" stroke="#969696"/>
<polyline points="537.3,98.3 537.8,203.7 538.4,203.7 539.0,83.4 539.6,83.4" stroke="#bdbdbd"/>
<polyline points="474.0,255.8 474.6,90.1 475.2,126.1 475.8,130.7 476.4,146.1" stroke="#6baed6"/>
<polyline points="556.0,174.8 556.6,133.0 557.2,83.2 557.8,81.4 558.3,166.9" stroke="#fd8d3c"/>
<polyline points="506.8,137.2 507.4,95.2 508.0,95.2 508.6,106.1 509.2,138.4" stroke="#3182bd"/>
<polyline points="602.8,136.3 603.4,114.8 604.0,114.8 604.6,106.4 605.2,85.8" stroke="#9ecae1"/>
<polyline points="509.2,104.7 509.7,167.0 510.3,156.3 510.9,234.6 511.5,102.6" stroke="#969696"/>
<polyline points="551.3,145.3 551.9,133.0 552.5,205.6 553.1,205.6 553.7,219.1" stroke="#6baed6"/>
<polyline points="612.2,142.4 612.8,185.5 613.4,185.5 614.0,94.8 614.5,49.5" stroke="#636363"/>
<polyline points="609.9,93.5 610.4,105.3 611.0,98.3 611.6,164.4 612.2,73.6" stroke="#bdbdbd"/>
<polyline points="626.3,87.6 626.8,136.3 627.4,180.0 628.0,180.0 628.6,82.1" stroke="#3182bd"/>
<polyline points="516.2,81.1 516.8,110.8 517.4,209.3 517.9,118.8 518.5,108.5" stroke="#3182bd"/>
<polyline points="638.0,94.3 638.5,94.3 639.1,204.0 639.7,98.9 640.3,170.7" stroke="#3182bd"/>
<polyline points="537.3,154.9 537.8,95.3 538.4,138.5 539.0,118.7 539.6,164.0" stroke="#3182bd"/>
<polyline points="483.4,169.5 484.0,75.7 484.6,105.5 485.1,127.8 485.7,129.6" stroke="#969696"/>
<polyline points="551.3,130.5 551.9,135.3 552.5,129.5 553.1,185.3 553.7,117.6" stroke="#3182bd"/>
<polyline points="623.9,179.8 624.5,65.1 625.1,89.7 625.7,225.8 626.3,157.3" stroke="#6baed6"/>
<polyline points="619.2,74.3 619.8,132.6 620.4,62.7 621.0,62.7 621.6,76.8" stroke="#bdbdbd"/>
<polyline points="654.4,99.0 654.9,195.9 655.5,98.3 656.1,130.8 656.7,130.8" stroke="#9ecae1"/>
<polyline points="544.3,140.5 544.9,102.4 545.5,142.5 546.0,144.3 546.6,85.6" stroke="#fdae6b"/>
<polyline points="497.4,222.9 498.0,93.0 498.6,103.2 499.2,104.2 499.8,90.6" stroke="#3182bd"/>
<polyline points="467.0,229.0 467.6,229.0 468.2,194.8 468.8,91.4 469.3,154.2" stroke="#e6550d"/>
<polyline points="441.2,110.3 441.8,104.1 442.4,101.3 443.0,101.3 443.6,101.3" stroke="#fd8d3c"/>
<polyline points="626.3,107.4 626.8,88.8 627.4,132.9 628.0,134.9 628.6,134.9" stroke="#bdbdbd"/>
<polyline points="553.7,160.2 554.2,164.6 554.8,108.3 555.4,169.4 556.0,100.7" stroke="#e6550d"/>
<polyline points="462.3,94.5 462.9,83.7 463.5,90.1 464.1,191.5 464.7,191.5" stroke="#6baed6"/>
<polyline points="539.6,126.8 540.2,107.5 540.8,115.5 541.4,105.2 541.9,236.5" stroke="#6baed6"/>
<polyline points="518.5,108.5 519.1,92.3 519.7,117.3 520.3,109.1 520.9,91.6" stroke="#3182bd"/>
<polyline points="614.5,127.3 615.1,120.0 615.7,171.5 616.3,91.6 616.9,91.6" stroke="#3182bd"/>
<polyline points="609.9,160.8 610.4,78.2 611.0,136.8 611.6,136.8 612.2,133.5" stroke="#969696"/>
<polyline points="429.5,207.1 430.1,124.4 430.7,167.2 431.3,207.6 431.9,207.6" stroke="#e6550d"/>
<polyline points="630.9,102.4 631.5,69.5 632.1,69.5 632.7,186.4 633.3,153.4" stroke="#bdbdbd"/>
<polyline points="476.4,166.8 477.0,115.1 477.5,156.9 478.1,124.7 478.7,70.0" stroke="#fdae6b"/>
<polyline points="492.8,165.6 493.3,201.0 493.9,171.0 494.5,177.1 495.1,57.0" stroke="#6baed6"/>
<polyline points="485.7,127.3 486.3,218.0 486.9,195.4 487.5,195.4 488.1,121.8" stroke="#9ecae1"/>
<polyline points="530.2,120.2 530.8,187.2 531.4,92.7 532.0,108.2 532.6,122.3" stroke="#969696"/>
<polyline points="443.6,190.9 444.2,111.6 444.7,102.9 445.3,133.2 445.9,133.2" stroke="#bdbdbd"/>
<polyline points="570.0,103.8 570.6,190.5 571.2,190.5 571.8,190.5 572.4,190.5" stroke="#3182bd"/>
<polyline points="445.9,160.1 446.5,128.9 447.1,212.5 447.7,154.8 448.3,123.6" stroke="#3182bd"/>
<polyline points="469.3,127.7 469.9,143.6 470.5,149.7 471.1,201.6 471.7,125.7" stroke="#bdbdbd"/>
<polyline points="652.0,165.3 652.6,115.2 653.2,93.3 653.8,116.4 654.4,170.6" stroke="#fdae6b"/>
<polyline points="652.0,199.3 652.6,199.3 653.2,199.3 653.8,101.7 654.4,138.1" stroke="#3182bd"/>
<polyline points="588.8,105.4 589.4,82.3 590.0,68.0 590.5,107.6 591.1,52.6" stroke="#969696"/>
<polyline points="474.0,125.0 474.6,210.9 475.2,214.5 475.8,84.0 476.4,84.0" stroke="#bdbdbd"/>
<polyline points="645.0,96.1 645.6,154.3 646.2,154.3 646.7,205.1 647.3,133.8" stroke="#fdae6b"/>
<polyline points="621.6,147.2 622.2,119.5 622.7,122.5 623.3,120.6 623.9,80.4" stroke="#fd8d3c"/>
<polyline points="511.5,105.4 512.1,144.3 512.7,106.2 513.3,215.9 513.8,76.0" stroke="#6baed6"/>
<polyline points="588.8,107.1 589.4,126.4 590.0,205.2 590.5,130.1 591.1,152.7" stroke="#3182bd"/>
<polyline points="621.6,103.3 622.2,109.2 622.7,71.9 623.3,94.8 623.9,216.9" stroke="#969696"/>
<polyline points="427.2,254.8 427.8,152.7 428.4,152.7 428.9,319.4 429.5,120.9" stroke="#636363"/>
<polyline points="612.2,114.2 612.8,159.5 613.4,145.9 614.0,202.9 614.5,128.8" stroke="#969696"/>
<polyline points="462.3,178.9 462.9,101.5 463.5,88.7 464.1,137.1 464.7,129.3" stroke="#bdbdbd"/>
<polyline points="429.5,289.0 430.1,225.0 430.7,137.0 431.3,144.7 431.9,201.1" stroke="#6baed6"/>
<polyline points="448.3,151.6 448.8,184.7 449.4,228.2 450.0,87.7 450.6,120.5" stroke="#e6550d"/>
<polyline points="429.5,319.4 430.1,200.0 430.7,200.0 431.3,131.6 431.9,244.7" stroke="#fd8d3c"/>
<polyline points="654.4,102.7 654.9,105.9 655.5,197.6 656.1,197.6 656.7,125.4" stroke="#6baed6"/>
<polyline points="434.2,130.2 434.8,155.0 435.4,155.0 436.0,155.0 436.6,153.5" stroke="#969696"/>
<polyline points="525.5,165.7 526.1,181.9 526.7,181.9 527.3,82.9 527.9,129.9" stroke="#3182bd"/>
<polyline points="630.9,152.3 631.5,125.6 632.1,78.6 632.7,87.7 633.3,109.9" stroke="#969696"/>
<polyline points="436.6,242.2 437.1,133.4 437.7,185.5 438.3,219.2 438.9,219.2" stroke="#fdae6b"/>
<polyline points="460.0,94.1 460.6,171.0 461.1,129.2 461.7,127.5 462.3,108.3" stroke="#fdae6b"/>
<polyline points="654.4,127.6 654.9,113.5 655.5,194.4 656.1,194.4 656.7,154.4" stroke="#969696"/>
<polyline points="649.7,73.7 650.3,150.4 650.8,187.7 651.4,96.3 652.0,96.2" stroke="#636363"/>
<polyline points="481.1,171.7 481.6,135.9 482.2,164.4 482.8,164.4 483.4,154.6" stroke="#9ecae1"/>
<polyline points="638.0,161.2 638.5,124.3 639.1,124.3 639.7,124.3 640.3,124.3" stroke="#fdae6b"/>
<polyline points="527.9,121.8 528.5,140.7 529.1,140.7 529.6,98.0 530.2,120.4" stroke="#6baed6"/>
<polyline points="607.5,106.7 608.1,101.0 608.7,133.1 609.3,144.9 609.9,122.7" stroke="#9ecae1"/>
<polyline points="448.3,123.6 448.8,123.6 449.4,113.9 450.0,113.9 450.6,123.0" stroke="#3182bd"/>
<polyline points="593.5,87.0 594.1,87.0 594.6,134.2 595.2,183.7 595.8,119.0" stroke="#fd8d3c"/>
<polyline points="614.5,152.6 615.1,108.2 615.7,115.3 616.3,115.3 616.9,81.9" stroke="#bdbdbd"/>
<polyline points="621.6,107.8 622.2,94.2 622.7,140.7 623.3,75.2 623.9,75.2" stroke="#9ecae1"/>
<polyline points="602.8,161.5 603.4,92.9 604.0,58.2 604.6,140.6 605.2,158.9" stroke="#fd8d3c"/>
<polyline points="574.7,142.5 575.3,122.5 575.9,122.5 576.5,83.8 577.1,141.3" stroke="#fd8d3c"/>
<polyline points="630.9,188.1 631.5,150.8 632.1,126.5 632.7,97.3 633.3,97.3" stroke="#636363"/>
<polyline points="464.7,163.5 465.2,163.9 465.8,163.9 466.4,268.8 467.0,69.0" stroke="#3182bd"/>
<polyline points="579.4,101.8 580.0,123.8 580.6,174.3 581.2,115.6 581.8,192.9" stroke="#e6550d"/>
<polyline points="609.9,141.1 610.4,163.1 611.0,182.2 611.6,110.6 612.2,205.2" stroke="#3182bd"/>
<polyline points="502.1,265.5 502.7,313.8 503.3,313.8 503.9,99.1 504.5,97.7" stroke="#3182bd"/>
<polyline points="539.6,145.0 540.2,104.3 540.8,104.3 541.4,190.7 541.9,190.7" stroke="#636363"/>
<polyline points="431.9,147.0 432.5,147.0 433.0,103.6 433.6,86.6 434.2,188.6" stroke="#969696"/>
<polyline points="434.2,144.8 434.8,144.8 435.4,202.9 436.0,201.5 436.6,114.7" stroke="#bdbdbd"/>
<polyline points="605.2,112.0 605.8,69.9 606.3,69.9 606.9,123.3 607.5,79.3" stroke="#636363"/>
<polyline points="504.5,118.9 505.1,118.9 505.6,96.2 506.2,74.0 506.8,153.8" stroke="#fd8d3c"/>
<polyline points="438.9,98.4 439.5,164.4 440.1,61.4 440.7,109.0 441.2,158.0" stroke="#3182bd"/>
<polyline points="513.8,74.8 514.4,101.6 515.0,151.3 515.6,66.0 516.2,164.9" stroke="#636363"/>
<polyline points="434.2,235.4 434.8,126.0 435.4,108.9 436.0,108.9 436.6,107.5" stroke="#6baed6"/>
<polyline points="441.2,174.8 441.8,109.3 442.4,205.6 443.0,176.2 443.6,185.6" stroke="#9ecae1"/>
<polyline points="441.2,158.0 441.8,158.0 442.4,62.0 443.0,115.3 443.6,115.3" stroke="#3182bd"/>
<polyline points="628.6,125.7 629.2,113.4 629.8,164.8 630.4,188.1 630.9,188.1" stroke="#636363"/>
<polyline points="588.8,124.3 589.4,104.0 590.0,91.7 590.5,102.3 591.1,111.4" stroke="#969696"/>
<polyline points="579.4,107.8 580.0,93.4 580.6,79.6 581.2,153.8 581.8,102.3" stroke="#636363"/>
<polyline points="506.8,116.2 507.4,116.2 508.0,110.1 508.6,176.6 509.2,109.4" stroke="#9ecae1"/>
<polyline points="623.9,154.7 624.5,74.7 625.1,111.4 625.7,109.4 626.3,128.5" stroke="#3182bd"/>
<polyline points="546.6,120.6 547.2,180.1 547.8,105.2 548.4,165.7 549.0,150.3" stroke="#bdbdbd"/>
<polyline points="570.0,123.7 570.6,86.8 571.2,77.0 571.8,174.7 572.4,82.6" stroke="#fd8d3c"/>
<polyline points="469.3,134.6 469.9,78.4 470.5,138.8 471.1,142.2 471.7,113.6" stroke="#969696"/>
<polyline points="476.4,117.6 477.0,147.7 477.5,147.7 478.1,134.5 478.7,225.2" stroke="#9ecae1"/>
<polyline points="516.2,160.5 516.8,160.5 517.4,160.5 517.9,131.0 518.5,93.1" stroke="#6baed6"/>
<polyline points="614.5,81.3 615.1,65.7 615.7,102.7 616.3,189.4 616.9,127.8" stroke="#6baed6"/>
<polyline points="424.8,96.8 425.4,265.2 426.0,268.7 426.6,103.9 427.2,208.8" stroke="#bdbdbd"/>
<polyline points="612.2,183.5 612.8,133.0 613.4,199.1 614.0,165.5 614.5,155.9" stroke="#3182bd"/>
<polyline points="429.5,219.9 430.1,212.6 430.7,270.4 431.3,270.4 431.9,86.0" stroke="#3182bd"/>
<polyline points="635.6,164.1 636.2,85.2 636.8,106.7 637.4,154.2 638.0,154.2" stroke="#bdbdbd"/>
<polyline points="424.8,283.8 425.4,132.8 426.0,243.5 426.6,128.3 427.2,270.6" stroke="#969696"/>
<polyline points="504.5,119.7 505.1,130.2 505.6,127.2 506.2,78.5 506.8,124.6" stroke="#6baed6"/>
<polyline points="563.0,84.9 563.6,112.3 564.2,110.8 564.8,110.8 565.4,110.8" stroke="#bdbdbd"/>
<polyline points="492.8,107.8 493.3,97.3 493.9,113.0 494.5,110.8 495.1,129.8" stroke="#fd8d3c"/>
<polyline points="518.5,93.1 519.1,74.9 519.7,214.8 520.3,59.2 520.9,59.2" stroke="#3182bd"/>
<polyline points="499.8,114.2 500.4,129.5 501.0,66.5 501.5,130.1 502.1,103.6" stroke="#6baed6"/>
<polyline points="532.6,123.1 533.2,168.2 533.7,168.2 534.3,119.2 534.9,193.5" stroke="#3182bd"/>
<polyline points="452.9,107.9 453.5,135.9 454.1,117.4 454.7,319.4 455.3,103.6" stroke="#e6550d"/>
<polyline points="642.6,83.5 643.2,112.9 643.8,112.9 644.4,166.9 645.0,197.4" stroke="#9ecae1"/>
<polyline points="504.5,111.4 505.1,160.2 505.6,107.6 506.2,107.6 506.8,135.0" stroke="#e6550d"/>
<polyline points="541.9,125.2 542.5,166.6 543.1,166.6 543.7,166.6 544.3,98.9" stroke="#969696"/>
<polyline points="593.5,206.7 594.1,76.5 594.6,143.0 595.2,143.0 595.8,143.0" stroke="#e6550d"/>
<polyline points="565.4,110.8 565.9,193.2 566.5,100.5 567.1,100.5 567.7,100.5" stroke="#bdbdbd"/>
<polyline points="450.6,151.9 451.2,151.9 451.8,151.9 452.4,164.9 452.9,135.1" stroke="#6baed6"/>
<polyline points="572.4,108.5 573.0,84.1 573.6,111.9 574.1,111.9 574.7,111.9" stroke="#3182bd"/>
<polyline points="532.6,81.1 533.2,58.0 533.7,90.0 534.3,159.0 534.9,148.5" stroke="#3182bd"/>
<polyline points="616.9,118.2 617.5,156.6 618.1,106.9 618.6,159.8 619.2,196.3" stroke="#969696"/>
<polyline points="527.9,172.1 528.5,176.6 529.1,165.3 529.6,157.8 530.2,124.5" stroke="#3182bd"/>
<polyline points="630.9,190.0 631.5,138.5 632.1,96.5 632.7,233.1 633.3,137.3" stroke="#9ecae1"/>
<polyline points="452.9,88.2 453.5,148.0 454.1,113.0 454.7,76.6 455.3,147.8" stroke="#6baed6"/>
<polyline points="656.7,94.7 659.6,40.3" stroke="#fd8d3c"/>
<polyline points="483.4,93.5 484.0,136.4 484.6,136.4 485.1,113.1 485.7,73.7" stroke="#6baed6"/>
<polyline points="455.3,187.5 455.9,141.4 456.5,144.7 457.0,105.6 457.6,105.6" stroke="#9ecae1"/>
<polyline points="474.0,128.0 474.6,141.2 475.2,117.9 475.8,117.9 476.4,156.2" stroke="#e6550d"/>
<polyline points="525.5,94.3 526.1,99.1 526.7,184.6 527.3,99.4 527.9,121.8" stroke="#6baed6"/>
<polyline points="549.0,140.3 549.6,127.0 550.1,97.6 550.7,97.6 551.3,171.9" stroke="#636363"/>
<polyline points="488.1,87.9 488.7,87.9 489.2,107.6 489.8,80.5 490.4,131.1" stroke="#e6550d"/>
<polyline points="506.8,62.6 507.4,113.8 508.0,113.8 508.6,143.9 509.2,111.4" stroke="#636363"/>
<polyline points="591.1,173.2 591.7,173.2 592.3,243.6 592.9,123.4 593.5,50.1" stroke="#fdae6b"/>
<polyline points="448.3,90.0 448.8,128.7 449.4,155.6 450.0,86.5 450.6,191.3" stroke="#6baed6"/>
<polyline points="642.6,169.7 643.2,113.0 643.8,170.0 644.4,98.6 645.0,256.6" stroke="#3182bd"/>
<polyline points="645.0,89.1 645.6,89.1 646.2,75.5 646.7,131.0 647.3,170.4" stroke="#3182bd"/>
<polyline points="649.7,132.6 650.3,144.2 650.8,176.7 651.4,128.1 652.0,198.5" stroke="#6baed6"/>
<polyline points="645.0,197.4 645.6,195.6 646.2,112.6 646.7,319.4 647.3,187.4" stroke="#9ecae1"/>
<polyline points="626.3,183.4 626.8,98.9 627.4,102.6 628.0,212.9 628.6,75.2" stroke="#969696"/>
<polyline points="628.6,220.7 629.2,166.1 629.8,123.1 630.4,190.0 630.9,190.0" stroke="#9ecae1"/>
<polyline points="614.5,97.5 615.1,138.1 615.7,93.4 616.3,152.0 616.9,84.0" stroke="#9ecae1"/>
<polyline points="471.7,113.6 472.3,113.6 472.9,142.2 473.4,94.5 474.0,167.1" stroke="#969696"/>
<polyline points="511.5,134.4 512.1,161.9 512.7,136.8 513.3,136.8 513.8,71.6" stroke="#e6550d"/>
<polyline points="490.4,130.2 491.0,104.2 491.6,104.2 492.2,150.1 492.8,165.6" stroke="#6baed6"/>
<polyline points="481.1,149.9 481.6,134.5 482.2,134.5 482.8,134.5 483.4,188.4" stroke="#636363"/>
<polyline points="607.5,137.3 608.1,148.0 608.7,128.7 609.3,140.9 609.9,81.4" stroke="#6baed6"/>
<polyline points="424.8,254.1 425.4,277.7 426.0,171.5 426.6,244.3 427.2,178.9" stroke="#fdae6b"/>
<polyline points="457.6,129.4 458.2,154.5 458.8,98.4 459.4,175.4 460.0,74.8" stroke="#636363"/>
<polyline points="422.5,304.9 423.1,265.7 423.7,265.7 424.3,108.2 424.8,268.2" stroke="#636363"/>
<polyline points="460.0,78.4 460.6,144.8 461.1,144.1 461.7,141.6 462.3,94.5" stroke="#6baed6"/>
<polyline points="445.9,133.2 446.5,163.7 447.1,138.2 447.7,79.3 448.3,79.3" stroke="#bdbdbd"/>
<polyline points="485.7,129.6 486.3,122.7 486.9,122.7 487.5,156.8 488.1,112.0" stroke="#969696"/>
<polyline points="551.3,171.9 551.9,118.6 552.5,104.7 553.1,119.0 553.7,119.0" stroke="#636363"/>
<polyline points="443.6,140.7 444.2,217.3 444.7,208.6 445.3,299.5 445.9,299.5" stroke="#fdae6b"/>
<polyline points="614.5,128.8 615.1,122.3 615.7,122.3 616.3,121.5 616.9,118.2" stroke="#969696"/>
<polyline points="434.2,188.6 434.8,89.4 435.4,89.4 436.0,196.2 436.6,94.0" stroke="#969696"/>
<polyline points="593.5,185.2 594.1,75.0 594.6,75.0 595.2,83.7 595.8,155.6" stroke="#3182bd"/>
<polyline points="612.2,67.8 612.8,161.8 613.4,125.1 614.0,115.0 614.5,115.0" stroke="#fd8d3c"/>
<polyline points="492.8,66.5 493.3,81.0 493.9,172.4 494.5,130.1 495.1,149.2" stroke="#bdbdbd"/>
<polyline points="438.9,109.6 439.5,105.6 440.1,152.2 440.7,105.3 441.2,80.1" stroke="#969696"/>
<polyline points="457.6,125.3 458.2,125.3 458.8,172.4 459.4,136.8 460.0,78.4" stroke="#6baed6"/>
<polyline points="502.1,246.4 502.7,111.0 503.3,149.6 503.9,142.9 504.5,119.7" stroke="#6baed6"/>
<polyline points="605.2,97.9 605.8,179.9 606.3,154.2 606.9,86.9 607.5,102.7" stroke="#3182bd"/>
<polyline points="628.6,75.2 629.2,75.2 629.8,91.8 630.4,96.5 630.9,195.3" stroke="#969696"/>
<polyline points="558.3,109.7 558.9,179.8 559.5,179.8 560.1,70.2 560.7,222.8" stroke="#bdbdbd"/>
<polyline points="443.6,164.9 444.2,127.7 444.7,174.4 445.3,132.4 445.9,160.1" stroke="#3182bd"/>
<polyline points="478.7,146.0 479.3,99.2 479.9,169.0 480.5,178.2 481.1,120.8" stroke="#fd8d3c"/>
<polyline points="628.6,134.9 629.2,106.6 629.8,137.1 630.4,171.1 630.9,102.4" stroke="#bdbdbd"/>
<polyline points="471.7,179.2 472.3,102.2 472.9,102.2 473.4,255.8 474.0,255.8" stroke="#6baed6"/>
<polyline points="525.5,80.3 526.1,111.2 526.7,111.2 527.3,151.5 527.9,107.4" stroke="#fd8d3c"/>
<polyline points="607.5,102.7 608.1,135.9 608.7,135.3 609.3,71.7 609.9,111.2" stroke="#3182bd"/>
<polyline points="464.7,74.8 465.2,74.8 465.8,136.9 466.4,107.0 467.0,192.7" stroke="#969696"/>
<polyline points="556.0,148.0 556.6,147.7 557.2,147.7 557.8,156.0 558.3,175.7" stroke="#636363"/>
<polyline points="567.7,167.7 568.3,141.8 568.9,172.2 569.5,172.2 570.0,184.1" stroke="#636363"/>
<polyline points="640.3,151.6 640.9,128.6 641.5,166.1 642.1,158.9 642.6,78.5" stroke="#969696"/>
<polyline points="600.5,176.0 601.1,222.7 601.7,119.5 602.2,100.4 602.8,161.5" stroke="#fd8d3c"/>
<polyline points="422.5,206.2 423.1,319.4 423.7,190.1 424.3,204.2 424.8,253.3" stroke="#9ecae1"/>
<polyline points="588.8,105.0 589.4,105.0 590.0,165.0 590.5,52.3 591.1,207.2" stroke="#9ecae1"/>
<polyline points="563.0,153.0 563.6,118.9 564.2,109.0 564.8,108.0 565.4,165.7" stroke="#636363"/>
<polyline points="546.6,85.6 547.2,116.3 547.8,274.0 548.4,95.1 549.0,98.3" stroke="#fdae6b"/>
<polyline points="612.2,133.0 612.8,81.1 613.4,207.0 614.0,163.3 614.5,81.3" stroke="#6baed6"/>
<polyline points="431.9,244.7 432.5,244.7 433.0,165.2 433.6,126.9 434.2,319.4" stroke="#fd8d3c"/>
<polyline points="534.9,168.4 535.5,211.0 536.1,106.6 536.7,117.3 537.3,165.8" stroke="#fd8d3c"/>
<polyline points="574.7,225.0 575.3,239.0 575.9,119.2 576.5,65.7 577.1,132.3" stroke="#9ecae1"/>
<polyline points="551.3,84.9 551.9,65.6 552.5,162.9 553.1,114.5 553.7,170.5" stroke="#fd8d3c"/>
<polyline points="609.9,192.8 610.4,61.0 611.0,66.9 611.6,88.0 612.2,142.4" stroke="#636363"/>
<polyline points="464.7,106.2 465.2,106.2 465.8,106.2 466.4,177.5 467.0,68.9" stroke="#6baed6"/>
<polyline points="616.9,84.0 617.5,84.0 618.1,171.4 618.6,171.4 619.2,98.5" stroke="#9ecae1"/>
<polyline points="492.8,154.6 493.3,62.3 493.9,151.7 494.5,144.9 495.1,88.4" stroke="#6baed6"/>
<polyline points="565.4,165.7 565.9,83.1 566.5,149.2 567.1,149.2 567.7,167.7" stroke="#636363"/>
<polyline points="483.4,188.4 484.0,121.8 484.6,121.8 485.1,106.3 485.7,151.6" stroke="#636363"/>
<polyline points="539.6,164.0 540.2,127.4 540.8,127.3 541.4,167.1 541.9,167.1" stroke="#3182bd"/>
<polyline points="556.0,138.6 556.6,93.0 557.2,93.0 557.8,152.9 558.3,152.9" stroke="#6baed6"/>
<polyline points="495.1,129.8 495.7,162.5 496.3,162.5 496.9,162.5 497.4,152.8" stroke="#fd8d3c"/>
<polyline points="506.8,153.8 507.4,154.8 508.0,148.4 508.6,141.3 509.2,113.5" stroke="#fd8d3c"/>
<polyline points="513.8,222.7 514.4,51.1 515.0,143.8 515.6,143.8 516.2,128.7" stroke="#6baed6"/>
<polyline points="560.7,100.2 561.3,110.2 561.8,203.1 562.4,166.6 563.0,159.6" stroke="#969696"/>
<polyline points="539.6,156.8 540.2,135.6 540.8,100.1 541.4,115.6 541.9,114.6" stroke="#e6550d"/>
<polyline points="452.9,136.2 453.5,110.5 454.1,319.4 454.7,144.9 455.3,142.0" stroke="#3182bd"/>
<polyline points="523.2,115.3 523.8,123.2 524.4,199.1 525.0,199.1 525.5,80.3" stroke="#fd8d3c"/>
<polyline points="443.6,151.5 444.2,151.5 444.7,87.9 445.3,87.9 445.9,87.9" stroke="#969696"/>
<polyline points="452.9,135.1 453.5,122.3 454.1,75.2 454.7,84.5 455.3,67.0" stroke="#6baed6"/>
<polyline points="481.1,120.8 481.6,76.7 482.2,117.1 482.8,185.9 483.4,130.4" stroke="#fd8d3c"/>
<polyline points="434.2,104.8 434.8,91.4 435.4,184.1 436.0,176.7 436.6,184.7" stroke="#3182bd"/>
<polyline points="581.8,192.9 582.3,254.3 582.9,269.2 583.5,104.1 584.1,299.2" stroke="#e6550d"/>
<polyline points="492.8,140.1 493.3,95.3 493.9,123.4 494.5,74.3 495.1,89.9" stroke="#fdae6b"/>
<polyline points="509.2,165.1 509.7,149.5 510.3,95.8 510.9,108.5 511.5,105.4" stroke="#6baed6"/>
<polyline points="642.6,60.0 643.2,129.0 643.8,62.5 644.4,92.8 645.0,92.8" stroke="#969696"/>
<polyline points="649.7,150.4 650.3,81.3 650.8,100.0 651.4,134.7 652.0,134.7" stroke="#9ecae1"/>
<polyline points="574.7,93.9 575.3,127.3 575.9,115.0 576.5,134.0 577.1,123.5" stroke="#fdae6b"/>
<polyline points="520.9,97.8 521.4,97.8 522.0,202.5 522.6,197.4 523.2,90.9" stroke="#e6550d"/>
<polyline points="560.7,157.2 561.3,143.6 561.8,110.1 562.4,88.4 563.0,95.2" stroke="#9ecae1"/>
<polyline points="605.2,173.7 605.8,105.2 606.3,163.0 606.9,111.5 607.5,133.2" stroke="#fdae6b"/>
<polyline points="530.2,144.2 530.8,144.2 531.4,157.2 532.0,168.1 532.6,87.3" stroke="#fdae6b"/>
<polyline points="565.4,140.7 565.9,151.7 566.5,146.7 567.1,147.2 567.7,121.2" stroke="#969696"/>
<polyline points="619.2,85.3 619.8,166.2 620.4,104.0 621.0,104.0 621.6,130.5" stroke="#3182bd"/>
<polyline points="488.1,112.0 488.7,182.0 489.2,82.0 489.8,52.9 490.4,227.1" stroke="#969696"/>
<polyline points="563.0,164.1 563.6,182.6 564.2,101.4 564.8,136.4 565.4,210.9" stroke="#3182bd"/>
<polyline points="546.6,122.0 547.2,116.1 547.8,183.0 548.4,155.8 549.0,155.8" stroke="#e6550d"/>
<polyline points="431.9,147.8 432.5,204.3 433.0,247.5 433.6,128.2 434.2,130.2" stroke="#969696"/>
<polyline points="584.1,299.2 584.7,105.1 585.3,144.5 585.9,117.9 586.4,214.7" stroke="#e6550d"/>
<polyline points="443.6,101.3 444.2,122.5 444.7,193.0 445.3,196.9 445.9,80.8" stroke="#fd8d3c"/>
<polyline points="572.4,104.8 573.0,123.1 573.6,123.1 574.1,150.3 574.7,127.4" stroke="#bdbdbd"/>
<polyline points="607.5,82.8 608.1,116.7 608.7,91.3 609.3,86.3 609.9,160.8" stroke="#969696"/>
<polyline points="570.0,130.1 570.6,106.1 571.2,106.1 571.8,142.1 572.4,103.2" stroke="#6baed6"/>
<polyline points="495.1,89.9 495.7,117.4 496.3,127.5 496.9,127.5 497.4,130.7" stroke="#fdae6b"/>
<polyline points="497.4,255.2 498.0,247.7 498.6,117.6 499.2,173.6 499.8,272.1" stroke="#3182bd"/>
<polyline points="518.5,138.9 519.1,75.9 519.7,136.5 520.3,159.3 520.9,180.5" stroke="#969696"/>
<polyline points="656.7,134.8 659.6,40.3" stroke="#6baed6"/>
<polyline points="621.6,130.5 622.2,144.7 622.7,115.0 623.3,115.0 623.9,111.1" stroke="#3182bd"/>
<polyline points="478.7,218.8 479.3,186.9 479.9,161.0 480.5,93.6 481.1,115.4" stroke="#3182bd"/>
<polyline points="649.7,95.6 650.3,72.2 650.8,149.1 651.4,74.5 652.0,149.1" stroke="#bdbdbd"/>
<polyline points="553.7,170.5 554.2,159.2 554.8,166.5 555.4,166.5 556.0,174.8" stroke="#fd8d3c"/>
<polyline points="457.6,157.4 458.2,181.5 458.8,187.5 459.4,129.2 460.0,157.6" stroke="#e6550d"/>
<polyline points="506.8,151.2 507.4,130.1 508.0,120.7 508.6,216.5 509.2,104.7" stroke="#969696"/>
<polyline points="556.0,77.5 556.6,105.9 557.2,166.7 557.8,166.7 558.3,144.9" stroke="#969696"/>
<polyline points="579.4,125.0 580.0,85.0 580.6,107.8 581.2,113.7 581.8,95.8" stroke="#3182bd"/>
<polyline points="652.0,198.5 652.6,178.0 653.2,178.0 653.8,157.8 654.4,152.9" stroke="#6baed6"/>
<polyline points="612.2,100.4 612.8,66.0 613.4,111.3 614.0,111.3 614.5,97.5" stroke="#9ecae1"/>
<polyline points="436.6,114.7 437.1,149.7 437.7,176.4 438.3,116.6 438.9,98.9" stroke="#bdbdbd"/>
<polyline points="642.6,157.4 643.2,118.4 643.8,171.9 644.4,171.9 645.0,174.8" stroke="#6baed6"/>
<polyline points="462.3,93.7 462.9,93.7 463.5,101.6 464.1,139.6 464.7,149.5" stroke="#636363"/>
<polyline points="556.0,141.9 556.6,77.4 557.2,164.7 557.8,164.7 558.3,85.7" stroke="#6baed6"/>
<polyline points="652.0,134.7 652.6,133.1 653.2,133.1 653.8,110.4 654.4,99.0" stroke="#9ecae1"/>
<polyline points="649.7,51.8 650.3,129.0 650.8,168.8 651.4,74.7 652.0,199.3" stroke="#3182bd"/>
<polyline points="506.8,189.6 507.4,112.0 508.0,123.3 508.6,155.7 509.2,92.5" stroke="#fdae6b"/>
<polyline points="497.4,152.8 498.0,115.4 498.6,116.4 499.2,80.5 499.8,132.2" stroke="#fd8d3c"/>
<polyline points="577.1,196.0 577.7,180.5 578.2,166.1 578.8,148.9 579.4,125.0" stroke="#3182bd"/>
<polyline points="581.8,135.5 582.3,70.8 582.9,160.9 583.5,131.2 584.1,124.3" stroke="#9ecae1"/>
<polyline points="553.7,103.0 554.2,99.0 554.8,108.8 555.4,108.8 556.0,101.8" stroke="#969696"/>
<polyline points="619.2,135.7 619.8,135.7 620.4,95.1 621.0,103.3 621.6,103.3" stroke="#969696"/>
<polyline points="485.7,138.6 486.3,113.2 486.9,105.4 487.5,84.2 488.1,106.7" stroke="#3182bd"/>
<polyline points="541.9,167.1 542.5,248.0 543.1,137.5 543.7,123.7 544.3,180.7" stroke="#3182bd"/>
<polyline points="530.2,107.6 530.8,107.6 531.4,120.4 532.0,202.9 532.6,125.9" stroke="#636363"/>
<polyline points="492.8,122.2 493.3,151.7 493.9,214.2 494.5,133.4 495.1,122.2" stroke="#3182bd"/>
<polyline points="584.1,125.3 584.7,80.6 585.3,150.8 585.9,105.9 586.4,101.4" stroke="#3182bd"/>
<polyline points="474.0,63.0 474.6,163.4 475.2,132.9 475.8,165.7 476.4,115.8" stroke="#3182bd"/>
<polyline points="467.0,80.4 467.6,80.4 468.2,83.7 468.8,93.0 469.3,124.9" stroke="#9ecae1"/>
<polyline points="602.8,137.7 603.4,191.4 604.0,111.6 604.6,55.4 605.2,112.0" stroke="#636363"/>
<polyline points="513.8,153.8 514.4,143.6 515.0,126.4 515.6,98.5 516.2,135.8" stroke="#969696"/>
<polyline points="483.4,192.2 484.0,69.1 484.6,111.6 485.1,78.0 485.7,149.5" stroke="#969696"/>
<polyline points="616.9,58.5 617.5,58.5 618.1,162.6 618.6,125.5 619.2,55.0" stroke="#fdae6b"/>
<polyline points="481.1,153.9 481.6,133.6 482.2,154.6 482.8,138.7 483.4,138.7" stroke="#e6550d"/>
<polyline points="558.3,191.6 558.9,157.1 559.5,125.6 560.1,51.1 560.7,186.6" stroke="#fdae6b"/>
<polyline points="614.5,162.9 615.1,260.3 615.7,136.5 616.3,99.9 616.9,93.5" stroke="#e6550d"/>
<polyline points="429.5,177.0 430.1,127.5 430.7,127.5 431.3,89.2 431.9,147.0" stroke="#969696"/>
<polyline points="563.0,95.2 563.6,95.2 564.2,95.2 564.8,147.0 565.4,119.3" stroke="#9ecae1"/>
<polyline points="448.3,151.4 448.8,151.4 449.4,88.9 450.0,151.9 450.6,151.9" stroke="#6baed6"/>
<polyline points="474.0,109.4 474.6,109.4 475.2,91.1 475.8,216.7 476.4,166.8" stroke="#fdae6b"/>
<polyline points="502.1,151.7 502.7,157.5 503.3,117.1 503.9,169.4 504.5,103.3" stroke="#9ecae1"/>
<polyline points="448.3,79.3 448.8,118.5 449.4,200.3 450.0,200.3 450.6,160.6" stroke="#bdbdbd"/>
<polyline points="544.3,100.4 544.9,67.1 545.5,85.0 546.0,157.8 546.6,122.0" stroke="#e6550d"/>
<polyline points="492.8,168.9 493.3,135.7 493.9,114.9 494.5,167.4 495.1,126.9" stroke="#e6550d"/>
<polyline points="565.4,135.4 565.9,131.2 566.5,131.2 567.1,166.1 567.7,115.2" stroke="#6baed6"/>
<polyline points="455.3,139.8 455.9,115.1 456.5,130.4 457.0,63.2 457.6,64.6" stroke="#fdae6b"/>
<polyline points="424.8,136.2 425.4,249.7 426.0,106.3 426.6,101.6 427.2,308.9" stroke="#6baed6"/>
<polyline points="438.9,76.9 439.5,126.1 440.1,170.3 440.7,135.6 441.2,106.3" stroke="#e6550d"/>
<polyline points="462.3,114.0 462.9,130.0 463.5,114.3 464.1,114.3 464.7,148.1" stroke="#3182bd"/>
<polyline points="471.7,121.5 472.3,107.8 472.9,107.8 473.4,107.8 474.0,144.1" stroke="#9ecae1"/>
<polyline points="628.6,142.2 629.2,151.8 629.8,99.9 630.4,127.5 630.9,127.5" stroke="#e6550d"/>
<polyline points="563.0,105.7 563.6,128.0 564.2,125.9 564.8,125.9 565.4,143.7" stroke="#3182bd"/>
<polyline points="427.2,270.6 427.8,210.1 428.4,210.1 428.9,229.0 429.5,134.6" stroke="#969696"/>
<polyline points="544.3,148.5 544.9,87.2 545.5,160.6 546.0,160.6 546.6,120.6" stroke="#bdbdbd"/>
<polyline points="429.5,143.0 430.1,242.1 430.7,183.3 431.3,183.3 431.9,183.3" stroke="#9ecae1"/>
<polyline points="427.2,185.1 427.8,271.6 428.4,107.0 428.9,144.9 429.5,137.0" stroke="#3182bd"/>
<polyline points="598.1,57.1 598.7,115.7 599.3,189.6 599.9,158.7 600.5,121.4" stroke="#fdae6b"/>
<polyline points="513.8,129.4 514.4,172.6 515.0,162.4 515.6,78.7 516.2,85.6" stroke="#3182bd"/>
<polyline points="605.2,144.5 605.8,199.7 606.3,134.4 606.9,182.6 607.5,82.8" stroke="#969696"/>
<polyline points="441.2,266.0 441.8,185.7 442.4,177.6 443.0,198.2 443.6,140.7" stroke="#fdae6b"/>
<polyline points="527.9,194.8 528.5,127.6 529.1,95.7 529.6,99.3 530.2,102.9" stroke="#969696"/>
<polyline points="441.2,122.3 441.8,68.8 442.4,118.3 443.0,131.2 443.6,132.5" stroke="#636363"/>
<polyline points="497.4,95.9 498.0,95.9 498.6,95.9 499.2,125.9 499.8,127.6" stroke="#bdbdbd"/>
<polyline points="549.0,108.5 549.6,148.8 550.1,133.8 550.7,122.1 551.3,130.5" stroke="#3182bd"/>
<polyline points="626.3,100.4 626.8,117.3 627.4,117.3 628.0,117.3 628.6,149.6" stroke="#fd8d3c"/>
<polyline points="436.6,184.7 437.1,138.0 437.7,92.4 438.3,140.3 438.9,79.4" stroke="#3182bd"/>
<polyline points="560.7,120.4 561.3,89.0 561.8,102.6 562.4,135.9 563.0,153.0" stroke="#636363"/>
<polyline points="478.7,70.0 479.3,94.0 479.9,98.8 480.5,159.8 481.1,149.1" stroke="#fdae6b"/>
<polyline points="452.9,146.6 453.5,65.5 454.1,177.4 454.7,141.6 455.3,172.2" stroke="#969696"/>
<polyline points="588.8,207.8 589.4,136.1 590.0,136.1 590.5,126.0 591.1,89.1" stroke="#6baed6"/>
<polyline points="541.9,190.7 542.5,190.7 543.1,159.5 543.7,105.9 544.3,150.0" stroke="#636363"/>
<polyline points="656.7,49.6 659.6,40.3" stroke="#3182bd"/>
<polyline points="642.6,139.3 643.2,159.1 643.8,116.1 644.4,111.0 645.0,96.1" stroke="#fdae6b"/>
<polyline points="563.0,104.5 563.6,123.7 564.2,109.5 564.8,140.2 565.4,78.5" stroke="#fd8d3c"/>
<polyline points="579.4,182.3 580.0,59.7 580.6,59.7 581.2,122.9 581.8,122.9" stroke="#969696"/>
<polyline points="490.4,198.7 491.0,149.6 491.6,115.3 492.2,73.5 492.8,110.1" stroke="#9ecae1"/>
<polyline points="478.7,150.5 479.3,101.0 479.9,83.3 480.5,219.6 481.1,149.9" stroke="#636363"/>
<polyline points="455.3,172.2 455.9,158.3 456.5,142.4 457.0,123.4 457.6,81.6" stroke="#969696"/>
<polyline points="504.5,178.1 505.1,158.5 505.6,139.3 506.2,139.3 506.8,189.6" stroke="#fdae6b"/>
<polyline points="581.8,115.3 582.3,68.3 582.9,72.6 583.5,116.9 584.1,125.3" stroke="#3182bd"/>
<polyline points="539.6,60.6 540.2,110.2 540.8,202.2 541.4,85.6 541.9,96.7" stroke="#fd8d3c"/>
<polyline points="565.4,119.3 565.9,119.3 566.5,119.3 567.1,126.0 567.7,200.4" stroke="#9ecae1"/>
<polyline points="476.4,156.2 477.0,140.4 477.5,99.9 478.1,249.3 478.7,158.7" stroke="#e6550d"/>
<polyline points="546.6,131.7 547.2,163.1 547.8,101.7 548.4,196.0 549.0,134.0" stroke="#6baed6"/>
<polyline points="654.4,170.6 654.9,72.4 655.5,72.4 656.1,194.6 656.7,125.5" stroke="#fdae6b"/>
<polyline points="438.9,205.0 439.5,205.0 440.1,164.3 440.7,85.1 441.2,174.8" stroke="#9ecae1"/>
<polyline points="633.3,109.9 633.9,176.8 634.5,119.6 635.0,79.4 635.6,126.9" stroke="#969696"/>
<polyline points="642.6,78.5 643.2,167.8 643.8,191.5 644.4,133.7 645.0,195.8" stroke="#969696"/>
<polyline points="483.4,154.6 484.0,154.6 484.6,183.4 485.1,162.6 485.7,127.3" stroke="#9ecae1"/>
<polyline points="471.7,120.4 472.3,233.0 472.9,184.3 473.4,177.1 474.0,173.1" stroke="#3182bd"/>
<polyline points="445.9,107.0 446.5,182.7 447.1,144.4 447.7,133.7 448.3,124.3" stroke="#3182bd"/>
<polyline points="609.9,122.7 610.4,153.2 611.0,69.9 611.6,145.5 612.2,100.4" stroke="#9ecae1"/>
<polyline points="431.9,183.3 432.5,194.2 433.0,110.1 433.6,110.1 434.2,319.4" stroke="#9ecae1"/>
<polyline points="485.7,149.5 486.3,149.5 486.9,174.9 487.5,88.8 488.1,72.1" stroke="#969696"/>
<polyline points="497.4,147.9 498.0,193.4 498.6,145.8 499.2,158.7 499.8,82.7" stroke="#969696"/>
<polyline points="495.1,175.3 495.7,104.9 496.3,104.9 496.9,66.8 497.4,95.0" stroke="#969696"/>
<polyline points="588.8,100.2 589.4,77.1 590.0,55.3 590.5,65.5 591.1,96.3" stroke="#6baed6"/>
<polyline points="448.3,65.8 448.8,108.6 449.4,157.2 450.0,156.4 450.6,83.9" stroke="#969696"/>
<polyline points="471.7,66.4 472.3,94.1 472.9,148.1 473.4,196.2 474.0,96.8" stroke="#969696"/>
<polyline points="492.8,129.1 493.3,178.8 493.9,178.8 494.5,104.6 495.1,259.5" stroke="#969696"/>
<polyline points="586.4,214.7 587.0,91.5 587.6,125.1 588.2,79.2 588.8,93.6" stroke="#e6550d"/>
<polyline points="642.6,78.5 643.2,78.5 643.8,95.5 644.4,165.2 645.0,89.1" stroke="#3182bd"/>
<polyline points="649.7,300.4 650.3,293.3 650.8,190.3 651.4,304.9 652.0,232.5" stroke="#969696"/>
<polyline points="490.4,87.9 491.0,143.6 491.6,161.5 492.2,116.5 492.8,66.5" stroke="#bdbdbd"/>
<polyline points="541.9,134.6 542.5,145.2 543.1,145.2 543.7,140.5 544.3,140.5" stroke="#fdae6b"/>
<polyline points="579.4,115.8 580.0,115.8 580.6,69.8 581.2,188.0 581.8,140.2" stroke="#bdbdbd"/>
<polyline points="558.3,166.9 558.9,171.0 559.5,145.2 560.1,105.0 560.7,168.4" stroke="#fd8d3c"/>
<polyline points="630.9,127.5 631.5,187.5 632.1,102.9 632.7,86.8 633.3,144.9" stroke="#e6550d"/>
<polyline points="530.2,120.4 530.8,127.0 531.4,77.8 532.0,114.8 532.6,114.8" stroke="#6baed6"/>
<polyline points="628.6,149.6 629.2,122.4 629.8,98.9 630.4,98.9 630.9,100.8" stroke="#fd8d3c"/>
<polyline points="572.4,190.5 573.0,163.4 573.6,116.9 574.1,135.2 574.7,142.2" stroke="#3182bd"/>
<polyline points="598.1,112.8 598.7,105.0 599.3,149.9 599.9,149.9 600.5,131.4" stroke="#bdbdbd"/>
<polyline points="556.0,140.4 556.6,122.8 557.2,152.1 557.8,110.8 558.3,109.7" stroke="#bdbdbd"/>
<polyline points="485.7,74.8 486.3,158.3 486.9,82.4 487.5,172.7 488.1,177.8" stroke="#fdae6b"/>
<polyline points="427.2,208.8 427.8,208.8 428.4,160.6 428.9,200.9 429.5,142.9" stroke="#bdbdbd"/>
<polyline points="623.9,216.9 624.5,216.9 625.1,165.7 625.7,91.2 626.3,183.4" stroke="#969696"/>
<polyline points="600.5,92.8 601.1,121.7 601.7,105.7 602.2,231.1 602.8,134.4" stroke="#6baed6"/>
<polyline points="511.5,154.4 512.1,154.4 512.7,135.1 513.3,187.2 513.8,198.5" stroke="#3182bd"/>
<polyline points="607.5,175.0 608.1,175.0 608.7,167.1 609.3,124.3 609.9,110.3" stroke="#969696"/>
<polyline points="621.6,131.8 622.2,72.1 622.7,155.1 623.3,101.8 623.9,105.0" stroke="#969696"/>
<polyline points="534.9,122.4 535.5,80.4 536.1,113.5 536.7,85.7 537.3,175.9" stroke="#969696"/>
<polyline points="499.8,147.1 500.4,147.1 501.0,74.5 501.5,105.3 502.1,151.7" stroke="#9ecae1"/>
<polyline points="516.2,115.7 516.8,149.8 517.4,149.8 517.9,118.7 518.5,118.7" stroke="#fd8d3c"/>
<polyline points="595.8,155.6 596.4,85.4 597.0,69.3 597.6,156.2 598.1,116.9" stroke="#3182bd"/>
<polyline points="645.0,123.4 645.6,102.6 646.2,87.6 646.7,118.9 647.3,110.9" stroke="#e6550d"/>
<polyline points="452.9,76.0 453.5,75.1 454.1,76.3 454.7,90.8 455.3,90.8" stroke="#636363"/>
<polyline points="445.9,159.9 446.5,94.5 447.1,113.2 447.7,90.0 448.3,90.0" stroke="#6baed6"/>
<polyline points="481.1,199.8 481.6,90.9 482.2,99.5 482.8,97.5 483.4,108.1" stroke="#6baed6"/>
<polyline points="476.4,115.8 477.0,115.8 477.5,97.9 478.1,130.6 478.7,218.8" stroke="#3182bd"/>
<polyline points="530.2,141.1 530.8,160.4 531.4,80.2 532.0,63.8 532.6,129.3" stroke="#fd8d3c"/>
<polyline points="485.7,142.4 486.3,204.8 486.9,165.0 487.5,165.0 488.1,87.9" stroke="#e6550d"/>
<polyline points="616.9,127.8 617.5,153.7 618.1,121.1 618.6,94.4 619.2,57.1" stroke="#6baed6"/>
<polyline points="553.7,188.9 554.2,96.6 554.8,157.7 555.4,110.0 556.0,260.6" stroke="#3182bd"/>
<polyline points="523.2,100.8 523.8,84.0 524.4,121.8 525.0,84.0 525.5,79.8" stroke="#3182bd"/>
<polyline points="450.6,75.2 451.2,193.0 451.8,142.8 452.4,196.0 452.9,83.1" stroke="#fd8d3c"/>
<polyline points="558.3,72.3 558.9,149.0 559.5,84.5 560.1,139.3 560.7,132.5" stroke="#3182bd"/>
<polyline points="602.8,134.3 603.4,134.3 604.0,83.1 604.6,150.0 605.2,144.5" stroke="#969696"/>
<polyline points="469.3,319.4 469.9,247.2 470.5,159.3 471.1,116.5 471.7,116.5" stroke="#6baed6"/>
<polyline points="605.2,170.0 605.8,159.4 606.3,171.7 606.9,81.4 607.5,93.4" stroke="#6baed6"/>
<polyline points="645.0,195.8 645.6,127.0 646.2,127.0 646.7,106.6 647.3,67.7" stroke="#969696"/>
<polyline points="619.2,78.9 619.8,100.2 620.4,74.6 621.0,209.7 621.6,213.7" stroke="#e6550d"/>
<polyline points="537.3,180.5 537.8,103.2 538.4,107.8 539.0,146.0 539.6,140.3" stroke="#fdae6b"/>
<polyline points="511.5,102.6 512.1,121.4 512.7,102.2 513.3,132.3 513.8,153.8" stroke="#969696"/>
<polyline points="532.6,122.3 533.2,122.3 533.7,122.3 534.3,96.1 534.9,122.4" stroke="#969696"/>
<polyline points="647.3,140.0 647.9,108.2 648.5,98.5 649.1,163.7 649.7,134.2" stroke="#fd8d3c"/>
<polyline points="511.5,84.4 512.1,84.4 512.7,182.1 513.3,133.1 513.8,167.4" stroke="#969696"/>
<polyline points="563.0,159.6 563.6,159.6 564.2,141.3 564.8,99.0 565.4,314.6" stroke="#969696"/>
<polyline points="467.0,215.7 467.6,133.4 468.2,134.6 468.8,134.6 469.3,134.6" stroke="#969696"/>
<polyline points="563.0,97.1 563.6,160.6 564.2,182.8 564.8,182.8 565.4,82.5" stroke="#fdae6b"/>
<polyline points="474.0,144.1 474.6,126.4 475.2,253.5 475.8,117.6 476.4,117.6" stroke="#9ecae1"/>
<polyline points="638.0,154.2 638.5,122.2 639.1,118.7 639.7,77.7 640.3,146.1" stroke="#bdbdbd"/>
<polyline points="577.1,204.4 577.7,151.2 578.2,146.6 578.8,92.6 579.4,153.0" stroke="#3182bd"/>
<polyline points="647.3,63.6 647.9,133.3 648.5,195.8 649.1,69.6 649.7,121.6" stroke="#6baed6"/>
<polyline points="652.0,232.5 652.6,298.3 653.2,164.9 653.8,66.9 654.4,123.5" stroke="#969696"/>
<polyline points="476.4,167.7 477.0,93.9 477.5,150.5 478.1,150.5 478.7,150.5" stroke="#636363"/>
<polyline points="560.7,123.0 561.3,181.2 561.8,89.3 562.4,197.0 563.0,170.1" stroke="#6baed6"/>
<polyline points="504.5,88.1 505.1,98.2 505.6,98.2 506.2,135.3 506.8,151.2" stroke="#969696"/>
<polyline points="579.4,102.9 580.0,155.8 580.6,155.8 581.2,99.6 581.8,159.2" stroke="#6baed6"/>
<polyline points="621.6,115.8 622.2,95.2 622.7,128.1 623.3,112.9 623.9,147.5" stroke="#6baed6"/>
<polyline points="431.9,201.1 432.5,116.4 433.0,110.1 433.6,181.5 434.2,72.6" stroke="#6baed6"/>
<polyline points="539.6,162.8 540.2,187.5 540.8,187.5 541.4,117.5 541.9,210.6" stroke="#969696"/>
<polyline points="565.4,143.7 565.9,97.6 566.5,142.4 567.1,200.0 567.7,200.8" stroke="#3182bd"/>
<polyline points="563.0,170.1 563.6,169.4 564.2,167.5 564.8,135.4 565.4,135.4" stroke="#6baed6"/>
<polyline points="598.1,106.9 598.7,100.2 599.3,57.9 599.9,122.0 600.5,127.4" stroke="#969696"/>
<polyline points="635.6,126.9 636.2,148.8 636.8,84.3 637.4,138.1 638.0,114.5" stroke="#969696"/>
<polyline points="635.6,129.6 636.2,106.4 636.8,140.4 637.4,118.9 638.0,118.9" stroke="#6baed6"/>
<polyline points="471.7,140.4 472.3,174.6 472.9,174.6 473.4,113.8 474.0,113.8" stroke="#fd8d3c"/>
<polyline points="623.9,122.7 624.5,122.7 625.1,122.7 625.7,117.8 626.3,156.1" stroke="#fdae6b"/>
<polyline points="467.0,297.0 467.6,128.1 468.2,98.6 468.8,131.0 469.3,105.6" stroke="#fd8d3c"/>
<polyline points="623.9,127.5 624.5,127.5 625.1,127.5 625.7,127.5 626.3,131.9" stroke="#e6550d"/>
<polyline points="652.0,134.0 652.6,98.7 653.2,54.0 653.8,173.4 654.4,113.5" stroke="#3182bd"/>
<polyline points="647.3,67.7 647.9,140.2 648.5,140.2 649.1,126.3 649.7,71.5" stroke="#969696"/>
<polyline points="499.8,107.3 500.4,135.1 501.0,159.4 501.5,307.1 502.1,134.7" stroke="#fdae6b"/>
<polyline points="445.9,87.9 446.5,134.6 447.1,202.8 447.7,118.0 448.3,207.5" stroke="#969696"/>
<polyline points="567.7,200.8 568.3,200.8 568.9,107.8 569.5,131.8 570.0,160.6" stroke="#3182bd"/>
<polyline points="640.3,124.3 640.9,146.6 641.5,90.0 642.1,133.7 642.6,139.3" stroke="#fdae6b"/>
<polyline points="638.0,97.9 638.5,125.3 639.1,125.3 639.7,178.0 640.3,106.3" stroke="#3182bd"/>
<polyline points="600.5,157.1 601.1,92.8 601.7,77.9 602.2,218.8 602.8,97.9" stroke="#3182bd"/>
<polyline points="485.7,91.6 486.3,119.1 486.9,152.2 487.5,92.5 488.1,135.3" stroke="#6baed6"/>
<polyline points="609.9,110.3 610.4,82.2 611.0,90.4 611.6,128.1 612.2,114.2" stroke="#969696"/>
<polyline points="656.7,239.5 659.6,40.3" stroke="#e6550d"/>
<polyline points="422.5,182.4 423.1,249.0 423.7,169.3 424.3,169.3 424.8,96.8" stroke="#bdbdbd"/>
<polyline points="534.9,148.5 535.5,110.3 536.1,90.5 536.7,121.6 537.3,115.1" stroke="#3182bd"/>
<polyline points="593.5,50.1 594.1,89.3 594.6,70.0 595.2,210.0 595.8,69.6" stroke="#fdae6b"/>
<polyline points="485.7,151.6 486.3,147.5 486.9,75.2 487.5,77.0 488.1,182.1" stroke="#636363"/>
<polyline points="584.1,105.0 584.7,82.8 585.3,82.8 585.9,82.8 586.4,83.6" stroke="#fd8d3c"/>
<polyline points="520.9,91.6 521.4,151.3 522.0,151.3 522.6,100.8 523.2,100.8" stroke="#3182bd"/>
<polyline points="525.5,79.8 526.1,122.8 526.7,122.8 527.3,172.1 527.9,172.1" stroke="#3182bd"/>
<polyline points="509.2,111.4 509.7,153.4 510.3,92.8 510.9,98.0 511.5,155.7" stroke="#636363"/>
<polyline points="434.2,150.1 434.8,196.5 435.4,148.2 436.0,200.6 436.6,159.1" stroke="#e6550d"/>
<polyline points="560.7,116.9 561.3,116.6 561.8,81.3 562.4,73.0 563.0,164.1" stroke="#3182bd"/>
<polyline points="558.3,152.9 558.9,152.9 559.5,86.1 560.1,129.4 560.7,123.0" stroke="#6baed6"/>
<polyline points="495.1,88.4 495.7,123.0 496.3,141.5 496.9,200.3 497.4,200.3" stroke="#6baed6"/>
<polyline points="551.3,206.1 551.9,72.7 552.5,112.0 553.1,82.5 553.7,178.3" stroke="#6baed6"/>
<polyline points="654.4,168.7 654.9,208.5 655.5,208.5 656.1,154.2 656.7,91.6" stroke="#636363"/>
<polyline points="609.9,146.4 610.4,138.4 611.0,184.6 611.6,67.0 612.2,67.0" stroke="#e6550d"/>
<polyline points="638.0,118.9 638.5,177.6 639.1,177.6 639.7,105.6 640.3,158.2" stroke="#6baed6"/>
<polyline points="638.0,144.7 638.5,169.9 639.1,131.8 639.7,89.1 640.3,182.8" stroke="#636363"/>
<polyline points="464.7,149.5 465.2,104.3 465.8,62.8 466.4,113.3 467.0,124.0" stroke="#636363"/>
<polyline points="483.4,156.3 484.0,156.2 484.6,206.8 485.1,116.8 485.7,86.8" stroke="#3182bd"/>
<polyline points="593.5,197.5 594.1,87.0 594.6,87.0 595.2,158.7 595.8,140.2" stroke="#3182bd"/>
<polyline points="649.7,144.6 650.3,144.2 650.8,73.1 651.4,129.7 652.0,134.0" stroke="#3182bd"/>
<polyline points="452.9,83.1 453.5,97.2 454.1,271.2 454.7,117.8 455.3,117.8" stroke="#fd8d3c"/>
<polyline points="469.3,119.1 469.9,161.4 470.5,82.8 471.1,164.4 471.7,122.9" stroke="#fdae6b"/>
<polyline points="427.2,308.9 427.8,275.2 428.4,142.5 428.9,191.1 429.5,289.0" stroke="#6baed6"/>
<polyline points="488.1,135.3 488.7,105.1 489.2,82.8 489.8,130.2 490.4,130.2" stroke="#6baed6"/>
<polyline points="553.7,94.1 554.2,104.1 554.8,157.1 555.4,77.5 556.0,77.5" stroke="#969696"/>
<polyline points="527.9,131.0 528.5,178.3 529.1,178.3 529.6,118.2 530.2,107.6" stroke="#636363"/>
<polyline points="579.4,98.0 580.0,166.9 580.6,73.2 581.2,107.5 581.8,110.1" stroke="#fdae6b"/>
<polyline points="635.6,80.8 636.2,177.2 636.8,106.6 637.4,109.0 638.0,80.7" stroke="#969696"/>
<polyline points="457.6,64.6 458.2,153.2 458.8,156.1 459.4,107.0 460.0,94.1" stroke="#fdae6b"/>
<polyline points="523.2,90.9 523.8,190.6 524.4,115.5 525.0,161.2 525.5,100.9" stroke="#e6550d"/>
<polyline points="616.9,81.9 617.5,184.6 618.1,184.6 618.6,134.1 619.2,74.3" stroke="#bdbdbd"/>
<polyline points="544.3,150.0 544.9,97.8 545.5,151.0 546.0,113.2 546.6,100.5" stroke="#636363"/>
<polyline points="584.1,150.5 584.7,153.4 585.3,110.3 585.9,112.7 586.4,172.6" stroke="#6baed6"/>
<polyline points="560.7,168.4 561.3,104.7 561.8,172.1 562.4,201.1 563.0,104.5" stroke="#fd8d3c"/>
<polyline points="527.9,125.0 528.5,85.2 529.1,186.4 529.6,186.4 530.2,120.2" stroke="#969696"/>
<polyline points="619.2,90.7 619.8,120.4 620.4,109.7 621.0,77.2 621.6,137.4" stroke="#3182bd"/>
<polyline points="591.1,96.3 591.7,154.0 592.3,176.2 592.9,81.5 593.5,165.6" stroke="#6baed6"/>
<polyline points="574.7,138.4 575.3,76.0 575.9,108.6 576.5,125.6 577.1,146.4" stroke="#969696"/>
<polyline points="588.8,93.6 589.4,68.9 590.0,102.6 590.5,89.2 591.1,87.9" stroke="#e6550d"/>
<polyline points="506.8,74.6 507.4,74.6 508.0,193.5 508.6,169.0 509.2,169.0" stroke="#969696"/>
<polyline points="595.8,104.2 596.4,98.2 597.0,136.3 597.6,111.0 598.1,111.0" stroke="#636363"/>
<polyline points="438.9,112.4 439.5,88.7 440.1,119.0 440.7,172.4 441.2,122.3" stroke="#636363"/>
<polyline points="574.7,127.4 575.3,111.1 575.9,111.1 576.5,111.7 577.1,154.8" stroke="#bdbdbd"/>
<polyline points="441.2,136.0 441.8,136.0 442.4,143.0 443.0,136.0 443.6,151.5" stroke="#969696"/>
<polyline points="497.4,109.6 498.0,83.2 498.6,83.2 499.2,121.2 499.8,170.5" stroke="#e6550d"/>
<polyline points="656.7,125.5 659.6,40.3" stroke="#fdae6b"/>
<polyline points="504.5,94.5 505.1,111.4 505.6,196.6 506.2,196.6 506.8,180.9" stroke="#bdbdbd"/>
<polyline points="633.3,163.6 633.9,164.4 634.5,163.8 635.0,184.3 635.6,100.6" stroke="#fd8d3c"/>
<polyline points="541.9,236.5 542.5,184.2 543.1,184.2 543.7,109.6 544.3,120.9" stroke="#6baed6"/>
<polyline points="607.5,79.3 608.1,63.9 608.7,63.9 609.3,205.8 609.9,192.8" stroke="#636363"/>
<polyline points="602.8,134.4 603.4,134.4 604.0,135.9 604.6,135.9 605.2,164.6" stroke="#6baed6"/>
<polyline points="630.9,69.1 631.5,168.8 632.1,96.7 632.7,133.4 633.3,86.3" stroke="#fdae6b"/>
<polyline points="560.7,186.6 561.3,99.8 561.8,79.2 562.4,110.4 563.0,97.1" stroke="#fdae6b"/>
<polyline points="434.2,191.2 434.8,122.3 435.4,155.5 436.0,155.5 436.6,242.2" stroke="#fdae6b"/>
<polyline points="602.8,133.5 603.4,127.6 604.0,95.0 604.6,173.7 605.2,173.7" stroke="#fdae6b"/>
<polyline points="518.5,147.3 519.1,195.0 519.7,183.0 520.3,183.0 520.9,98.2" stroke="#9ecae1"/>
<polyline points="619.2,55.0 619.8,211.6 620.4,122.1 621.0,170.0 621.6,184.5" stroke="#fdae6b"/>
<polyline points="474.0,101.8 474.6,101.8 475.2,93.6 475.8,196.7 476.4,182.7" stroke="#6baed6"/>
<polyline points="436.6,159.1 437.1,60.3 437.7,121.1 438.3,121.1 438.9,76.9" stroke="#e6550d"/>
<polyline points="441.2,152.5 441.8,175.9 442.4,153.4 443.0,164.9 443.6,164.9" stroke="#3182bd"/>
<polyline points="448.3,145.8 448.8,145.8 449.4,112.0 450.0,124.1 450.6,146.1" stroke="#636363"/>
<polyline points="537.3,121.2 537.8,130.3 538.4,106.7 539.0,106.7 539.6,145.0" stroke="#636363"/>
<polyline points="452.9,91.1 453.5,158.7 454.1,67.1 454.7,94.0 455.3,142.4" stroke="#3182bd"/>
<polyline points="633.3,79.0 633.9,157.5 634.5,157.5 635.0,134.5 635.6,134.5" stroke="#6baed6"/>
<polyline points="541.9,86.3 542.5,162.4 543.1,90.5 543.7,129.7 544.3,132.8" stroke="#3182bd"/>
<polyline points="499.8,235.7 500.4,257.0 501.0,185.4 501.5,246.4 502.1,246.4" stroke="#6baed6"/>
<polyline points="553.7,102.0 554.2,101.8 554.8,115.7 555.4,137.7 556.0,140.4" stroke="#bdbdbd"/>
<polyline points="462.3,301.1 462.9,133.1 463.5,124.7 464.1,153.4 464.7,153.4" stroke="#e6550d"/>
<polyline points="523.2,107.7 523.8,210.8 524.4,103.0 525.0,91.3 525.5,165.7" stroke="#3182bd"/>
<polyline points="563.0,91.0 563.6,91.3 564.2,216.3 564.8,101.3 565.4,126.9" stroke="#6baed6"/>
<polyline points="577.1,154.8 577.7,139.5 578.2,139.5 578.8,139.5 579.4,115.8" stroke="#bdbdbd"/>
<polyline points="654.4,141.5 654.9,120.0 655.5,108.3 656.1,182.3 656.7,94.7" stroke="#fd8d3c"/>
<polyline points="630.9,150.0 631.5,133.5 632.1,180.8 632.7,76.9 633.3,63.2" stroke="#3182bd"/>
<polyline points="558.3,161.3 558.9,71.1 559.5,63.1 560.1,129.7 560.7,157.2" stroke="#9ecae1"/>
<polyline points="544.3,180.7 544.9,205.6 545.5,92.2 546.0,109.5 546.6,142.5" stroke="#3182bd"/>
<polyline points="495.1,122.2 495.7,157.4 496.3,157.4 496.9,287.2 497.4,255.2" stroke="#3182bd"/>
<polyline points="450.6,160.6 451.2,52.8 451.8,135.8 452.4,124.7 452.9,180.4" stroke="#bdbdbd"/>
<polyline points="497.4,112.4 498.0,139.6 498.6,133.6 499.2,146.2 499.8,147.1" stroke="#9ecae1"/>
<polyline points="490.4,121.9 491.0,164.0 491.6,66.7 492.2,140.5 492.8,129.1" stroke="#969696"/>
<polyline points="586.4,113.7 587.0,83.7 587.6,75.2 588.2,62.7 588.8,62.7" stroke="#636363"/>
<polyline points="638.0,114.5 638.5,68.4 639.1,209.6 639.7,96.8 640.3,164.9" stroke="#9ecae1"/>
<polyline points="626.3,128.3 626.8,128.3 627.4,134.9 628.0,128.4 628.6,220.7" stroke="#9ecae1"/>
<polyline points="488.1,238.3 488.7,77.7 489.2,170.7 489.8,179.2 490.4,117.1" stroke="#fd8d3c"/>
<polyline points="567.7,121.2 568.3,138.7 568.9,133.3 569.5,90.7 570.0,84.6" stroke="#969696"/>
<polyline points="471.7,129.0 472.3,129.6 472.9,149.7 473.4,76.3 474.0,63.0" stroke="#3182bd"/>
<polyline points="638.0,87.3 638.5,62.2 639.1,79.7 639.7,113.5 640.3,95.0" stroke="#fd8d3c"/>
<polyline points="495.1,259.5 495.7,130.4 496.3,96.7 496.9,83.0 497.4,147.9" stroke="#969696"/>
<polyline points="612.2,149.8 612.8,116.9 613.4,83.0 614.0,200.0 614.5,120.6" stroke="#fdae6b"/>
<polyline points="591.1,87.9 591.7,87.9 592.3,157.3 592.9,111.1 593.5,206.7" stroke="#e6550d"/>
<polyline points="607.5,83.3 608.1,154.7 608.7,71.7 609.3,130.6 609.9,93.5" stroke="#bdbdbd"/>
<polyline points="471.7,122.9 472.3,119.0 472.9,168.8 473.4,109.4 474.0,109.4" stroke="#fdae6b"/>
<polyline points="577.1,85.7 577.7,160.0 578.2,141.7 578.8,141.7 579.4,107.8" stroke="#636363"/>
<polyline points="647.3,187.4 647.9,155.4 648.5,154.3 649.1,150.4 649.7,150.4" stroke="#9ecae1"/>
<polyline points="460.0,176.3 460.6,238.3 461.1,162.0 461.7,90.7 462.3,64.6" stroke="#9ecae1"/>
<polyline points="495.1,149.2 495.7,176.4 496.3,110.5 496.9,95.9 497.4,95.9" stroke="#bdbdbd"/>
<polyline points="609.9,112.8 610.4,89.4 611.0,130.9 611.6,130.9 612.2,149.8" stroke="#fdae6b"/>
<polyline points="570.0,210.1 570.6,120.7 571.2,133.6 571.8,171.7 572.4,94.0" stroke="#e6550d"/>
<polyline points="457.6,81.6 458.2,149.0 458.8,170.2 459.4,76.6 460.0,76.6" stroke="#969696"/>
<polyline points="640.3,86.4 640.9,153.2 641.5,153.2 642.1,146.2 642.6,157.4" stroke="#6baed6"/>
<polyline points="640.3,182.8 640.9,133.4 641.5,133.4 642.1,160.5 642.6,106.3" stroke="#636363"/>
<polyline points="481.1,175.4 481.6,86.9 482.2,148.3 482.8,88.3 483.4,169.5" stroke="#969696"/>
<polyline points="457.6,112.3 458.2,88.5 458.8,87.3 459.4,93.7 460.0,120.0" stroke="#bdbdbd"/>
<polyline points="525.5,175.5 526.1,177.5 526.7,120.2 527.3,129.4 527.9,161.5" stroke="#fdae6b"/>
<polyline points="485.7,73.7 486.3,147.2 486.9,133.8 487.5,95.5 488.1,95.5" stroke="#6baed6"/>
<polyline points="567.7,109.1 568.3,111.2 568.9,139.6 569.5,89.8 570.0,89.8" stroke="#969696"/>
<polyline points="527.9,129.5 528.5,112.6 529.1,178.1 529.6,88.2 530.2,108.8" stroke="#bdbdbd"/>
<polyline points="591.1,179.5 591.7,105.4 592.3,165.4 592.9,184.5 593.5,197.5" stroke="#3182bd"/>
<polyline points="429.5,137.0 430.1,145.3 430.7,184.0 431.3,190.8 431.9,179.2" stroke="#3182bd"/>
<polyline points="588.8,109.3 589.4,101.8 590.0,192.1 590.5,126.0 591.1,274.3" stroke="#fd8d3c"/>
<polyline points="474.0,167.1 474.6,136.3 475.2,138.7 475.8,120.7 476.4,153.5" stroke="#969696"/>
<polyline points="534.9,74.3 535.5,127.8 536.1,128.1 536.7,128.1 537.3,121.2" stroke="#636363"/>
<polyline points="424.8,168.4 425.4,251.9 426.0,236.8 426.6,236.8 427.2,189.1" stroke="#969696"/>
<polyline points="467.0,68.9 467.6,117.7 468.2,117.7 468.8,59.2 469.3,167.0" stroke="#6baed6"/>
<polyline points="460.0,74.8 460.6,154.5 461.1,174.7 461.7,125.1 462.3,93.7" stroke="#636363"/>
<polyline points="614.5,136.1 615.1,128.0 615.7,128.0 616.3,128.0 616.9,128.0" stroke="#6baed6"/>
<polyline points="584.1,142.2 584.7,62.4 585.3,90.6 585.9,130.9 586.4,128.0" stroke="#6baed6"/>
<polyline points="471.7,182.1 472.3,135.8 472.9,109.7 473.4,81.8 474.0,128.0" stroke="#e6550d"/>
<polyline points="490.4,219.9 491.0,219.9 491.6,134.9 492.2,134.9 492.8,134.9" stroke="#3182bd"/>
<polyline points="509.2,138.4 509.7,92.4 510.3,103.1 510.9,88.3 511.5,154.4" stroke="#3182bd"/>
<polyline points="638.0,139.4 638.5,125.6 639.1,66.4 639.7,141.1 640.3,141.1" stroke="#e6550d"/>
<polyline points="469.3,151.7 469.9,151.7 470.5,85.9 471.1,191.8 471.7,129.0" stroke="#3182bd"/>
<polyline points="511.5,129.5 512.1,129.5 512.7,85.2 513.3,123.8 513.8,222.7" stroke="#6baed6"/>
<polyline points="427.2,178.9 427.8,178.9 428.4,199.7 428.9,228.1 429.5,174.2" stroke="#fdae6b"/>
<polyline points="467.0,124.0 467.6,128.6 468.2,115.7 468.8,83.5 469.3,122.7" stroke="#636363"/>
<polyline points="450.6,146.1 451.2,146.1 451.8,125.1 452.4,165.7 452.9,76.0" stroke="#636363"/>
<polyline points="525.5,178.6 526.1,147.3 526.7,147.3 527.3,123.4 527.9,87.8" stroke="#9ecae1"/>
<polyline points="434.2,151.0 434.8,94.8 435.4,168.3 436.0,126.9 436.6,126.9" stroke="#636363"/>
<polyline points="436.6,107.5 437.1,173.1 437.7,117.9 438.3,136.2 438.9,203.9" stroke="#6baed6"/>
<polyline points="464.7,148.1 465.2,95.5 465.8,63.4 466.4,133.5 467.0,133.5" stroke="#3182bd"/>
<polyline points="591.1,274.3 591.7,134.6 592.3,53.8 592.9,119.6 593.5,87.0" stroke="#fd8d3c"/>
<polyline points="595.8,119.0 596.4,74.3 597.0,127.4 597.6,127.4 598.1,199.1" stroke="#fd8d3c"/>
<polyline points="537.3,99.4 537.8,153.0 538.4,96.8 539.0,125.6 539.6,182.5" stroke="#6baed6"/>
<polyline points="602.8,89.6 603.4,89.6 604.0,61.9 604.6,159.9 605.2,144.1" stroke="#969696"/>
<polyline points="481.1,115.4 481.6,115.4 482.2,139.7 482.8,125.9 483.4,157.1" stroke="#3182bd"/>
<polyline points="635.6,176.8 636.2,152.5 636.8,153.1 637.4,100.3 638.0,161.2" stroke="#fdae6b"/>
<polyline points="635.6,158.8 636.2,168.1 636.8,138.7 637.4,139.4 638.0,139.4" stroke="#e6550d"/>
<polyline points="539.6,216.1 540.2,87.7 540.8,193.7 541.4,113.6 541.9,132.7" stroke="#9ecae1"/>
<polyline points="626.3,157.3 626.8,76.7 627.4,147.9 628.0,105.7 628.6,116.1" stroke="#6baed6"/>
<polyline points="609.9,81.4 610.4,169.7 611.0,141.2 611.6,180.2 612.2,133.0" stroke="#6baed6"/>
<polyline points="490.4,126.7 491.0,100.9 491.6,114.5 492.2,140.1 492.8,140.1" stroke="#fdae6b"/>
<polyline points="574.7,111.9 575.3,174.8 575.9,116.1 576.5,154.6 577.1,204.4" stroke="#3182bd"/>
<polyline points="436.6,186.7 437.1,143.4 437.7,139.2 438.3,158.4 438.9,98.4" stroke="#3182bd"/>
<polyline points="448.3,96.9 448.8,175.1 449.4,254.0 450.0,88.0 450.6,94.2" stroke="#9ecae1"/>
<polyline points="558.3,126.2 558.9,163.8 559.5,163.8 560.1,212.2 560.7,144.8" stroke="#969696"/>
<polyline points="499.8,127.6 500.4,212.9 501.0,184.3 501.5,143.2 502.1,143.2" stroke="#bdbdbd"/>
<polyline points="595.8,143.0 596.4,92.6 597.0,204.9 597.6,139.2 598.1,81.8" stroke="#e6550d"/>
<polyline points="499.8,170.5 500.4,156.7 501.0,156.7 501.5,137.3 502.1,137.3" stroke="#e6550d"/>
<polyline points="565.4,210.9 565.9,188.2 566.5,183.7 567.1,175.9 567.7,91.8" stroke="#3182bd"/>
<polyline points="626.3,88.9 626.8,87.5 627.4,112.6 628.0,100.0 628.6,100.0" stroke="#6baed6"/>
<polyline points="436.6,91.1 437.1,132.1 437.7,119.9 438.3,119.6 438.9,205.0" stroke="#9ecae1"/>
<polyline points="616.9,93.5 617.5,129.9 618.1,129.9 618.6,66.3 619.2,78.9" stroke="#e6550d"/>
<polyline points="527.9,161.5 528.5,186.4 529.1,80.1 529.6,147.3 530.2,144.2" stroke="#fdae6b"/>
<polyline points="633.3,86.3 633.9,110.6 634.5,118.2 635.0,176.8 635.6,176.8" stroke="#fdae6b"/>
<polyline points="586.4,128.0 587.0,128.0 587.6,128.0 588.2,155.6 588.8,100.2" stroke="#6baed6"/>
<polyline points="558.3,85.7 558.9,215.4 559.5,114.5 560.1,158.7 560.7,105.7" stroke="#6baed6"/>
<polyline points="452.9,180.4 453.5,75.7 454.1,166.6 454.7,148.4 455.3,133.5" stroke="#bdbdbd"/>
<polyline points="513.8,173.9 514.4,89.6 515.0,123.5 515.6,123.5 516.2,104.6" stroke="#9ecae1"/>
<polyline points="455.3,139.1 455.9,104.9 456.5,139.1 457.0,135.6 457.6,135.6" stroke="#969696"/>
<polyline points="549.0,131.4 549.6,185.6 550.1,177.5 550.7,96.5 551.3,185.2" stroke="#969696"/>
<polyline points="441.2,80.1 441.8,179.2 442.4,164.7 443.0,164.7 443.6,172.9" stroke="#969696"/>
<polyline points="544.3,138.7 544.9,138.7 545.5,196.8 546.0,101.8 546.6,172.0" stroke="#fd8d3c"/>
<polyline points="654.4,123.5 654.9,209.9 655.5,166.1 656.1,166.1 656.7,202.2" stroke="#969696"/>
<polyline points="544.3,98.9 544.9,133.1 545.5,162.9 546.0,107.8 546.6,107.8" stroke="#969696"/>
<polyline points="483.4,132.6 484.0,132.6 484.6,145.5 485.1,132.3 485.7,74.8" stroke="#fdae6b"/>
<polyline points="469.3,105.6 469.9,206.1 470.5,89.1 471.1,140.4 471.7,140.4" stroke="#fd8d3c"/>
<polyline points="551.3,142.1 551.9,201.7 552.5,96.9 553.1,117.8 553.7,160.2" stroke="#e6550d"/>
<polyline points="448.3,194.5 448.8,68.9 449.4,68.9 450.0,103.4 450.6,172.2" stroke="#fdae6b"/>
<polyline points="593.5,63.2 594.1,186.8 594.6,86.8 595.2,115.9 595.8,98.0" stroke="#bdbdbd"/>
<polyline points="621.6,137.4 622.2,140.3 622.7,83.9 623.3,175.3 623.9,154.7" stroke="#3182bd"/>
<polyline points="530.2,154.9 530.8,116.7 531.4,118.7 532.0,149.0 532.6,157.4" stroke="#e6550d"/>
<polyline points="534.9,148.4 535.5,123.6 536.1,105.4 536.7,148.2 537.3,155.8" stroke="#9ecae1"/>
<polyline points="588.8,187.3 589.4,162.8 590.0,178.1 590.5,138.5 591.1,116.5" stroke="#bdbdbd"/>
<polyline points="539.6,141.2 540.2,173.3 540.8,164.7 541.4,77.0 541.9,86.3" stroke="#3182bd"/>
<polyline points="438.9,203.9 439.5,147.1 440.1,189.4 440.7,112.6 441.2,182.4" stroke="#6baed6"/>
<polyline points="586.4,77.4 587.0,137.0 587.6,137.0 588.2,196.9 588.8,101.9" stroke="#fdae6b"/>
<polyline points="455.3,90.8 455.9,121.2 456.5,236.1 457.0,179.0 457.6,129.4" stroke="#636363"/>
<polyline points="534.9,186.0 535.5,144.1 536.1,158.9 536.7,123.9 537.3,116.1" stroke="#6baed6"/>
<polyline points="645.0,92.8 645.6,172.0 646.2,81.2 646.7,166.1 647.3,133.6" stroke="#969696"/>
<polyline points="541.9,132.7 542.5,183.8 543.1,183.8 543.7,95.8 544.3,131.0" stroke="#9ecae1"/>
<polyline points="574.7,165.4 575.3,161.1 575.9,99.5 576.5,91.8 577.1,79.4" stroke="#969696"/>
<polyline points="600.5,108.1 601.1,87.6 601.7,143.8 602.2,150.9 602.8,160.5" stroke="#e6550d"/>
<polyline points="490.4,227.1 491.0,83.2 491.6,154.1 492.2,85.3 492.8,116.6" stroke="#969696"/>
<polyline points="445.9,80.9 446.5,80.9 447.1,192.9 447.7,208.9 448.3,151.6" stroke="#e6550d"/>
<polyline points="429.5,207.4 430.1,217.1 430.7,217.1 431.3,166.6 431.9,127.0" stroke="#6baed6"/>
<polyline points="424.8,150.9 425.4,267.4 426.0,201.5 426.6,281.3 427.2,185.1" stroke="#3182bd"/>
<polyline points="600.5,131.4 601.1,163.9 601.7,61.6 602.2,116.8 602.8,116.8" stroke="#bdbdbd"/>
<polyline points="556.0,130.7 556.6,133.5 557.2,103.3 557.8,86.7 558.3,191.6" stroke="#fdae6b"/>
<polyline points="488.1,182.1 488.7,134.3 489.2,236.2 489.8,113.6 490.4,107.3" stroke="#636363"/>
<polyline points="530.2,124.5 530.8,165.5 531.4,123.6 532.0,202.4 532.6,81.1" stroke="#3182bd"/>
<polyline points="598.1,126.3 598.7,136.8 599.3,138.6 599.9,75.2 600.5,138.7" stroke="#9ecae1"/>
<polyline points="581.8,95.8 582.3,172.5 582.9,146.1 583.5,131.0 584.1,143.0" stroke="#3182bd"/>
<polyline points="600.5,127.4 601.1,159.3 601.7,137.7 602.2,137.7 602.8,134.3" stroke="#969696"/>
<polyline points="598.1,82.9 598.7,119.2 599.3,93.3 599.9,173.5 600.5,157.1" stroke="#3182bd"/>
<polyline points="488.1,95.5 488.7,166.8 489.2,166.8 489.8,166.8 490.4,54.6" stroke="#6baed6"/>
<polyline points="490.4,54.6 491.0,192.5 491.6,138.9 492.2,154.6 492.8,154.6" stroke="#6baed6"/>
<polyline points="504.5,133.3 505.1,133.3 505.6,158.6 506.2,93.0 506.8,113.6" stroke="#3182bd"/>
<polyline points="612.2,125.5 612.8,125.5 613.4,121.2 614.0,126.7 614.5,136.1" stroke="#6baed6"/>
<polyline points="443.6,59.9 444.2,99.7 444.7,142.7 445.3,107.9 445.9,159.9" stroke="#6baed6"/>
<polyline points="593.5,113.8 594.1,113.8 594.6,142.7 595.2,109.5 595.8,177.6" stroke="#969696"/>
<polyline points="464.7,160.7 465.2,152.7 465.8,152.7 466.4,297.0 467.0,297.0" stroke="#fd8d3c"/>
<polyline points="460.0,175.1 460.6,79.2 461.1,136.7 461.7,196.5 462.3,209.4" stroke="#3182bd"/>
<polyline points="647.3,163.4 647.9,90.5 648.5,138.7 649.1,189.2 649.7,95.6" stroke="#bdbdbd"/>
<polyline points="612.2,67.0 612.8,127.8 613.4,89.2 614.0,89.2 614.5,162.9" stroke="#e6550d"/>
<polyline points="616.9,140.7 617.5,146.1 618.1,168.3 618.6,168.3 619.2,137.3" stroke="#fd8d3c"/>
<polyline points="558.3,144.9 558.9,129.1 559.5,129.1 560.1,77.1 560.7,100.2" stroke="#969696"/>
<polyline points="549.0,146.2 549.6,127.7 550.1,130.6 550.7,205.0 551.3,145.3" stroke="#6baed6"/>
<polyline points="581.8,122.9 582.3,112.9 582.9,79.8 583.5,75.5 584.1,74.4" stroke="#969696"/>
<polyline points="553.7,219.1 554.2,154.7 554.8,114.5 555.4,137.4 556.0,138.6" stroke="#6baed6"/>
<polyline points="640.3,106.3 640.9,91.5 641.5,116.6 642.1,90.3 642.6,78.5" stroke="#3182bd"/>
<polyline points="464.7,161.1 465.2,94.8 465.8,134.6 466.4,157.8 467.0,157.9" stroke="#fdae6b"/>
<polyline points="558.3,123.4 558.9,139.1 559.5,158.8 560.1,114.8 560.7,116.9" stroke="#3182bd"/>
<polyline points="549.0,106.9 549.6,106.9 550.1,120.9 550.7,150.3 551.3,67.3" stroke="#969696"/>
<polyline points="642.6,165.3 643.2,107.8 643.8,130.4 644.4,130.4 645.0,123.4" stroke="#e6550d"/>
<polyline points="616.9,176.5 617.5,143.4 618.1,205.9 618.6,205.9 619.2,135.7" stroke="#969696"/>
<polyline points="654.4,183.8 654.9,148.1 655.5,106.5 656.1,88.1 656.7,125.3" stroke="#bdbdbd"/>
<polyline points="633.3,97.3 633.9,179.9 634.5,57.9 635.0,106.8 635.6,190.4" stroke="#636363"/>
<polyline points="485.7,86.8 486.3,149.0 486.9,128.8 487.5,182.9 488.1,123.4" stroke="#3182bd"/>
<polyline points="483.4,108.1 484.0,108.7 484.6,179.7 485.1,179.7 485.7,91.6" stroke="#6baed6"/>
<polyline points="513.8,71.6 514.4,163.6 515.0,84.5 515.6,116.7 516.2,101.0" stroke="#e6550d"/>
<polyline points="495.1,57.0 495.7,78.6 496.3,148.8 496.9,106.2 497.4,197.7" stroke="#6baed6"/>
<polyline points="579.4,176.9 580.0,181.9 580.6,174.2 581.2,113.7 581.8,164.4" stroke="#fd8d3c"/>
<polyline points="516.2,129.3 516.8,146.8 517.4,162.1 517.9,102.6 518.5,158.4" stroke="#bdbdbd"/>
<polyline points="502.1,134.7 502.7,56.5 503.3,166.8 503.9,231.1 504.5,178.1" stroke="#fdae6b"/>
<polyline points="577.1,141.3 577.7,114.2 578.2,103.1 578.8,127.7 579.4,176.9" stroke="#fd8d3c"/>
<polyline points="649.7,126.3 650.3,126.3 650.8,162.5 651.4,131.9 652.0,165.3" stroke="#fdae6b"/>
<polyline points="605.2,319.4 605.8,95.5 606.3,78.6 606.9,136.6 607.5,136.6" stroke="#e6550d"/>
<polyline points="527.9,134.4 528.5,76.3 529.1,95.3 529.6,150.8 530.2,174.5" stroke="#6baed6"/>
<polyline points="478.7,151.9 479.3,111.7 479.9,140.7 480.5,140.7 481.1,199.8" stroke="#6baed6"/>
<polyline points="628.6,116.1 629.2,147.0 629.8,169.8 630.4,171.4 630.9,171.4" stroke="#6baed6"/>
<polyline points="422.5,200.1 423.1,202.0 423.7,220.5 424.3,293.4 424.8,293.4" stroke="#6baed6"/>
<polyline points="424.8,293.4 425.4,184.3 426.0,143.5 426.6,143.0 427.2,103.0" stroke="#6baed6"/>
<polyline points="450.6,191.3 451.2,191.3 451.8,113.8 452.4,88.2 452.9,88.2" stroke="#6baed6"/>
<polyline points="445.9,228.0 446.5,110.1 447.1,179.6 447.7,68.4 448.3,65.8" stroke="#969696"/>
<polyline points="509.2,101.5 509.7,115.4 510.3,137.5 510.9,174.0 511.5,129.5" stroke="#6baed6"/>
<polyline points="460.0,205.7 460.6,144.4 461.1,148.7 461.7,155.1 462.3,62.8" stroke="#969696"/>
<polyline points="499.8,132.2 500.4,132.2 501.0,98.4 501.5,98.4 502.1,98.4" stroke="#fd8d3c"/>
<polyline points="513.8,198.5 514.4,162.6 515.0,150.7 515.6,81.1 516.2,81.1" stroke="#3182bd"/>
<polyline points="584.1,173.5 584.7,117.0 585.3,117.0 585.9,151.6 586.4,151.6" stroke="#969696"/>
<polyline points="506.8,124.6 507.4,95.5 508.0,93.6 508.6,177.0 509.2,101.5" stroke="#6baed6"/>
<polyline points="621.6,184.5 622.2,142.5 622.7,142.5 623.3,142.5 623.9,122.7" stroke="#fdae6b"/>
<polyline points="633.3,63.2 633.9,128.5 634.5,194.1 635.0,111.7 635.6,187.2" stroke="#3182bd"/>
<polyline points="630.9,80.7 631.5,163.0 632.1,162.2 632.7,110.2 633.3,140.3" stroke="#6baed6"/>
<polyline points="572.4,82.6 573.0,82.6 573.6,82.6 574.1,142.5 574.7,142.5" stroke="#fd8d3c"/>
<polyline points="570.0,84.6 570.6,179.2 571.2,180.3 571.8,100.7 572.4,207.2" stroke="#969696"/>
<polyline points="614.5,49.5 615.1,104.3 615.7,98.9 616.3,191.4 616.9,109.5" stroke="#636363"/>
<polyline points="422.5,278.7 423.1,198.7 423.7,239.9 424.3,109.2 424.8,150.9" stroke="#3182bd"/>
<polyline points="623.9,147.7 624.5,147.7 625.1,160.1 625.7,157.6 626.3,107.4" stroke="#bdbdbd"/>
<polyline points="450.6,83.9 451.2,205.5 451.8,206.6 452.4,206.6 452.9,105.3" stroke="#969696"/>
<polyline points="656.7,125.3 659.6,40.3" stroke="#bdbdbd"/>
<polyline points="490.4,117.1 491.0,155.3 491.6,161.7 492.2,91.4 492.8,107.8" stroke="#fd8d3c"/>
<polyline points="532.6,125.9 533.2,128.8 533.7,99.2 534.3,79.9 534.9,74.3" stroke="#636363"/>
<polyline points="586.4,163.2 587.0,105.0 587.6,105.0 588.2,105.0 588.8,105.0" stroke="#9ecae1"/>
<polyline points="422.5,262.9 423.1,162.7 423.7,254.1 424.3,254.1 424.8,254.1" stroke="#fdae6b"/>
<polyline points="572.4,100.5 573.0,121.7 573.6,145.2 574.1,137.0 574.7,138.4" stroke="#969696"/>
<polyline points="490.4,95.3 491.0,95.3 491.6,131.5 492.2,124.0 492.8,122.2" stroke="#3182bd"/>
<polyline points="523.2,176.8 523.8,83.6 524.4,125.2 525.0,87.2 525.5,145.8" stroke="#969696"/>
<polyline points="546.6,120.2 547.2,173.6 547.8,95.0 548.4,98.7 549.0,106.9" stroke="#969696"/>
<polyline points="647.3,167.7 647.9,167.7 648.5,100.3 649.1,174.6 649.7,51.8" stroke="#3182bd"/>
<polyline points="502.1,95.8 502.7,95.8 503.3,153.6 503.9,153.6 504.5,91.1" stroke="#969696"/>
<polyline points="499.8,135.9 500.4,171.5 501.0,107.3 501.5,107.3 502.1,285.6" stroke="#636363"/>
<polyline points="520.9,144.5 521.4,144.5 522.0,114.3 522.6,152.7 523.2,252.3" stroke="#fdae6b"/>
<polyline points="429.5,134.6 430.1,83.3 430.7,198.0 431.3,154.7 431.9,147.8" stroke="#969696"/>
<polyline points="652.0,109.0 652.6,83.0 653.2,72.5 653.8,139.6 654.4,131.9" stroke="#e6550d"/>
<polyline points="614.5,155.9 615.1,96.0 615.7,141.1 616.3,141.1 616.9,116.1" stroke="#3182bd"/>
<polyline points="478.7,158.7 479.3,91.8 479.9,136.1 480.5,153.9 481.1,153.9" stroke="#e6550d"/>
<polyline points="652.0,96.2 652.6,173.7 653.2,131.4 653.8,140.6 654.4,168.7" stroke="#636363"/>
<polyline points="621.6,76.8 622.2,103.3 622.7,162.8 623.3,110.9 623.9,147.7" stroke="#bdbdbd"/>
<polyline points="623.9,90.0 624.5,90.0 625.1,91.9 625.7,61.1 626.3,61.1" stroke="#636363"/>
<polyline points="457.6,202.5 458.2,202.5 458.8,136.3 459.4,126.9 460.0,136.9" stroke="#6baed6"/>
<polyline points="626.3,129.6 626.8,177.2 627.4,145.0 628.0,107.9 628.6,95.1" stroke="#969696"/>
<polyline points="623.9,80.4 624.5,114.2 625.1,188.8 625.7,126.9 626.3,100.4" stroke="#fd8d3c"/>
<polyline points="431.9,127.0 432.5,105.4 433.0,153.8 433.6,235.4 434.2,235.4" stroke="#6baed6"/>
<polyline points="659.6,40.3 715.2,40.3" stroke="#6f9fc8" stroke-width="1.5"/>
</g></g>
<g stroke="#ff0000" stroke-width="2.7" stroke-dasharray="10 4.35">
<line x1="319.0" y1="319.4" x2="319.0" y2="37.2"/>
<line x1="659.6" y1="319.4" x2="659.6" y2="37.2"/>
</g>
<g stroke="#000" stroke-width="1.1" fill="none">
<polyline points="67.6,37.2 67.6,319.4 389,319.4"/>
<polyline points="408.4,37.2 408.4,319.4 730,319.4"/>
</g>
<g stroke="#000" stroke-width="0.8">
<line x1="65.2" y1="319.4" x2="67.6" y2="319.4"/>
<line x1="406.0" y1="319.4" x2="408.4" y2="319.4"/>
<line x1="81.9" y1="319.4" x2="81.9" y2="321.6"/>
<line x1="422.5" y1="319.4" x2="422.5" y2="321.6"/>
<line x1="65.2" y1="263.6" x2="67.6" y2="263.6"/>
<line x1="406.0" y1="263.6" x2="408.4" y2="263.6"/>
<line x1="140.5" y1="319.4" x2="140.5" y2="321.6"/>
<line x1="481.1" y1="319.4" x2="481.1" y2="321.6"/>
<line x1="65.2" y1="207.8" x2="67.6" y2="207.8"/>
<line x1="406.0" y1="207.8" x2="408.4" y2="207.8"/>
<line x1="199.0" y1="319.4" x2="199.0" y2="321.6"/>
<line x1="539.6" y1="319.4" x2="539.6" y2="321.6"/>
<line x1="65.2" y1="151.9" x2="67.6" y2="151.9"/>
<line x1="406.0" y1="151.9" x2="408.4" y2="151.9"/>
<line x1="257.6" y1="319.4" x2="257.6" y2="321.6"/>
<line x1="598.1" y1="319.4" x2="598.1" y2="321.6"/>
<line x1="65.2" y1="96.1" x2="67.6" y2="96.1"/>
<line x1="406.0" y1="96.1" x2="408.4" y2="96.1"/>
<line x1="316.1" y1="319.4" x2="316.1" y2="321.6"/>
<line x1="656.7" y1="319.4" x2="656.7" y2="321.6"/>
<line x1="65.2" y1="40.3" x2="67.6" y2="40.3"/>
<line x1="406.0" y1="40.3" x2="408.4" y2="40.3"/>
<line x1="374.6" y1="319.4" x2="374.6" y2="321.6"/>
<line x1="715.2" y1="319.4" x2="715.2" y2="321.6"/>
</g>
<g font-size="17.5px" fill="#000">
<text x="62.3" y="325.7" text-anchor="end">0.0</text>
<text x="81.9" y="335.9" text-anchor="middle">0</text>
<text x="422.5" y="335.9" text-anchor="middle">0</text>
<text x="62.3" y="269.9" text-anchor="end">0.2</text>
<text x="140.5" y="335.9" text-anchor="middle">100</text>
<text x="481.1" y="335.9" text-anchor="middle">100</text>
<text x="62.3" y="214.1" text-anchor="end">0.4</text>
<text x="199.0" y="335.9" text-anchor="middle">200</text>
<text x="539.6" y="335.9" text-anchor="middle">200</text>
<text x="62.3" y="158.2" text-anchor="end">0.6</text>
<text x="257.6" y="335.9" text-anchor="middle">300</text>
<text x="598.1" y="335.9" text-anchor="middle">300</text>
<text x="62.3" y="102.4" text-anchor="end">0.8</text>
<text x="316.1" y="335.9" text-anchor="middle">400</text>
<text x="656.7" y="335.9" text-anchor="middle">400</text>
<text x="62.3" y="46.6" text-anchor="end">1.0</text>
<text x="374.6" y="335.9" text-anchor="middle">500</text>
<text x="715.2" y="335.9" text-anchor="middle">500</text>
<text x="228" y="354.1" text-anchor="middle">Epochs</text>
<text x="569" y="354.1" text-anchor="middle">Epochs</text>
<g font-size="19.5px"><text x="194.9" y="32.8" font-style="italic">β</text><rect x="213.1" y="24.1" width="12.5" height="1.45"/><rect x="213.1" y="28.2" width="12.5" height="1.45"/><text x="232.0" y="32.8" textLength="30" lengthAdjust="spacingAndGlyphs">0.8</text></g>
<g font-size="19.5px"><text x="535.7" y="32.8" font-style="italic">β</text><rect x="553.9" y="24.1" width="12.5" height="1.45"/><rect x="553.9" y="28.2" width="12.5" height="1.45"/><text x="572.8" y="32.8" textLength="30" lengthAdjust="spacingAndGlyphs">0.2</text></g>
<g transform="translate(31.3,283.2) rotate(-90)">
<text x="-0.8" y="0">1</text>
<rect x="14.6" y="-6.35" width="10.2" height="1.3"/>
<text x="30.5" y="0" font-style="italic">α</text>
<text x="50.5" y="0" textLength="158.2" lengthAdjust="spacingAndGlyphs">(Average Accuracy)</text>
</g>
</g>
<g font-size="16px" fill="#ff0000">
<text x="180" y="263.3" text-anchor="middle">MCMC-VQA</text>
<text x="347.2" y="263.1" text-anchor="middle">VQE</text>
</g>
</svg>
</body></html>
